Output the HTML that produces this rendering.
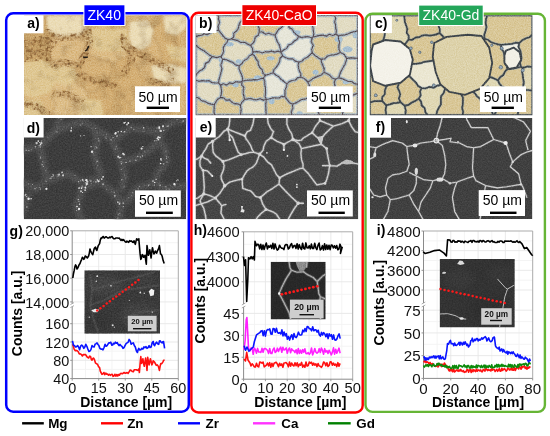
<!DOCTYPE html>
<html><head><meta charset="utf-8"><title>ZK40 microstructure</title>
<style>html,body{margin:0;padding:0;background:#fff;width:550px;height:436px;overflow:hidden}svg{display:block}</style>
</head><body>
<svg width="550" height="436" viewBox="0 0 550 436" font-family='"Liberation Sans", Arial, sans-serif'>
<rect width="550" height="436" fill="#fff"/>
<svg x="24" y="15.3" width="162.2" height="99.7" viewBox="0 0 162.2 99.7" preserveAspectRatio="none" overflow="hidden"><defs><filter color-interpolation-filters="sRGB" id="fba" x="0" y="0" width="1" height="1"><feGaussianBlur stdDeviation="0.5"/></filter><filter color-interpolation-filters="sRGB" id="nba" x="0" y="0" width="1" height="1"><feTurbulence type="fractalNoise" baseFrequency="0.8" numOctaves="2" seed="11"/><feColorMatrix values="1.6 0 0 0 -0.3  1.6 0 0 0 -0.3  1.6 0 0 0 -0.3  0 0 0 0 1"/></filter><filter color-interpolation-filters="sRGB" id="sba" x="-0.5" y="-0.5" width="2" height="2"><feGaussianBlur stdDeviation="2.2"/></filter></defs>
<filter color-interpolation-filters="sRGB" id="ab" x="-0.1" y="-0.1" width="1.2" height="1.2"><feGaussianBlur stdDeviation="1.3"/></filter>
<filter color-interpolation-filters="sRGB" id="ab3" x="-0.1" y="-0.1" width="1.2" height="1.2"><feGaussianBlur stdDeviation="2.2"/></filter>
<filter color-interpolation-filters="sRGB" id="ab2" x="0" y="0" width="1" height="1"><feTurbulence type="fractalNoise" baseFrequency="0.07" numOctaves="3" seed="4"/><feColorMatrix values="0 0 0 0 0.45  0 0 0 0 0.33  0 0 0 0 0.18  0 0 0 -2.2 1.1"/></filter>
<rect width="162.2" height="99.7" fill="#d8b67d"/>
<g filter="url(#ab)">
<path d="M63.0,37.6L61.3,34.3L62.2,30.7L61.5,27.3L59.5,24.8L57.4,22.4L54.9,20.5L53.2,17.8L49.5,16.9L47.3,14.7L47.3,10.4L42.7,10.4L42.0,6.7L39.1,5.1L38.9,0.9L35.3,0.0L29.2,0.0L30.8,3.2L28.4,6.1L28.7,9.1L28.3,12.2L29.4,15.3L28.2,18.2L25.9,21.1L27.9,24.3L25.4,27.2L25.3,30.3L28.6,33.5L25.4,36.4L25.2,39.4L27.7,42.6L27.7,45.7L24.7,48.5L24.6,51.6L26.2,54.7L26.3,57.8L25.1,60.8L27.5,62.1L31.0,62.1L34.3,60.3L37.9,61.5L41.6,62.7L44.9,60.5L47.2,58.2L48.9,55.4L51.6,53.4L52.9,50.3L53.8,46.9L57.2,45.4L59.5,43.1L61.5,40.5Z" fill="#dbba84"/>
<path d="M25.1,60.8L26.3,57.8L26.2,54.7L24.6,51.6L24.7,48.5L27.7,45.7L27.7,42.6L25.2,39.4L25.4,36.4L28.6,33.5L25.3,30.3L25.4,27.2L27.9,24.3L25.9,21.1L28.2,18.2L29.4,15.3L28.3,12.2L28.7,9.1L28.4,6.1L30.8,3.2L29.2,0.0L0.0,0.0L0.0,61.2L3.1,59.8L6.3,63.0L9.4,62.6L12.5,59.0L15.7,59.6L18.8,59.6L22.0,60.3Z" fill="#cfaa70"/>
<path d="M83.6,68.9L83.9,65.3L84.9,62.0L87.1,58.9L88.0,55.5L87.3,51.7L88.6,48.5L86.2,46.3L83.6,44.4L80.1,44.9L76.8,44.6L73.7,44.0L71.9,40.5L68.1,41.5L65.5,39.6L63.0,37.6L61.5,40.5L59.5,43.1L57.2,45.4L53.8,46.9L52.9,50.3L51.6,53.4L48.9,55.4L47.2,58.2L44.9,60.5L47.3,62.6L50.0,64.4L52.6,66.2L53.4,70.2L56.6,71.4L60.1,72.2L61.0,76.1L64.4,77.0L67.9,76.4L71.6,76.1L73.8,72.3L76.6,70.2L81.2,71.9Z" fill="#d6b279"/>
<path d="M107.6,29.0L104.2,28.6L103.2,24.8L100.4,23.5L96.7,23.4L96.3,18.8L93.5,17.6L90.9,16.0L87.7,15.2L85.6,12.9L83.3,15.1L79.9,15.4L77.7,17.9L75.9,21.0L71.5,19.7L69.1,21.9L67.3,25.0L63.4,24.4L61.5,27.3L62.2,30.7L61.3,34.3L63.0,37.6L65.5,39.6L68.1,41.5L71.9,40.5L73.7,44.0L76.8,44.6L80.1,44.9L83.6,44.4L86.2,46.3L88.6,48.5L92.1,47.9L94.0,44.2L97.1,42.9L100.8,42.7L103.7,40.9L105.9,38.3L104.6,34.6L106.2,31.8Z" fill="#dcbc86"/>
<path d="M145.0,63.9L148.3,62.4L151.9,61.7L155.6,61.8L158.7,59.6L162.2,58.8L162.2,0.0L138.4,0.0L135.9,2.5L135.9,6.9L133.5,9.5L129.1,10.7L128.1,14.4L127.9,17.7L128.2,20.8L131.4,22.9L131.4,26.2L134.0,28.5L135.3,31.3L135.0,34.6L137.3,37.1L138.5,39.9L135.8,44.0L140.3,45.7L138.7,49.5L140.5,52.1L140.2,55.4L142.9,57.7L143.1,60.9L144.4,63.7Z" fill="#d5b177"/>
<path d="M122.2,64.9L125.3,63.4L128.5,63.4L131.7,63.9L134.9,65.5L138.0,62.4L141.2,62.9L144.4,63.7L143.1,60.9L142.9,57.7L140.2,55.4L140.5,52.1L138.7,49.5L140.3,45.7L135.8,44.0L138.5,39.9L137.3,37.1L135.0,34.6L135.3,31.3L134.0,28.5L131.4,26.2L131.4,22.9L128.2,20.8L127.9,17.7L128.1,14.4L125.6,16.2L122.9,17.9L121.3,21.0L117.1,20.5L116.4,25.0L111.7,23.9L109.1,25.5L107.6,29.0L106.2,31.8L104.6,34.6L105.9,38.3L103.7,40.9L104.4,44.2L106.0,46.8L109.0,48.2L110.5,51.0L114.1,52.0L115.7,54.6L115.4,58.6L117.1,61.1L119.8,62.9Z" fill="#d9b67e"/>
<path d="M88.6,48.5L87.3,51.7L88.0,55.5L87.1,58.9L84.9,62.0L83.9,65.3L83.6,68.9L87.2,69.8L88.6,73.2L90.1,76.6L94.4,76.6L96.5,79.2L99.7,80.6L100.4,85.0L102.9,87.1L106.3,88.2L107.5,85.2L111.0,83.8L112.7,81.2L113.2,77.7L113.7,74.2L117.6,73.1L118.6,70.0L121.5,68.2L122.2,64.9L119.8,62.9L117.1,61.1L115.4,58.6L115.7,54.6L114.1,52.0L110.5,51.0L109.0,48.2L106.0,46.8L104.4,44.2L103.7,40.9L100.8,42.7L97.1,42.9L94.0,44.2L92.1,47.9Z" fill="#d4af75"/>
<path d="M27.5,62.1L25.1,60.8L22.0,60.3L18.8,59.6L15.7,59.6L12.5,59.0L9.4,62.6L6.3,63.0L3.1,59.8L0.0,61.2L0.0,99.7L30.7,99.7L28.6,96.7L30.4,93.4L31.5,90.2L31.4,87.0L28.1,84.1L29.1,80.9L30.5,77.6L29.8,74.5L26.9,71.6L27.3,68.4L27.3,65.2Z" fill="#dab880"/>
<path d="M44.9,60.5L41.6,62.7L37.9,61.5L34.3,60.3L31.0,62.1L27.5,62.1L27.3,65.2L27.3,68.4L26.9,71.6L29.8,74.5L30.5,77.6L29.1,80.9L28.1,84.1L31.4,87.0L31.5,90.2L30.4,93.4L28.6,96.7L30.7,99.7L64.4,99.7L62.5,96.5L65.0,93.2L63.9,90.0L65.3,86.7L64.2,83.5L63.6,80.2L64.4,77.0L61.0,76.1L60.1,72.2L56.6,71.4L53.4,70.2L52.6,66.2L50.0,64.4L47.3,62.6Z" fill="#ddbe89"/>
<path d="M106.3,88.2L102.9,87.1L100.4,85.0L99.7,80.6L96.5,79.2L94.4,76.6L90.1,76.6L88.6,73.2L87.2,69.8L83.6,68.9L81.2,71.9L76.6,70.2L73.8,72.3L71.6,76.1L67.9,76.4L64.4,77.0L63.6,80.2L64.2,83.5L65.3,86.7L63.9,90.0L65.0,93.2L62.5,96.5L64.4,99.7L106.6,99.7L107.9,95.8L106.3,92.0Z" fill="#d3ae74"/>
<path d="M145.0,63.9L144.4,63.7L141.2,62.9L138.0,62.4L134.9,65.5L131.7,63.9L128.5,63.4L125.3,63.4L122.2,64.9L121.5,68.2L118.6,70.0L117.6,73.1L113.7,74.2L113.2,77.7L112.7,81.2L111.0,83.8L107.5,85.2L106.3,88.2L106.3,92.0L107.9,95.8L106.6,99.7L145.0,99.7L146.7,96.4L143.5,93.2L144.9,89.9L143.4,86.7L146.9,83.4L145.7,80.2L143.3,76.9L144.6,73.7L145.9,70.4L146.6,67.1Z" fill="#d8b57c"/>
<path d="M145.0,63.9L146.6,67.1L145.9,70.4L144.6,73.7L143.3,76.9L145.7,80.2L146.9,83.4L143.4,86.7L144.9,89.9L143.5,93.2L146.7,96.4L145.0,99.7L162.2,99.7L162.2,58.8L158.7,59.6L155.6,61.8L151.9,61.7L148.3,62.4Z" fill="#dab87f"/>
<path d="M61.5,27.3L63.4,24.4L67.3,25.0L69.1,21.9L71.5,19.7L75.9,21.0L77.7,17.9L79.9,15.4L83.3,15.1L85.6,12.9L87.2,9.5L86.9,6.3L83.2,3.4L84.4,0.0L35.3,0.0L38.9,0.9L39.1,5.1L42.0,6.7L42.7,10.4L47.3,10.4L47.3,14.7L49.5,16.9L53.2,17.8L54.9,20.5L57.4,22.4L59.5,24.8Z" fill="#dbba83"/>
<path d="M128.1,14.4L129.1,10.7L133.5,9.5L135.9,6.9L135.9,2.5L138.4,0.0L84.4,0.0L83.2,3.4L86.9,6.3L87.2,9.5L85.6,12.9L87.7,15.2L90.9,16.0L93.5,17.6L96.3,18.8L96.7,23.4L100.4,23.5L103.2,24.8L104.2,28.6L107.6,29.0L109.1,25.5L111.7,23.9L116.4,25.0L117.1,20.5L121.3,21.0L122.9,17.9L125.6,16.2Z" fill="#d8b67d"/>
<path d="M63.0,37.6L61.3,34.3L62.2,30.7L61.5,27.3L59.5,24.8L57.4,22.4L54.9,20.5L53.2,17.8L49.5,16.9L47.3,14.7L47.3,10.4L42.7,10.4L42.0,6.7L39.1,5.1L38.9,0.9L35.3,0.0L29.2,0.0L30.8,3.2L28.4,6.1L28.7,9.1L28.3,12.2L29.4,15.3L28.2,18.2L25.9,21.1L27.9,24.3L25.4,27.2L25.3,30.3L28.6,33.5L25.4,36.4L25.2,39.4L27.7,42.6L27.7,45.7L24.7,48.5L24.6,51.6L26.2,54.7L26.3,57.8L25.1,60.8L27.5,62.1L31.0,62.1L34.3,60.3L37.9,61.5L41.6,62.7L44.9,60.5L47.2,58.2L48.9,55.4L51.6,53.4L52.9,50.3L53.8,46.9L57.2,45.4L59.5,43.1L61.5,40.5ZM25.1,60.8L26.3,57.8L26.2,54.7L24.6,51.6L24.7,48.5L27.7,45.7L27.7,42.6L25.2,39.4L25.4,36.4L28.6,33.5L25.3,30.3L25.4,27.2L27.9,24.3L25.9,21.1L28.2,18.2L29.4,15.3L28.3,12.2L28.7,9.1L28.4,6.1L30.8,3.2L29.2,0.0L0.0,0.0L0.0,61.2L3.1,59.8L6.3,63.0L9.4,62.6L12.5,59.0L15.7,59.6L18.8,59.6L22.0,60.3ZM83.6,68.9L83.9,65.3L84.9,62.0L87.1,58.9L88.0,55.5L87.3,51.7L88.6,48.5L86.2,46.3L83.6,44.4L80.1,44.9L76.8,44.6L73.7,44.0L71.9,40.5L68.1,41.5L65.5,39.6L63.0,37.6L61.5,40.5L59.5,43.1L57.2,45.4L53.8,46.9L52.9,50.3L51.6,53.4L48.9,55.4L47.2,58.2L44.9,60.5L47.3,62.6L50.0,64.4L52.6,66.2L53.4,70.2L56.6,71.4L60.1,72.2L61.0,76.1L64.4,77.0L67.9,76.4L71.6,76.1L73.8,72.3L76.6,70.2L81.2,71.9ZM107.6,29.0L104.2,28.6L103.2,24.8L100.4,23.5L96.7,23.4L96.3,18.8L93.5,17.6L90.9,16.0L87.7,15.2L85.6,12.9L83.3,15.1L79.9,15.4L77.7,17.9L75.9,21.0L71.5,19.7L69.1,21.9L67.3,25.0L63.4,24.4L61.5,27.3L62.2,30.7L61.3,34.3L63.0,37.6L65.5,39.6L68.1,41.5L71.9,40.5L73.7,44.0L76.8,44.6L80.1,44.9L83.6,44.4L86.2,46.3L88.6,48.5L92.1,47.9L94.0,44.2L97.1,42.9L100.8,42.7L103.7,40.9L105.9,38.3L104.6,34.6L106.2,31.8ZM145.0,63.9L148.3,62.4L151.9,61.7L155.6,61.8L158.7,59.6L162.2,58.8L162.2,0.0L138.4,0.0L135.9,2.5L135.9,6.9L133.5,9.5L129.1,10.7L128.1,14.4L127.9,17.7L128.2,20.8L131.4,22.9L131.4,26.2L134.0,28.5L135.3,31.3L135.0,34.6L137.3,37.1L138.5,39.9L135.8,44.0L140.3,45.7L138.7,49.5L140.5,52.1L140.2,55.4L142.9,57.7L143.1,60.9L144.4,63.7ZM122.2,64.9L125.3,63.4L128.5,63.4L131.7,63.9L134.9,65.5L138.0,62.4L141.2,62.9L144.4,63.7L143.1,60.9L142.9,57.7L140.2,55.4L140.5,52.1L138.7,49.5L140.3,45.7L135.8,44.0L138.5,39.9L137.3,37.1L135.0,34.6L135.3,31.3L134.0,28.5L131.4,26.2L131.4,22.9L128.2,20.8L127.9,17.7L128.1,14.4L125.6,16.2L122.9,17.9L121.3,21.0L117.1,20.5L116.4,25.0L111.7,23.9L109.1,25.5L107.6,29.0L106.2,31.8L104.6,34.6L105.9,38.3L103.7,40.9L104.4,44.2L106.0,46.8L109.0,48.2L110.5,51.0L114.1,52.0L115.7,54.6L115.4,58.6L117.1,61.1L119.8,62.9ZM88.6,48.5L87.3,51.7L88.0,55.5L87.1,58.9L84.9,62.0L83.9,65.3L83.6,68.9L87.2,69.8L88.6,73.2L90.1,76.6L94.4,76.6L96.5,79.2L99.7,80.6L100.4,85.0L102.9,87.1L106.3,88.2L107.5,85.2L111.0,83.8L112.7,81.2L113.2,77.7L113.7,74.2L117.6,73.1L118.6,70.0L121.5,68.2L122.2,64.9L119.8,62.9L117.1,61.1L115.4,58.6L115.7,54.6L114.1,52.0L110.5,51.0L109.0,48.2L106.0,46.8L104.4,44.2L103.7,40.9L100.8,42.7L97.1,42.9L94.0,44.2L92.1,47.9ZM27.5,62.1L25.1,60.8L22.0,60.3L18.8,59.6L15.7,59.6L12.5,59.0L9.4,62.6L6.3,63.0L3.1,59.8L0.0,61.2L0.0,99.7L30.7,99.7L28.6,96.7L30.4,93.4L31.5,90.2L31.4,87.0L28.1,84.1L29.1,80.9L30.5,77.6L29.8,74.5L26.9,71.6L27.3,68.4L27.3,65.2ZM44.9,60.5L41.6,62.7L37.9,61.5L34.3,60.3L31.0,62.1L27.5,62.1L27.3,65.2L27.3,68.4L26.9,71.6L29.8,74.5L30.5,77.6L29.1,80.9L28.1,84.1L31.4,87.0L31.5,90.2L30.4,93.4L28.6,96.7L30.7,99.7L64.4,99.7L62.5,96.5L65.0,93.2L63.9,90.0L65.3,86.7L64.2,83.5L63.6,80.2L64.4,77.0L61.0,76.1L60.1,72.2L56.6,71.4L53.4,70.2L52.6,66.2L50.0,64.4L47.3,62.6ZM106.3,88.2L102.9,87.1L100.4,85.0L99.7,80.6L96.5,79.2L94.4,76.6L90.1,76.6L88.6,73.2L87.2,69.8L83.6,68.9L81.2,71.9L76.6,70.2L73.8,72.3L71.6,76.1L67.9,76.4L64.4,77.0L63.6,80.2L64.2,83.5L65.3,86.7L63.9,90.0L65.0,93.2L62.5,96.5L64.4,99.7L106.6,99.7L107.9,95.8L106.3,92.0ZM145.0,63.9L144.4,63.7L141.2,62.9L138.0,62.4L134.9,65.5L131.7,63.9L128.5,63.4L125.3,63.4L122.2,64.9L121.5,68.2L118.6,70.0L117.6,73.1L113.7,74.2L113.2,77.7L112.7,81.2L111.0,83.8L107.5,85.2L106.3,88.2L106.3,92.0L107.9,95.8L106.6,99.7L145.0,99.7L146.7,96.4L143.5,93.2L144.9,89.9L143.4,86.7L146.9,83.4L145.7,80.2L143.3,76.9L144.6,73.7L145.9,70.4L146.6,67.1ZM145.0,63.9L146.6,67.1L145.9,70.4L144.6,73.7L143.3,76.9L145.7,80.2L146.9,83.4L143.4,86.7L144.9,89.9L143.5,93.2L146.7,96.4L145.0,99.7L162.2,99.7L162.2,58.8L158.7,59.6L155.6,61.8L151.9,61.7L148.3,62.4ZM61.5,27.3L63.4,24.4L67.3,25.0L69.1,21.9L71.5,19.7L75.9,21.0L77.7,17.9L79.9,15.4L83.3,15.1L85.6,12.9L87.2,9.5L86.9,6.3L83.2,3.4L84.4,0.0L35.3,0.0L38.9,0.9L39.1,5.1L42.0,6.7L42.7,10.4L47.3,10.4L47.3,14.7L49.5,16.9L53.2,17.8L54.9,20.5L57.4,22.4L59.5,24.8ZM128.1,14.4L129.1,10.7L133.5,9.5L135.9,6.9L135.9,2.5L138.4,0.0L84.4,0.0L83.2,3.4L86.9,6.3L87.2,9.5L85.6,12.9L87.7,15.2L90.9,16.0L93.5,17.6L96.3,18.8L96.7,23.4L100.4,23.5L103.2,24.8L104.2,28.6L107.6,29.0L109.1,25.5L111.7,23.9L116.4,25.0L117.1,20.5L121.3,21.0L122.9,17.9L125.6,16.2Z" fill="none" stroke="#a98556" stroke-width="1.4" opacity="0.45"/>
</g>
<g filter="url(#ab)">
<path d="M-1,47.1L17.7,44.2L29.5,50.1L32.4,64.8L26.5,76.6L11.8,82.5L-1,79.5Z" fill="#dfc792"/>
<path d="M29.5,50.1L50.1,51.5L54.5,61.9L44.2,70.7L32.4,67.7Z" fill="#dfc792"/>
<path d="M141.4,29.5L163,32.4L163,47.1L147.3,44.2Z" fill="#dfc792"/>
<path d="M-1,84L17,85L24,101L-1,101Z" fill="#dfc792"/>
<path d="M56,83L77,85L80,101L56,101Z" fill="#dfc792"/>
<path d="M63,14L103,14L106,34L97,36L74,36L62,27Z" fill="#dfc792"/>
<path d="M22,0L61.9,0L63.3,13.3L56,20.6L35.3,22.1L23.6,16.2Z" fill="#ebdcb6" stroke="#b8976a" stroke-width="1" stroke-opacity="0.5"/>
<path d="M106,5.9L123.7,4.4L129.6,14.7L126.7,29.5L117.8,35.3L107.5,32.4L104.6,20.6Z" fill="#ebdcb6" stroke="#b8976a" stroke-width="1" stroke-opacity="0.5"/>
<path d="M138.4,0L163,0L163,11.8L153.2,20.6L141.4,17.7Z" fill="#ebdcb6" stroke="#b8976a" stroke-width="1" stroke-opacity="0.5"/>
<path d="M126.7,50.1L147.3,48.6L163,53L163,67.7L144.3,69.2L129.6,63.3Z" fill="#ebdcb6" stroke="#b8976a" stroke-width="1" stroke-opacity="0.5"/>
</g>
<filter color-interpolation-filters="sRGB" id="mot" x="0" y="0" width="1" height="1"><feTurbulence type="fractalNoise" baseFrequency="0.32" numOctaves="2" seed="8" result="n"/><feColorMatrix in="n" type="matrix" values="0 0 0 0 0.56  0 0 0 0 0.40  0 0 0 0 0.22  3.2 0 0 0 -1.45" result="c"/><feComposite in="c" in2="SourceAlpha" operator="in"/></filter>
<g filter="url(#ab3)" opacity="0.45">
<path d="M0,27L12,26L22,24L30,28" fill="none" stroke="#a47b4b" stroke-width="4" stroke-linecap="round" stroke-linejoin="round"/>
<path d="M0,38L10,36L20,40" fill="none" stroke="#a47b4b" stroke-width="4" stroke-linecap="round" stroke-linejoin="round"/>
<path d="M23.6,17L35,22.5L56,21L64,14" fill="none" stroke="#a47b4b" stroke-width="4" stroke-linecap="round" stroke-linejoin="round"/>
<path d="M100,30L115,38L128,44L140,52L148,56" fill="none" stroke="#a47b4b" stroke-width="4" stroke-linecap="round" stroke-linejoin="round"/>
<path d="M55,58L68,65L82,68L90,70" fill="none" stroke="#a47b4b" stroke-width="4" stroke-linecap="round" stroke-linejoin="round"/>
<path d="M32,78L45,80L58,86" fill="none" stroke="#a47b4b" stroke-width="4" stroke-linecap="round" stroke-linejoin="round"/>
<path d="M0,88L15,92L25,100" fill="none" stroke="#a47b4b" stroke-width="4" stroke-linecap="round" stroke-linejoin="round"/>
<path d="M98,22L103,30L108,44L100,58" fill="none" stroke="#a47b4b" stroke-width="4" stroke-linecap="round" stroke-linejoin="round"/>
<path d="M64,14L66,28L60,40L54,52" fill="none" stroke="#a47b4b" stroke-width="4" stroke-linecap="round" stroke-linejoin="round"/>
<path d="M128,66L140,70L150,66" fill="none" stroke="#a47b4b" stroke-width="4" stroke-linecap="round" stroke-linejoin="round"/>
<path d="M30,50L40,47L52,50" fill="none" stroke="#a47b4b" stroke-width="4" stroke-linecap="round" stroke-linejoin="round"/>
</g>
<g filter="url(#mot)">
<path d="M0,27L12,26L22,24L30,28" fill="none" stroke="#000" stroke-width="7" stroke-linecap="round" stroke-linejoin="round"/>
<path d="M0,38L10,36L20,40" fill="none" stroke="#000" stroke-width="7" stroke-linecap="round" stroke-linejoin="round"/>
<path d="M23.6,17L35,22.5L56,21L64,14" fill="none" stroke="#000" stroke-width="7" stroke-linecap="round" stroke-linejoin="round"/>
<path d="M100,30L115,38L128,44L140,52L148,56" fill="none" stroke="#000" stroke-width="7" stroke-linecap="round" stroke-linejoin="round"/>
<path d="M55,58L68,65L82,68L90,70" fill="none" stroke="#000" stroke-width="7" stroke-linecap="round" stroke-linejoin="round"/>
<path d="M32,78L45,80L58,86" fill="none" stroke="#000" stroke-width="7" stroke-linecap="round" stroke-linejoin="round"/>
<path d="M0,88L15,92L25,100" fill="none" stroke="#000" stroke-width="7" stroke-linecap="round" stroke-linejoin="round"/>
<path d="M98,22L103,30L108,44L100,58" fill="none" stroke="#000" stroke-width="7" stroke-linecap="round" stroke-linejoin="round"/>
<path d="M64,14L66,28L60,40L54,52" fill="none" stroke="#000" stroke-width="7" stroke-linecap="round" stroke-linejoin="round"/>
<path d="M128,66L140,70L150,66" fill="none" stroke="#000" stroke-width="7" stroke-linecap="round" stroke-linejoin="round"/>
<path d="M30,50L40,47L52,50" fill="none" stroke="#000" stroke-width="7" stroke-linecap="round" stroke-linejoin="round"/>
<path d="M0,22L24,20L30,30L26,46L12,46L0,47Z" fill="#000"/>
</g>
<rect width="162.2" height="99.7" filter="url(#ab2)" opacity="0.35"/>
<circle cx="5.6" cy="25.4" r="0.48" fill="#8a6a44" opacity="0.75"/>
<circle cx="8.9" cy="25.8" r="0.37" fill="#9c7a50" opacity="0.55"/>
<circle cx="7.5" cy="27.3" r="0.77" fill="#6a4e34" opacity="0.55"/>
<circle cx="19.3" cy="22.7" r="0.83" fill="#6a4e34" opacity="0.60"/>
<circle cx="15.6" cy="25.0" r="0.41" fill="#8a6a44" opacity="0.61"/>
<circle cx="23.7" cy="23.4" r="0.63" fill="#8a6a44" opacity="0.89"/>
<circle cx="25.3" cy="27.0" r="0.72" fill="#7a5a3a" opacity="0.71"/>
<circle cx="5.0" cy="35.4" r="0.52" fill="#8a6a44" opacity="0.83"/>
<circle cx="8.1" cy="36.1" r="0.85" fill="#9c7a50" opacity="0.62"/>
<circle cx="11.1" cy="38.8" r="0.74" fill="#9c7a50" opacity="0.69"/>
<circle cx="12.3" cy="36.0" r="0.91" fill="#9c7a50" opacity="0.76"/>
<circle cx="19.6" cy="38.2" r="0.37" fill="#7a5a3a" opacity="0.63"/>
<circle cx="26.2" cy="17.7" r="0.78" fill="#9c7a50" opacity="0.74"/>
<circle cx="29.9" cy="19.0" r="0.51" fill="#9c7a50" opacity="0.79"/>
<circle cx="30.8" cy="19.6" r="0.70" fill="#7a5a3a" opacity="0.55"/>
<circle cx="56.0" cy="19.2" r="0.38" fill="#8a6a44" opacity="0.52"/>
<circle cx="39.2" cy="22.7" r="0.58" fill="#6a4e34" opacity="0.69"/>
<circle cx="57.0" cy="18.9" r="0.78" fill="#7a5a3a" opacity="0.80"/>
<circle cx="41.2" cy="20.5" r="0.35" fill="#7a5a3a" opacity="0.89"/>
<circle cx="51.0" cy="19.6" r="0.73" fill="#9c7a50" opacity="0.52"/>
<circle cx="51.2" cy="22.6" r="0.67" fill="#8a6a44" opacity="0.72"/>
<circle cx="58.2" cy="17.0" r="0.94" fill="#7a5a3a" opacity="0.56"/>
<circle cx="58.2" cy="17.5" r="0.79" fill="#8a6a44" opacity="0.89"/>
<circle cx="58.6" cy="18.0" r="0.92" fill="#9c7a50" opacity="0.57"/>
<circle cx="112.7" cy="35.7" r="0.67" fill="#9c7a50" opacity="0.77"/>
<circle cx="106.7" cy="32.6" r="0.89" fill="#6a4e34" opacity="0.50"/>
<circle cx="102.7" cy="32.2" r="0.49" fill="#9c7a50" opacity="0.45"/>
<circle cx="108.7" cy="33.8" r="0.37" fill="#7a5a3a" opacity="0.48"/>
<circle cx="118.8" cy="38.2" r="0.43" fill="#6a4e34" opacity="0.56"/>
<circle cx="120.7" cy="39.1" r="0.75" fill="#7a5a3a" opacity="0.64"/>
<circle cx="122.1" cy="41.6" r="0.94" fill="#8a6a44" opacity="0.48"/>
<circle cx="125.8" cy="40.7" r="0.46" fill="#6a4e34" opacity="0.51"/>
<circle cx="130.0" cy="47.1" r="0.40" fill="#8a6a44" opacity="0.47"/>
<circle cx="141.5" cy="54.1" r="0.91" fill="#9c7a50" opacity="0.52"/>
<circle cx="132.6" cy="47.4" r="0.39" fill="#6a4e34" opacity="0.45"/>
<circle cx="134.6" cy="48.4" r="0.52" fill="#6a4e34" opacity="0.52"/>
<circle cx="144.4" cy="53.5" r="0.68" fill="#7a5a3a" opacity="0.48"/>
<circle cx="144.7" cy="55.9" r="0.44" fill="#8a6a44" opacity="0.83"/>
<circle cx="54.0" cy="60.1" r="0.59" fill="#9c7a50" opacity="0.71"/>
<circle cx="53.7" cy="59.0" r="0.69" fill="#7a5a3a" opacity="0.87"/>
<circle cx="58.6" cy="58.3" r="0.59" fill="#7a5a3a" opacity="0.66"/>
<circle cx="69.0" cy="62.3" r="0.72" fill="#8a6a44" opacity="0.48"/>
<circle cx="70.0" cy="67.5" r="0.88" fill="#9c7a50" opacity="0.62"/>
<circle cx="71.7" cy="66.4" r="0.72" fill="#8a6a44" opacity="0.75"/>
<circle cx="77.7" cy="64.9" r="0.88" fill="#7a5a3a" opacity="0.50"/>
<circle cx="69.7" cy="64.3" r="0.71" fill="#7a5a3a" opacity="0.54"/>
<circle cx="86.0" cy="69.2" r="0.89" fill="#8a6a44" opacity="0.49"/>
<circle cx="84.4" cy="66.7" r="0.81" fill="#7a5a3a" opacity="0.52"/>
<circle cx="38.6" cy="79.2" r="0.42" fill="#9c7a50" opacity="0.70"/>
<circle cx="43.2" cy="78.1" r="0.43" fill="#7a5a3a" opacity="0.61"/>
<circle cx="46.2" cy="77.8" r="0.56" fill="#9c7a50" opacity="0.75"/>
<circle cx="49.9" cy="83.8" r="0.93" fill="#9c7a50" opacity="0.87"/>
<circle cx="46.6" cy="82.7" r="0.46" fill="#6a4e34" opacity="0.46"/>
<circle cx="53.8" cy="86.3" r="0.83" fill="#9c7a50" opacity="0.57"/>
<circle cx="53.5" cy="86.4" r="0.87" fill="#9c7a50" opacity="0.54"/>
<circle cx="13.1" cy="93.1" r="0.87" fill="#9c7a50" opacity="0.46"/>
<circle cx="2.1" cy="90.4" r="0.93" fill="#7a5a3a" opacity="0.61"/>
<circle cx="8.4" cy="91.5" r="0.55" fill="#8a6a44" opacity="0.50"/>
<circle cx="13.1" cy="93.9" r="0.51" fill="#8a6a44" opacity="0.72"/>
<circle cx="19.7" cy="94.5" r="0.94" fill="#8a6a44" opacity="0.62"/>
<circle cx="19.7" cy="97.5" r="0.35" fill="#9c7a50" opacity="0.61"/>
<circle cx="16.4" cy="91.8" r="0.54" fill="#8a6a44" opacity="0.77"/>
<circle cx="98.7" cy="24.0" r="0.59" fill="#7a5a3a" opacity="0.70"/>
<circle cx="99.7" cy="23.0" r="0.80" fill="#9c7a50" opacity="0.73"/>
<circle cx="104.7" cy="32.0" r="0.52" fill="#6a4e34" opacity="0.80"/>
<circle cx="105.3" cy="38.2" r="0.76" fill="#6a4e34" opacity="0.81"/>
<circle cx="108.8" cy="44.1" r="0.52" fill="#7a5a3a" opacity="0.49"/>
<circle cx="106.6" cy="42.5" r="0.83" fill="#9c7a50" opacity="0.46"/>
<circle cx="105.9" cy="49.0" r="0.39" fill="#6a4e34" opacity="0.85"/>
<circle cx="104.4" cy="51.5" r="0.59" fill="#9c7a50" opacity="0.75"/>
<circle cx="109.1" cy="45.3" r="0.41" fill="#6a4e34" opacity="0.55"/>
<circle cx="102.4" cy="55.1" r="0.68" fill="#8a6a44" opacity="0.66"/>
<circle cx="66.3" cy="27.4" r="0.71" fill="#6a4e34" opacity="0.73"/>
<circle cx="65.5" cy="25.5" r="0.68" fill="#9c7a50" opacity="0.78"/>
<circle cx="63.9" cy="19.5" r="0.73" fill="#6a4e34" opacity="0.73"/>
<circle cx="62.7" cy="16.9" r="0.51" fill="#7a5a3a" opacity="0.85"/>
<circle cx="64.0" cy="28.5" r="0.44" fill="#9c7a50" opacity="0.48"/>
<circle cx="63.7" cy="32.5" r="0.47" fill="#6a4e34" opacity="0.63"/>
<circle cx="63.3" cy="35.1" r="0.88" fill="#6a4e34" opacity="0.66"/>
<circle cx="53.5" cy="50.8" r="0.88" fill="#6a4e34" opacity="0.69"/>
<circle cx="56.9" cy="50.6" r="0.64" fill="#7a5a3a" opacity="0.65"/>
<circle cx="59.1" cy="41.1" r="0.59" fill="#9c7a50" opacity="0.83"/>
<circle cx="141.1" cy="69.8" r="0.89" fill="#8a6a44" opacity="0.49"/>
<circle cx="134.8" cy="66.3" r="0.51" fill="#7a5a3a" opacity="0.55"/>
<circle cx="133.1" cy="66.8" r="0.80" fill="#6a4e34" opacity="0.56"/>
<circle cx="138.7" cy="69.8" r="0.95" fill="#7a5a3a" opacity="0.55"/>
<circle cx="142.7" cy="67.7" r="0.37" fill="#9c7a50" opacity="0.54"/>
<circle cx="138.7" cy="68.3" r="0.75" fill="#9c7a50" opacity="0.66"/>
<circle cx="32.0" cy="49.7" r="0.93" fill="#8a6a44" opacity="0.80"/>
<circle cx="30.8" cy="49.9" r="0.91" fill="#6a4e34" opacity="0.63"/>
<circle cx="46.7" cy="50.0" r="0.73" fill="#8a6a44" opacity="0.76"/>
<circle cx="44.4" cy="49.2" r="0.83" fill="#8a6a44" opacity="0.61"/>
<circle cx="44.6" cy="48.3" r="0.55" fill="#6a4e34" opacity="0.82"/>
<path d="M64.2,30.2L65.4,31.4L63,35.2L61.6,36.3L60.6,35.6L62.4,34Z" fill="#1e1812"/>
<path d="M59,41.1L63.9,41.2L63.7,42.7L59.3,42.6Z" fill="#1e1812"/>
<rect width="162.2" height="99.7" filter="url(#nba)" opacity="0.2" style="mix-blend-mode:overlay"/></svg>
<svg x="195.6" y="15.3" width="162.4" height="99.9" viewBox="0 0 162.4 99.9" preserveAspectRatio="none" overflow="hidden"><defs><filter color-interpolation-filters="sRGB" id="fb" x="0" y="0" width="1" height="1"><feGaussianBlur stdDeviation="0.45"/></filter><filter color-interpolation-filters="sRGB" id="nb" x="0" y="0" width="1" height="1"><feTurbulence type="fractalNoise" baseFrequency="0.9" numOctaves="2" seed="3"/><feColorMatrix values="1.6 0 0 0 -0.3  1.6 0 0 0 -0.3  1.6 0 0 0 -0.3  0 0 0 0 1"/></filter></defs>
<g filter="url(#fb)">
<rect width="162.4" height="99.9" fill="#d8c9a0"/>
<path d="M23.1,14.9L25.0,17.6L27.1,20.2L29.3,22.7L32.3,24.4L35.8,23.7L38.2,21.6L38.1,18.0L40.6,15.9L42.6,13.6L43.2,10.4L44.2,7.5L46.3,5.2L47.3,2.2L49.5,0.0L23.1,0.0L22.9,3.7L24.0,7.4L22.3,11.2Z" fill="#e2dcc3"/>
<path d="M58.7,0.0L49.5,0.0L47.3,2.2L46.3,5.2L44.2,7.5L43.2,10.4L42.6,13.6L40.6,15.9L38.1,18.0L38.2,21.6L35.8,23.7L39.1,24.5L42.3,25.4L45.3,27.2L49.0,27.0L51.9,28.8L55.0,30.1L57.5,27.9L59.1,25.2L59.7,21.8L62.7,19.9L63.6,16.7L63.6,13.1L62.2,9.9L60.5,6.7L60.5,3.1Z" fill="#dac898"/>
<path d="M117.6,21.7L120.8,20.9L124.0,20.1L127.2,19.8L130.7,21.0L133.7,19.0L137.2,20.2L140.3,18.8L140.7,15.6L140.2,12.5L139.9,9.4L139.0,6.3L140.1,3.1L138.9,0.0L115.7,0.0L115.2,3.2L115.4,6.3L116.4,9.3L117.4,12.4L117.7,15.4L118.2,18.5Z" fill="#e2dcc3"/>
<path d="M142.7,20.5L146.0,19.8L149.5,19.6L152.7,18.5L155.9,17.1L159.2,16.4L162.4,15.3L162.4,0.0L138.9,0.0L140.1,3.1L139.0,6.3L139.9,9.4L140.2,12.5L140.7,15.6L140.3,18.8Z" fill="#e2dcc3"/>
<path d="M116.6,22.9L117.6,21.7L118.2,18.5L117.7,15.4L117.4,12.4L116.4,9.3L115.4,6.3L115.2,3.2L115.7,0.0L90.3,0.0L90.5,3.5L89.8,7.0L92.6,8.7L93.6,12.3L96.6,13.9L98.2,16.9L100.4,19.2L103.2,21.1L106.4,22.4L110.0,21.4L113.4,21.5Z" fill="#e2dcc3"/>
<path d="M103.2,21.1L100.4,19.2L98.2,16.9L96.6,13.9L93.6,12.3L92.6,8.7L89.8,7.0L87.9,9.7L85.8,12.3L82.9,14.2L81.2,17.1L79.5,19.9L80.5,23.3L81.9,26.7L83.8,29.8L84.7,33.2L85.4,36.8L88.2,34.8L91.2,33.0L92.8,29.8L96.2,28.5L98.4,25.9L101.4,24.1Z" fill="#e7e6d9"/>
<path d="M89.8,7.0L90.5,3.5L90.3,0.0L58.7,0.0L60.5,3.1L60.5,6.7L62.2,9.9L63.6,13.1L63.6,16.7L66.9,16.7L69.8,19.0L73.3,17.9L76.3,19.2L79.5,19.9L81.2,17.1L82.9,14.2L85.8,12.3L87.9,9.7Z" fill="#dac898"/>
<path d="M23.1,14.9L22.3,11.2L24.0,7.4L22.9,3.7L23.1,0.0L0.0,0.0L0.0,21.6L2.8,20.3L5.8,20.0L8.5,18.6L11.9,19.3L14.5,17.6L17.1,15.8L20.1,15.2Z" fill="#dac898"/>
<path d="M32.3,24.4L29.3,22.7L27.1,20.2L25.0,17.6L23.1,14.9L20.1,15.2L17.1,15.8L14.5,17.6L11.9,19.3L8.5,18.6L5.8,20.0L2.8,20.3L0.0,21.6L0.0,29.1L2.2,32.0L5.2,33.8L8.3,35.5L11.0,37.6L13.7,39.8L16.8,41.4L21.1,42.3L25.3,41.3L27.1,38.8L28.0,35.8L27.8,32.4L29.1,29.7L31.4,27.3Z" fill="#dac898"/>
<path d="M55.0,30.1L51.9,28.8L49.0,27.0L45.3,27.2L42.3,25.4L39.1,24.5L35.8,23.7L32.3,24.4L31.4,27.3L29.1,29.7L27.8,32.4L28.0,35.8L27.1,38.8L25.3,41.3L26.9,43.9L30.6,44.4L33.9,45.8L37.2,47.2L40.1,49.6L43.6,50.5L46.3,48.2L48.4,45.2L51.6,43.5L53.8,40.6L56.8,38.7L57.2,36.9L56.9,33.2Z" fill="#e2dcc3"/>
<path d="M85.4,36.8L84.7,33.2L83.8,29.8L81.9,26.7L80.5,23.3L79.5,19.9L76.3,19.2L73.3,17.9L69.8,19.0L66.9,16.7L63.6,16.7L62.7,19.9L59.7,21.8L59.1,25.2L57.5,27.9L55.0,30.1L56.9,33.2L57.2,36.9L60.3,36.3L63.4,36.5L66.6,37.7L69.7,36.5L72.9,36.5L76.0,35.8L79.1,36.8L82.3,35.8L85.4,36.9Z" fill="#e2dcc3"/>
<path d="M87.0,40.7L90.1,42.4L93.4,43.6L97.1,43.5L99.9,45.9L103.3,46.8L106.4,45.7L108.8,43.4L111.7,42.0L114.1,39.7L116.5,37.5L116.1,33.9L117.6,30.2L115.6,26.5L116.6,22.9L113.4,21.5L110.0,21.4L106.4,22.4L103.2,21.1L101.4,24.1L98.4,25.9L96.2,28.5L92.8,29.8L91.2,33.0L88.2,34.8L85.4,36.8L85.4,36.9Z" fill="#e7e6d9"/>
<path d="M144.8,37.1L143.4,33.9L143.2,30.6L144.1,27.1L143.0,23.9L142.7,20.5L140.3,18.8L137.2,20.2L133.7,19.0L130.7,21.0L127.2,19.8L124.0,20.1L120.8,20.9L117.6,21.7L116.6,22.9L115.6,26.5L117.6,30.2L116.1,33.9L116.5,37.5L119.3,40.1L122.3,42.2L125.6,44.1L129.1,43.5L131.8,41.0L135.0,39.9L138.4,39.5L141.8,38.8Z" fill="#dac898"/>
<path d="M142.7,20.5L143.0,23.9L144.1,27.1L143.2,30.6L143.4,33.9L144.8,37.1L148.7,39.3L151.2,43.0L154.9,42.6L158.7,42.8L162.4,43.0L162.4,15.3L159.2,16.4L155.9,17.1L152.7,18.5L149.5,19.6L146.0,19.8Z" fill="#e2dcc3"/>
<path d="M0.0,29.1L0.0,60.9L1.6,58.0L3.9,55.7L7.0,54.2L9.2,51.8L9.8,48.1L13.1,46.6L14.6,43.7L16.8,41.4L13.7,39.8L11.0,37.6L8.3,35.5L5.2,33.8L2.2,32.0Z" fill="#e2dcc3"/>
<path d="M23.0,67.7L23.3,64.7L24.1,61.8L25.0,58.9L25.7,55.9L26.3,53.0L25.2,49.7L26.4,46.9L26.9,43.9L25.3,41.3L21.1,42.3L16.8,41.4L14.6,43.7L13.1,46.6L9.8,48.1L9.2,51.8L7.0,54.2L3.9,55.7L1.6,58.0L0.0,60.9L0.0,64.7L3.2,66.0L6.6,65.4L9.9,65.7L13.3,65.3L16.4,67.4L19.7,67.7Z" fill="#e2dcc3"/>
<path d="M43.6,50.5L40.1,49.6L37.2,47.2L33.9,45.8L30.6,44.4L26.9,43.9L26.4,46.9L25.2,49.7L26.3,53.0L25.7,55.9L25.0,58.9L24.1,61.8L23.3,64.7L23.0,67.7L24.9,69.7L27.8,68.4L31.2,69.8L34.0,67.5L37.3,68.4L40.1,66.4L43.3,66.9L46.4,66.4L46.7,65.9L47.0,62.6L46.1,59.6L44.7,56.7L43.5,53.7Z" fill="#e2dcc3"/>
<path d="M69.7,60.1L67.3,57.9L66.7,54.6L64.4,52.4L62.9,49.6L62.5,46.2L60.5,43.8L59.2,40.9L56.8,38.7L53.8,40.6L51.6,43.5L48.4,45.2L46.3,48.2L43.6,50.5L43.5,53.7L44.7,56.7L46.1,59.6L47.0,62.6L46.7,65.9L49.7,65.2L52.7,64.9L55.7,64.9L58.7,64.4L61.8,64.5L64.7,63.4L67.7,62.8Z" fill="#dac898"/>
<path d="M77.4,57.5L78.4,54.4L80.7,52.0L82.5,49.3L84.0,46.5L84.5,43.0L87.0,40.7L85.4,36.9L82.3,35.8L79.1,36.8L76.0,35.8L72.9,36.5L69.7,36.5L66.6,37.7L63.4,36.5L60.3,36.3L57.2,36.9L56.8,38.7L59.2,40.9L60.5,43.8L62.5,46.2L62.9,49.6L64.4,52.4L66.7,54.6L67.3,57.9L69.7,60.1L73.6,58.9Z" fill="#dac898"/>
<path d="M91.3,68.6L93.6,66.3L96.5,65.2L99.7,64.7L102.1,62.5L105.1,61.7L105.3,58.7L103.8,55.8L103.0,52.9L102.5,49.9L103.3,46.8L99.9,45.9L97.1,43.5L93.4,43.6L90.1,42.4L87.0,40.7L84.5,43.0L84.0,46.5L82.5,49.3L80.7,52.0L78.4,54.4L77.4,57.5L80.2,59.7L83.3,61.5L85.7,64.3L88.6,66.4Z" fill="#e7e6d9"/>
<path d="M128.4,57.0L128.6,53.5L127.4,50.4L126.0,47.3L125.6,44.1L122.3,42.2L119.3,40.1L116.5,37.5L114.1,39.7L111.7,42.0L108.8,43.4L106.4,45.7L103.3,46.8L102.5,49.9L103.0,52.9L103.8,55.8L105.3,58.7L105.1,61.7L109.1,63.5L112.2,66.7L114.9,65.2L117.4,63.1L120.2,61.8L123.2,60.6L126.1,59.4Z" fill="#dac898"/>
<path d="M128.4,57.0L131.4,58.5L134.4,60.0L136.7,62.7L139.8,64.0L143.1,62.5L144.0,59.6L145.0,56.7L146.5,54.1L147.9,51.4L149.5,48.8L150.3,45.8L151.2,43.0L148.7,39.3L144.8,37.1L141.8,38.8L138.4,39.5L135.0,39.9L131.8,41.0L129.1,43.5L125.6,44.1L126.0,47.3L127.4,50.4L128.6,53.5Z" fill="#e2dcc3"/>
<path d="M162.4,69.0L162.4,43.0L158.7,42.8L154.9,42.6L151.2,43.0L150.3,45.8L149.5,48.8L147.9,51.4L146.5,54.1L145.0,56.7L144.0,59.6L143.1,62.5L146.4,63.3L149.5,64.7L152.6,66.2L156.2,66.2L159.0,68.4Z" fill="#e2dcc3"/>
<path d="M23.0,67.7L19.7,67.7L16.4,67.4L13.3,65.3L9.9,65.7L6.6,65.4L3.2,66.0L0.0,64.7L0.0,81.9L3.3,82.8L5.9,85.4L9.2,86.1L12.2,87.8L15.4,88.8L18.8,89.4L20.3,86.5L22.1,83.9L24.9,82.1L25.6,79.0L26.0,75.9L25.6,72.8L24.9,69.7Z" fill="#e2dcc3"/>
<path d="M46.4,66.4L43.3,66.9L40.1,66.4L37.3,68.4L34.0,67.5L31.2,69.8L27.8,68.4L24.9,69.7L25.6,72.8L26.0,75.9L25.6,79.0L24.9,82.1L28.0,82.6L30.4,84.8L33.8,84.5L36.2,86.8L38.8,88.4L42.1,88.5L44.8,90.0L46.4,86.8L48.9,84.2L48.5,81.3L47.6,78.4L47.7,75.3L48.3,72.2L46.1,69.5Z" fill="#dac898"/>
<path d="M46.7,65.9L46.4,66.4L46.1,69.5L48.3,72.2L47.7,75.3L47.6,78.4L48.5,81.3L48.9,84.2L52.0,83.5L55.1,83.2L58.2,84.3L61.3,84.5L64.5,83.4L67.6,84.8L70.7,84.2L70.7,84.2L69.4,81.3L69.9,78.1L69.9,75.0L69.8,71.9L69.2,68.8L69.1,65.7L67.7,62.8L64.7,63.4L61.8,64.5L58.7,64.4L55.7,64.9L52.7,64.9L49.7,65.2Z" fill="#dac898"/>
<path d="M70.7,84.2L73.9,83.7L76.9,82.6L80.0,82.5L83.2,82.7L86.2,81.1L89.4,81.6L89.5,78.3L89.4,74.9L90.8,71.8L91.3,68.6L88.6,66.4L85.7,64.3L83.3,61.5L80.2,59.7L77.4,57.5L73.6,58.9L69.7,60.1L67.7,62.8L69.1,65.7L69.2,68.8L69.8,71.9L69.9,75.0L69.9,78.1L69.4,81.3Z" fill="#e7e6d9"/>
<path d="M96.8,88.9L100.0,87.8L103.0,86.1L105.9,84.2L109.6,83.9L112.7,82.4L115.7,80.7L115.5,77.0L113.9,73.7L113.7,70.0L112.2,66.7L109.1,63.5L105.1,61.7L102.1,62.5L99.7,64.7L96.5,65.2L93.6,66.3L91.3,68.6L90.8,71.8L89.4,74.9L89.5,78.3L89.4,81.6L91.6,84.3L93.7,87.1Z" fill="#dac898"/>
<path d="M115.7,80.7L120.8,83.8L123.8,82.0L126.8,80.2L129.9,78.5L133.1,77.3L136.7,76.7L138.3,73.7L139.3,70.6L138.7,67.1L139.8,64.0L136.7,62.7L134.4,60.0L131.4,58.5L128.4,57.0L126.1,59.4L123.2,60.6L120.2,61.8L117.4,63.1L114.9,65.2L112.2,66.7L113.7,70.0L113.9,73.7L115.5,77.0Z" fill="#dac898"/>
<path d="M18.8,89.4L15.4,88.8L12.2,87.8L9.2,86.1L5.9,85.4L3.3,82.8L0.0,81.9L0.0,99.9L18.8,99.9L18.4,96.4L18.6,92.9Z" fill="#dac898"/>
<path d="M18.8,89.4L18.6,92.9L18.4,96.4L18.8,99.9L44.8,99.9L45.3,96.6L45.5,93.3L44.8,90.0L42.1,88.5L38.8,88.4L36.2,86.8L33.8,84.5L30.4,84.8L28.0,82.6L24.9,82.1L22.1,83.9L20.3,86.5Z" fill="#dac898"/>
<path d="M70.7,84.2L67.6,84.8L64.5,83.4L61.3,84.5L58.2,84.3L55.1,83.2L52.0,83.5L48.9,84.2L46.4,86.8L44.8,90.0L45.5,93.3L45.3,96.6L44.8,99.9L70.7,99.9L70.3,96.8L70.4,93.6L70.0,90.5L70.3,87.4Z" fill="#e2dcc3"/>
<path d="M96.8,88.9L93.7,87.1L91.6,84.3L89.4,81.6L86.2,81.1L83.2,82.7L80.0,82.5L76.9,82.6L73.9,83.7L70.7,84.2L70.7,84.2L70.3,87.4L70.0,90.5L70.4,93.6L70.3,96.8L70.7,99.9L96.1,99.9L95.8,96.2L97.3,92.6Z" fill="#dac898"/>
<path d="M96.8,88.9L97.3,92.6L95.8,96.2L96.1,99.9L124.0,99.9L122.6,96.8L122.5,93.5L121.5,90.3L120.5,87.2L120.8,83.8L115.7,80.7L112.7,82.4L109.6,83.9L105.9,84.2L103.0,86.1L100.0,87.8Z" fill="#e2dcc3"/>
<path d="M124.0,99.9L147.0,99.9L147.2,96.7L148.0,93.6L147.5,90.4L147.2,87.2L144.1,85.1L142.3,81.5L138.6,80.0L136.7,76.7L133.1,77.3L129.9,78.5L126.8,80.2L123.8,82.0L120.8,83.8L120.5,87.2L121.5,90.3L122.5,93.5L122.6,96.8Z" fill="#dac898"/>
<path d="M147.2,87.2L147.5,90.4L148.0,93.6L147.2,96.7L147.0,99.9L162.4,99.9L162.4,77.9L159.0,79.1L155.8,80.8L153.8,84.4L149.8,84.7Z" fill="#e2dcc3"/>
<path d="M143.1,62.5L139.8,64.0L138.7,67.1L139.3,70.6L138.3,73.7L136.7,76.7L138.6,80.0L142.3,81.5L144.1,85.1L147.2,87.2L149.8,84.7L153.8,84.4L155.8,80.8L159.0,79.1L162.4,77.9L162.4,69.0L159.0,68.4L156.2,66.2L152.6,66.2L149.5,64.7L146.4,63.3Z" fill="#dac898"/>
<path d="M23.1,14.9L25.0,17.6L27.1,20.2L29.3,22.7L32.3,24.4L35.8,23.7L38.2,21.6L38.1,18.0L40.6,15.9L42.6,13.6L43.2,10.4L44.2,7.5L46.3,5.2L47.3,2.2L49.5,0.0L23.1,0.0L22.9,3.7L24.0,7.4L22.3,11.2ZM58.7,0.0L49.5,0.0L47.3,2.2L46.3,5.2L44.2,7.5L43.2,10.4L42.6,13.6L40.6,15.9L38.1,18.0L38.2,21.6L35.8,23.7L39.1,24.5L42.3,25.4L45.3,27.2L49.0,27.0L51.9,28.8L55.0,30.1L57.5,27.9L59.1,25.2L59.7,21.8L62.7,19.9L63.6,16.7L63.6,13.1L62.2,9.9L60.5,6.7L60.5,3.1ZM117.6,21.7L120.8,20.9L124.0,20.1L127.2,19.8L130.7,21.0L133.7,19.0L137.2,20.2L140.3,18.8L140.7,15.6L140.2,12.5L139.9,9.4L139.0,6.3L140.1,3.1L138.9,0.0L115.7,0.0L115.2,3.2L115.4,6.3L116.4,9.3L117.4,12.4L117.7,15.4L118.2,18.5ZM142.7,20.5L146.0,19.8L149.5,19.6L152.7,18.5L155.9,17.1L159.2,16.4L162.4,15.3L162.4,0.0L138.9,0.0L140.1,3.1L139.0,6.3L139.9,9.4L140.2,12.5L140.7,15.6L140.3,18.8ZM116.6,22.9L117.6,21.7L118.2,18.5L117.7,15.4L117.4,12.4L116.4,9.3L115.4,6.3L115.2,3.2L115.7,0.0L90.3,0.0L90.5,3.5L89.8,7.0L92.6,8.7L93.6,12.3L96.6,13.9L98.2,16.9L100.4,19.2L103.2,21.1L106.4,22.4L110.0,21.4L113.4,21.5ZM103.2,21.1L100.4,19.2L98.2,16.9L96.6,13.9L93.6,12.3L92.6,8.7L89.8,7.0L87.9,9.7L85.8,12.3L82.9,14.2L81.2,17.1L79.5,19.9L80.5,23.3L81.9,26.7L83.8,29.8L84.7,33.2L85.4,36.8L88.2,34.8L91.2,33.0L92.8,29.8L96.2,28.5L98.4,25.9L101.4,24.1ZM89.8,7.0L90.5,3.5L90.3,0.0L58.7,0.0L60.5,3.1L60.5,6.7L62.2,9.9L63.6,13.1L63.6,16.7L66.9,16.7L69.8,19.0L73.3,17.9L76.3,19.2L79.5,19.9L81.2,17.1L82.9,14.2L85.8,12.3L87.9,9.7ZM23.1,14.9L22.3,11.2L24.0,7.4L22.9,3.7L23.1,0.0L0.0,0.0L0.0,21.6L2.8,20.3L5.8,20.0L8.5,18.6L11.9,19.3L14.5,17.6L17.1,15.8L20.1,15.2ZM32.3,24.4L29.3,22.7L27.1,20.2L25.0,17.6L23.1,14.9L20.1,15.2L17.1,15.8L14.5,17.6L11.9,19.3L8.5,18.6L5.8,20.0L2.8,20.3L0.0,21.6L0.0,29.1L2.2,32.0L5.2,33.8L8.3,35.5L11.0,37.6L13.7,39.8L16.8,41.4L21.1,42.3L25.3,41.3L27.1,38.8L28.0,35.8L27.8,32.4L29.1,29.7L31.4,27.3ZM55.0,30.1L51.9,28.8L49.0,27.0L45.3,27.2L42.3,25.4L39.1,24.5L35.8,23.7L32.3,24.4L31.4,27.3L29.1,29.7L27.8,32.4L28.0,35.8L27.1,38.8L25.3,41.3L26.9,43.9L30.6,44.4L33.9,45.8L37.2,47.2L40.1,49.6L43.6,50.5L46.3,48.2L48.4,45.2L51.6,43.5L53.8,40.6L56.8,38.7L57.2,36.9L56.9,33.2ZM85.4,36.8L84.7,33.2L83.8,29.8L81.9,26.7L80.5,23.3L79.5,19.9L76.3,19.2L73.3,17.9L69.8,19.0L66.9,16.7L63.6,16.7L62.7,19.9L59.7,21.8L59.1,25.2L57.5,27.9L55.0,30.1L56.9,33.2L57.2,36.9L60.3,36.3L63.4,36.5L66.6,37.7L69.7,36.5L72.9,36.5L76.0,35.8L79.1,36.8L82.3,35.8L85.4,36.9ZM87.0,40.7L90.1,42.4L93.4,43.6L97.1,43.5L99.9,45.9L103.3,46.8L106.4,45.7L108.8,43.4L111.7,42.0L114.1,39.7L116.5,37.5L116.1,33.9L117.6,30.2L115.6,26.5L116.6,22.9L113.4,21.5L110.0,21.4L106.4,22.4L103.2,21.1L101.4,24.1L98.4,25.9L96.2,28.5L92.8,29.8L91.2,33.0L88.2,34.8L85.4,36.8L85.4,36.9ZM144.8,37.1L143.4,33.9L143.2,30.6L144.1,27.1L143.0,23.9L142.7,20.5L140.3,18.8L137.2,20.2L133.7,19.0L130.7,21.0L127.2,19.8L124.0,20.1L120.8,20.9L117.6,21.7L116.6,22.9L115.6,26.5L117.6,30.2L116.1,33.9L116.5,37.5L119.3,40.1L122.3,42.2L125.6,44.1L129.1,43.5L131.8,41.0L135.0,39.9L138.4,39.5L141.8,38.8ZM142.7,20.5L143.0,23.9L144.1,27.1L143.2,30.6L143.4,33.9L144.8,37.1L148.7,39.3L151.2,43.0L154.9,42.6L158.7,42.8L162.4,43.0L162.4,15.3L159.2,16.4L155.9,17.1L152.7,18.5L149.5,19.6L146.0,19.8ZM0.0,29.1L0.0,60.9L1.6,58.0L3.9,55.7L7.0,54.2L9.2,51.8L9.8,48.1L13.1,46.6L14.6,43.7L16.8,41.4L13.7,39.8L11.0,37.6L8.3,35.5L5.2,33.8L2.2,32.0ZM23.0,67.7L23.3,64.7L24.1,61.8L25.0,58.9L25.7,55.9L26.3,53.0L25.2,49.7L26.4,46.9L26.9,43.9L25.3,41.3L21.1,42.3L16.8,41.4L14.6,43.7L13.1,46.6L9.8,48.1L9.2,51.8L7.0,54.2L3.9,55.7L1.6,58.0L0.0,60.9L0.0,64.7L3.2,66.0L6.6,65.4L9.9,65.7L13.3,65.3L16.4,67.4L19.7,67.7ZM43.6,50.5L40.1,49.6L37.2,47.2L33.9,45.8L30.6,44.4L26.9,43.9L26.4,46.9L25.2,49.7L26.3,53.0L25.7,55.9L25.0,58.9L24.1,61.8L23.3,64.7L23.0,67.7L24.9,69.7L27.8,68.4L31.2,69.8L34.0,67.5L37.3,68.4L40.1,66.4L43.3,66.9L46.4,66.4L46.7,65.9L47.0,62.6L46.1,59.6L44.7,56.7L43.5,53.7ZM69.7,60.1L67.3,57.9L66.7,54.6L64.4,52.4L62.9,49.6L62.5,46.2L60.5,43.8L59.2,40.9L56.8,38.7L53.8,40.6L51.6,43.5L48.4,45.2L46.3,48.2L43.6,50.5L43.5,53.7L44.7,56.7L46.1,59.6L47.0,62.6L46.7,65.9L49.7,65.2L52.7,64.9L55.7,64.9L58.7,64.4L61.8,64.5L64.7,63.4L67.7,62.8ZM77.4,57.5L78.4,54.4L80.7,52.0L82.5,49.3L84.0,46.5L84.5,43.0L87.0,40.7L85.4,36.9L82.3,35.8L79.1,36.8L76.0,35.8L72.9,36.5L69.7,36.5L66.6,37.7L63.4,36.5L60.3,36.3L57.2,36.9L56.8,38.7L59.2,40.9L60.5,43.8L62.5,46.2L62.9,49.6L64.4,52.4L66.7,54.6L67.3,57.9L69.7,60.1L73.6,58.9ZM91.3,68.6L93.6,66.3L96.5,65.2L99.7,64.7L102.1,62.5L105.1,61.7L105.3,58.7L103.8,55.8L103.0,52.9L102.5,49.9L103.3,46.8L99.9,45.9L97.1,43.5L93.4,43.6L90.1,42.4L87.0,40.7L84.5,43.0L84.0,46.5L82.5,49.3L80.7,52.0L78.4,54.4L77.4,57.5L80.2,59.7L83.3,61.5L85.7,64.3L88.6,66.4ZM128.4,57.0L128.6,53.5L127.4,50.4L126.0,47.3L125.6,44.1L122.3,42.2L119.3,40.1L116.5,37.5L114.1,39.7L111.7,42.0L108.8,43.4L106.4,45.7L103.3,46.8L102.5,49.9L103.0,52.9L103.8,55.8L105.3,58.7L105.1,61.7L109.1,63.5L112.2,66.7L114.9,65.2L117.4,63.1L120.2,61.8L123.2,60.6L126.1,59.4ZM128.4,57.0L131.4,58.5L134.4,60.0L136.7,62.7L139.8,64.0L143.1,62.5L144.0,59.6L145.0,56.7L146.5,54.1L147.9,51.4L149.5,48.8L150.3,45.8L151.2,43.0L148.7,39.3L144.8,37.1L141.8,38.8L138.4,39.5L135.0,39.9L131.8,41.0L129.1,43.5L125.6,44.1L126.0,47.3L127.4,50.4L128.6,53.5ZM162.4,69.0L162.4,43.0L158.7,42.8L154.9,42.6L151.2,43.0L150.3,45.8L149.5,48.8L147.9,51.4L146.5,54.1L145.0,56.7L144.0,59.6L143.1,62.5L146.4,63.3L149.5,64.7L152.6,66.2L156.2,66.2L159.0,68.4ZM23.0,67.7L19.7,67.7L16.4,67.4L13.3,65.3L9.9,65.7L6.6,65.4L3.2,66.0L0.0,64.7L0.0,81.9L3.3,82.8L5.9,85.4L9.2,86.1L12.2,87.8L15.4,88.8L18.8,89.4L20.3,86.5L22.1,83.9L24.9,82.1L25.6,79.0L26.0,75.9L25.6,72.8L24.9,69.7ZM46.4,66.4L43.3,66.9L40.1,66.4L37.3,68.4L34.0,67.5L31.2,69.8L27.8,68.4L24.9,69.7L25.6,72.8L26.0,75.9L25.6,79.0L24.9,82.1L28.0,82.6L30.4,84.8L33.8,84.5L36.2,86.8L38.8,88.4L42.1,88.5L44.8,90.0L46.4,86.8L48.9,84.2L48.5,81.3L47.6,78.4L47.7,75.3L48.3,72.2L46.1,69.5ZM46.7,65.9L46.4,66.4L46.1,69.5L48.3,72.2L47.7,75.3L47.6,78.4L48.5,81.3L48.9,84.2L52.0,83.5L55.1,83.2L58.2,84.3L61.3,84.5L64.5,83.4L67.6,84.8L70.7,84.2L70.7,84.2L69.4,81.3L69.9,78.1L69.9,75.0L69.8,71.9L69.2,68.8L69.1,65.7L67.7,62.8L64.7,63.4L61.8,64.5L58.7,64.4L55.7,64.9L52.7,64.9L49.7,65.2ZM70.7,84.2L73.9,83.7L76.9,82.6L80.0,82.5L83.2,82.7L86.2,81.1L89.4,81.6L89.5,78.3L89.4,74.9L90.8,71.8L91.3,68.6L88.6,66.4L85.7,64.3L83.3,61.5L80.2,59.7L77.4,57.5L73.6,58.9L69.7,60.1L67.7,62.8L69.1,65.7L69.2,68.8L69.8,71.9L69.9,75.0L69.9,78.1L69.4,81.3ZM96.8,88.9L100.0,87.8L103.0,86.1L105.9,84.2L109.6,83.9L112.7,82.4L115.7,80.7L115.5,77.0L113.9,73.7L113.7,70.0L112.2,66.7L109.1,63.5L105.1,61.7L102.1,62.5L99.7,64.7L96.5,65.2L93.6,66.3L91.3,68.6L90.8,71.8L89.4,74.9L89.5,78.3L89.4,81.6L91.6,84.3L93.7,87.1ZM115.7,80.7L120.8,83.8L123.8,82.0L126.8,80.2L129.9,78.5L133.1,77.3L136.7,76.7L138.3,73.7L139.3,70.6L138.7,67.1L139.8,64.0L136.7,62.7L134.4,60.0L131.4,58.5L128.4,57.0L126.1,59.4L123.2,60.6L120.2,61.8L117.4,63.1L114.9,65.2L112.2,66.7L113.7,70.0L113.9,73.7L115.5,77.0ZM18.8,89.4L15.4,88.8L12.2,87.8L9.2,86.1L5.9,85.4L3.3,82.8L0.0,81.9L0.0,99.9L18.8,99.9L18.4,96.4L18.6,92.9ZM18.8,89.4L18.6,92.9L18.4,96.4L18.8,99.9L44.8,99.9L45.3,96.6L45.5,93.3L44.8,90.0L42.1,88.5L38.8,88.4L36.2,86.8L33.8,84.5L30.4,84.8L28.0,82.6L24.9,82.1L22.1,83.9L20.3,86.5ZM70.7,84.2L67.6,84.8L64.5,83.4L61.3,84.5L58.2,84.3L55.1,83.2L52.0,83.5L48.9,84.2L46.4,86.8L44.8,90.0L45.5,93.3L45.3,96.6L44.8,99.9L70.7,99.9L70.3,96.8L70.4,93.6L70.0,90.5L70.3,87.4ZM96.8,88.9L93.7,87.1L91.6,84.3L89.4,81.6L86.2,81.1L83.2,82.7L80.0,82.5L76.9,82.6L73.9,83.7L70.7,84.2L70.7,84.2L70.3,87.4L70.0,90.5L70.4,93.6L70.3,96.8L70.7,99.9L96.1,99.9L95.8,96.2L97.3,92.6ZM96.8,88.9L97.3,92.6L95.8,96.2L96.1,99.9L124.0,99.9L122.6,96.8L122.5,93.5L121.5,90.3L120.5,87.2L120.8,83.8L115.7,80.7L112.7,82.4L109.6,83.9L105.9,84.2L103.0,86.1L100.0,87.8ZM124.0,99.9L147.0,99.9L147.2,96.7L148.0,93.6L147.5,90.4L147.2,87.2L144.1,85.1L142.3,81.5L138.6,80.0L136.7,76.7L133.1,77.3L129.9,78.5L126.8,80.2L123.8,82.0L120.8,83.8L120.5,87.2L121.5,90.3L122.5,93.5L122.6,96.8ZM147.2,87.2L147.5,90.4L148.0,93.6L147.2,96.7L147.0,99.9L162.4,99.9L162.4,77.9L159.0,79.1L155.8,80.8L153.8,84.4L149.8,84.7ZM143.1,62.5L139.8,64.0L138.7,67.1L139.3,70.6L138.3,73.7L136.7,76.7L138.6,80.0L142.3,81.5L144.1,85.1L147.2,87.2L149.8,84.7L153.8,84.4L155.8,80.8L159.0,79.1L162.4,77.9L162.4,69.0L159.0,68.4L156.2,66.2L152.6,66.2L149.5,64.7L146.4,63.3Z" fill="none" stroke="#9db3c6" stroke-width="3.8" stroke-linejoin="round" opacity="0.75"/>
<ellipse cx="34" cy="29" rx="4" ry="2.2" fill="#a8c0d2"/>
<ellipse cx="43" cy="46" rx="3" ry="2" fill="#a8c0d2"/>
<ellipse cx="75" cy="43" rx="4" ry="2" fill="#a8c0d2"/>
<ellipse cx="101" cy="17" rx="4" ry="2" fill="#a8c0d2"/>
<ellipse cx="143" cy="24" rx="4" ry="3" fill="#a8c0d2"/>
<ellipse cx="152" cy="34" rx="5" ry="3" fill="#a8c0d2"/>
<ellipse cx="160" cy="20" rx="3" ry="3" fill="#a8c0d2"/>
<ellipse cx="120" cy="57" rx="3" ry="2.5" fill="#a8c0d2"/>
<ellipse cx="62" cy="63" rx="4" ry="3" fill="#a8c0d2"/>
<ellipse cx="40" cy="70" rx="3" ry="2" fill="#a8c0d2"/>
<ellipse cx="76" cy="86" rx="3" ry="3" fill="#a8c0d2"/>
<ellipse cx="104" cy="98" rx="3" ry="2" fill="#a8c0d2"/>
<ellipse cx="12" cy="66" rx="2.5" ry="2" fill="#a8c0d2"/>
<ellipse cx="58" cy="38" rx="2" ry="2" fill="#a8c0d2"/>
<ellipse cx="88" cy="40" rx="2" ry="2" fill="#a8c0d2"/>
<ellipse cx="150" cy="67" rx="3" ry="2" fill="#a8c0d2"/>
<ellipse cx="25" cy="45" rx="2" ry="2" fill="#a8c0d2"/>
<path d="M23.1,14.9L25.0,17.6L27.1,20.2L29.3,22.7L32.3,24.4L35.8,23.7L38.2,21.6L38.1,18.0L40.6,15.9L42.6,13.6L43.2,10.4L44.2,7.5L46.3,5.2L47.3,2.2L49.5,0.0L23.1,0.0L22.9,3.7L24.0,7.4L22.3,11.2ZM58.7,0.0L49.5,0.0L47.3,2.2L46.3,5.2L44.2,7.5L43.2,10.4L42.6,13.6L40.6,15.9L38.1,18.0L38.2,21.6L35.8,23.7L39.1,24.5L42.3,25.4L45.3,27.2L49.0,27.0L51.9,28.8L55.0,30.1L57.5,27.9L59.1,25.2L59.7,21.8L62.7,19.9L63.6,16.7L63.6,13.1L62.2,9.9L60.5,6.7L60.5,3.1ZM117.6,21.7L120.8,20.9L124.0,20.1L127.2,19.8L130.7,21.0L133.7,19.0L137.2,20.2L140.3,18.8L140.7,15.6L140.2,12.5L139.9,9.4L139.0,6.3L140.1,3.1L138.9,0.0L115.7,0.0L115.2,3.2L115.4,6.3L116.4,9.3L117.4,12.4L117.7,15.4L118.2,18.5ZM142.7,20.5L146.0,19.8L149.5,19.6L152.7,18.5L155.9,17.1L159.2,16.4L162.4,15.3L162.4,0.0L138.9,0.0L140.1,3.1L139.0,6.3L139.9,9.4L140.2,12.5L140.7,15.6L140.3,18.8ZM116.6,22.9L117.6,21.7L118.2,18.5L117.7,15.4L117.4,12.4L116.4,9.3L115.4,6.3L115.2,3.2L115.7,0.0L90.3,0.0L90.5,3.5L89.8,7.0L92.6,8.7L93.6,12.3L96.6,13.9L98.2,16.9L100.4,19.2L103.2,21.1L106.4,22.4L110.0,21.4L113.4,21.5ZM103.2,21.1L100.4,19.2L98.2,16.9L96.6,13.9L93.6,12.3L92.6,8.7L89.8,7.0L87.9,9.7L85.8,12.3L82.9,14.2L81.2,17.1L79.5,19.9L80.5,23.3L81.9,26.7L83.8,29.8L84.7,33.2L85.4,36.8L88.2,34.8L91.2,33.0L92.8,29.8L96.2,28.5L98.4,25.9L101.4,24.1ZM89.8,7.0L90.5,3.5L90.3,0.0L58.7,0.0L60.5,3.1L60.5,6.7L62.2,9.9L63.6,13.1L63.6,16.7L66.9,16.7L69.8,19.0L73.3,17.9L76.3,19.2L79.5,19.9L81.2,17.1L82.9,14.2L85.8,12.3L87.9,9.7ZM23.1,14.9L22.3,11.2L24.0,7.4L22.9,3.7L23.1,0.0L0.0,0.0L0.0,21.6L2.8,20.3L5.8,20.0L8.5,18.6L11.9,19.3L14.5,17.6L17.1,15.8L20.1,15.2ZM32.3,24.4L29.3,22.7L27.1,20.2L25.0,17.6L23.1,14.9L20.1,15.2L17.1,15.8L14.5,17.6L11.9,19.3L8.5,18.6L5.8,20.0L2.8,20.3L0.0,21.6L0.0,29.1L2.2,32.0L5.2,33.8L8.3,35.5L11.0,37.6L13.7,39.8L16.8,41.4L21.1,42.3L25.3,41.3L27.1,38.8L28.0,35.8L27.8,32.4L29.1,29.7L31.4,27.3ZM55.0,30.1L51.9,28.8L49.0,27.0L45.3,27.2L42.3,25.4L39.1,24.5L35.8,23.7L32.3,24.4L31.4,27.3L29.1,29.7L27.8,32.4L28.0,35.8L27.1,38.8L25.3,41.3L26.9,43.9L30.6,44.4L33.9,45.8L37.2,47.2L40.1,49.6L43.6,50.5L46.3,48.2L48.4,45.2L51.6,43.5L53.8,40.6L56.8,38.7L57.2,36.9L56.9,33.2ZM85.4,36.8L84.7,33.2L83.8,29.8L81.9,26.7L80.5,23.3L79.5,19.9L76.3,19.2L73.3,17.9L69.8,19.0L66.9,16.7L63.6,16.7L62.7,19.9L59.7,21.8L59.1,25.2L57.5,27.9L55.0,30.1L56.9,33.2L57.2,36.9L60.3,36.3L63.4,36.5L66.6,37.7L69.7,36.5L72.9,36.5L76.0,35.8L79.1,36.8L82.3,35.8L85.4,36.9ZM87.0,40.7L90.1,42.4L93.4,43.6L97.1,43.5L99.9,45.9L103.3,46.8L106.4,45.7L108.8,43.4L111.7,42.0L114.1,39.7L116.5,37.5L116.1,33.9L117.6,30.2L115.6,26.5L116.6,22.9L113.4,21.5L110.0,21.4L106.4,22.4L103.2,21.1L101.4,24.1L98.4,25.9L96.2,28.5L92.8,29.8L91.2,33.0L88.2,34.8L85.4,36.8L85.4,36.9ZM144.8,37.1L143.4,33.9L143.2,30.6L144.1,27.1L143.0,23.9L142.7,20.5L140.3,18.8L137.2,20.2L133.7,19.0L130.7,21.0L127.2,19.8L124.0,20.1L120.8,20.9L117.6,21.7L116.6,22.9L115.6,26.5L117.6,30.2L116.1,33.9L116.5,37.5L119.3,40.1L122.3,42.2L125.6,44.1L129.1,43.5L131.8,41.0L135.0,39.9L138.4,39.5L141.8,38.8ZM142.7,20.5L143.0,23.9L144.1,27.1L143.2,30.6L143.4,33.9L144.8,37.1L148.7,39.3L151.2,43.0L154.9,42.6L158.7,42.8L162.4,43.0L162.4,15.3L159.2,16.4L155.9,17.1L152.7,18.5L149.5,19.6L146.0,19.8ZM0.0,29.1L0.0,60.9L1.6,58.0L3.9,55.7L7.0,54.2L9.2,51.8L9.8,48.1L13.1,46.6L14.6,43.7L16.8,41.4L13.7,39.8L11.0,37.6L8.3,35.5L5.2,33.8L2.2,32.0ZM23.0,67.7L23.3,64.7L24.1,61.8L25.0,58.9L25.7,55.9L26.3,53.0L25.2,49.7L26.4,46.9L26.9,43.9L25.3,41.3L21.1,42.3L16.8,41.4L14.6,43.7L13.1,46.6L9.8,48.1L9.2,51.8L7.0,54.2L3.9,55.7L1.6,58.0L0.0,60.9L0.0,64.7L3.2,66.0L6.6,65.4L9.9,65.7L13.3,65.3L16.4,67.4L19.7,67.7ZM43.6,50.5L40.1,49.6L37.2,47.2L33.9,45.8L30.6,44.4L26.9,43.9L26.4,46.9L25.2,49.7L26.3,53.0L25.7,55.9L25.0,58.9L24.1,61.8L23.3,64.7L23.0,67.7L24.9,69.7L27.8,68.4L31.2,69.8L34.0,67.5L37.3,68.4L40.1,66.4L43.3,66.9L46.4,66.4L46.7,65.9L47.0,62.6L46.1,59.6L44.7,56.7L43.5,53.7ZM69.7,60.1L67.3,57.9L66.7,54.6L64.4,52.4L62.9,49.6L62.5,46.2L60.5,43.8L59.2,40.9L56.8,38.7L53.8,40.6L51.6,43.5L48.4,45.2L46.3,48.2L43.6,50.5L43.5,53.7L44.7,56.7L46.1,59.6L47.0,62.6L46.7,65.9L49.7,65.2L52.7,64.9L55.7,64.9L58.7,64.4L61.8,64.5L64.7,63.4L67.7,62.8ZM77.4,57.5L78.4,54.4L80.7,52.0L82.5,49.3L84.0,46.5L84.5,43.0L87.0,40.7L85.4,36.9L82.3,35.8L79.1,36.8L76.0,35.8L72.9,36.5L69.7,36.5L66.6,37.7L63.4,36.5L60.3,36.3L57.2,36.9L56.8,38.7L59.2,40.9L60.5,43.8L62.5,46.2L62.9,49.6L64.4,52.4L66.7,54.6L67.3,57.9L69.7,60.1L73.6,58.9ZM91.3,68.6L93.6,66.3L96.5,65.2L99.7,64.7L102.1,62.5L105.1,61.7L105.3,58.7L103.8,55.8L103.0,52.9L102.5,49.9L103.3,46.8L99.9,45.9L97.1,43.5L93.4,43.6L90.1,42.4L87.0,40.7L84.5,43.0L84.0,46.5L82.5,49.3L80.7,52.0L78.4,54.4L77.4,57.5L80.2,59.7L83.3,61.5L85.7,64.3L88.6,66.4ZM128.4,57.0L128.6,53.5L127.4,50.4L126.0,47.3L125.6,44.1L122.3,42.2L119.3,40.1L116.5,37.5L114.1,39.7L111.7,42.0L108.8,43.4L106.4,45.7L103.3,46.8L102.5,49.9L103.0,52.9L103.8,55.8L105.3,58.7L105.1,61.7L109.1,63.5L112.2,66.7L114.9,65.2L117.4,63.1L120.2,61.8L123.2,60.6L126.1,59.4ZM128.4,57.0L131.4,58.5L134.4,60.0L136.7,62.7L139.8,64.0L143.1,62.5L144.0,59.6L145.0,56.7L146.5,54.1L147.9,51.4L149.5,48.8L150.3,45.8L151.2,43.0L148.7,39.3L144.8,37.1L141.8,38.8L138.4,39.5L135.0,39.9L131.8,41.0L129.1,43.5L125.6,44.1L126.0,47.3L127.4,50.4L128.6,53.5ZM162.4,69.0L162.4,43.0L158.7,42.8L154.9,42.6L151.2,43.0L150.3,45.8L149.5,48.8L147.9,51.4L146.5,54.1L145.0,56.7L144.0,59.6L143.1,62.5L146.4,63.3L149.5,64.7L152.6,66.2L156.2,66.2L159.0,68.4ZM23.0,67.7L19.7,67.7L16.4,67.4L13.3,65.3L9.9,65.7L6.6,65.4L3.2,66.0L0.0,64.7L0.0,81.9L3.3,82.8L5.9,85.4L9.2,86.1L12.2,87.8L15.4,88.8L18.8,89.4L20.3,86.5L22.1,83.9L24.9,82.1L25.6,79.0L26.0,75.9L25.6,72.8L24.9,69.7ZM46.4,66.4L43.3,66.9L40.1,66.4L37.3,68.4L34.0,67.5L31.2,69.8L27.8,68.4L24.9,69.7L25.6,72.8L26.0,75.9L25.6,79.0L24.9,82.1L28.0,82.6L30.4,84.8L33.8,84.5L36.2,86.8L38.8,88.4L42.1,88.5L44.8,90.0L46.4,86.8L48.9,84.2L48.5,81.3L47.6,78.4L47.7,75.3L48.3,72.2L46.1,69.5ZM46.7,65.9L46.4,66.4L46.1,69.5L48.3,72.2L47.7,75.3L47.6,78.4L48.5,81.3L48.9,84.2L52.0,83.5L55.1,83.2L58.2,84.3L61.3,84.5L64.5,83.4L67.6,84.8L70.7,84.2L70.7,84.2L69.4,81.3L69.9,78.1L69.9,75.0L69.8,71.9L69.2,68.8L69.1,65.7L67.7,62.8L64.7,63.4L61.8,64.5L58.7,64.4L55.7,64.9L52.7,64.9L49.7,65.2ZM70.7,84.2L73.9,83.7L76.9,82.6L80.0,82.5L83.2,82.7L86.2,81.1L89.4,81.6L89.5,78.3L89.4,74.9L90.8,71.8L91.3,68.6L88.6,66.4L85.7,64.3L83.3,61.5L80.2,59.7L77.4,57.5L73.6,58.9L69.7,60.1L67.7,62.8L69.1,65.7L69.2,68.8L69.8,71.9L69.9,75.0L69.9,78.1L69.4,81.3ZM96.8,88.9L100.0,87.8L103.0,86.1L105.9,84.2L109.6,83.9L112.7,82.4L115.7,80.7L115.5,77.0L113.9,73.7L113.7,70.0L112.2,66.7L109.1,63.5L105.1,61.7L102.1,62.5L99.7,64.7L96.5,65.2L93.6,66.3L91.3,68.6L90.8,71.8L89.4,74.9L89.5,78.3L89.4,81.6L91.6,84.3L93.7,87.1ZM115.7,80.7L120.8,83.8L123.8,82.0L126.8,80.2L129.9,78.5L133.1,77.3L136.7,76.7L138.3,73.7L139.3,70.6L138.7,67.1L139.8,64.0L136.7,62.7L134.4,60.0L131.4,58.5L128.4,57.0L126.1,59.4L123.2,60.6L120.2,61.8L117.4,63.1L114.9,65.2L112.2,66.7L113.7,70.0L113.9,73.7L115.5,77.0ZM18.8,89.4L15.4,88.8L12.2,87.8L9.2,86.1L5.9,85.4L3.3,82.8L0.0,81.9L0.0,99.9L18.8,99.9L18.4,96.4L18.6,92.9ZM18.8,89.4L18.6,92.9L18.4,96.4L18.8,99.9L44.8,99.9L45.3,96.6L45.5,93.3L44.8,90.0L42.1,88.5L38.8,88.4L36.2,86.8L33.8,84.5L30.4,84.8L28.0,82.6L24.9,82.1L22.1,83.9L20.3,86.5ZM70.7,84.2L67.6,84.8L64.5,83.4L61.3,84.5L58.2,84.3L55.1,83.2L52.0,83.5L48.9,84.2L46.4,86.8L44.8,90.0L45.5,93.3L45.3,96.6L44.8,99.9L70.7,99.9L70.3,96.8L70.4,93.6L70.0,90.5L70.3,87.4ZM96.8,88.9L93.7,87.1L91.6,84.3L89.4,81.6L86.2,81.1L83.2,82.7L80.0,82.5L76.9,82.6L73.9,83.7L70.7,84.2L70.7,84.2L70.3,87.4L70.0,90.5L70.4,93.6L70.3,96.8L70.7,99.9L96.1,99.9L95.8,96.2L97.3,92.6ZM96.8,88.9L97.3,92.6L95.8,96.2L96.1,99.9L124.0,99.9L122.6,96.8L122.5,93.5L121.5,90.3L120.5,87.2L120.8,83.8L115.7,80.7L112.7,82.4L109.6,83.9L105.9,84.2L103.0,86.1L100.0,87.8ZM124.0,99.9L147.0,99.9L147.2,96.7L148.0,93.6L147.5,90.4L147.2,87.2L144.1,85.1L142.3,81.5L138.6,80.0L136.7,76.7L133.1,77.3L129.9,78.5L126.8,80.2L123.8,82.0L120.8,83.8L120.5,87.2L121.5,90.3L122.5,93.5L122.6,96.8ZM147.2,87.2L147.5,90.4L148.0,93.6L147.2,96.7L147.0,99.9L162.4,99.9L162.4,77.9L159.0,79.1L155.8,80.8L153.8,84.4L149.8,84.7ZM143.1,62.5L139.8,64.0L138.7,67.1L139.3,70.6L138.3,73.7L136.7,76.7L138.6,80.0L142.3,81.5L144.1,85.1L147.2,87.2L149.8,84.7L153.8,84.4L155.8,80.8L159.0,79.1L162.4,77.9L162.4,69.0L159.0,68.4L156.2,66.2L152.6,66.2L149.5,64.7L146.4,63.3Z" fill="none" stroke="#5d5259" stroke-width="1.2" stroke-linejoin="round"/>
</g>
<rect width="162.4" height="99.9" filter="url(#nb)" opacity="0.25" style="mix-blend-mode:overlay"/></svg>
<svg x="369.8" y="15.3" width="162.6" height="99.9" viewBox="0 0 162.6 99.9" preserveAspectRatio="none" overflow="hidden"><defs><filter color-interpolation-filters="sRGB" id="fbc" x="0" y="0" width="1" height="1"><feGaussianBlur stdDeviation="0.4"/></filter><filter color-interpolation-filters="sRGB" id="nbc" x="0" y="0" width="1" height="1"><feTurbulence type="fractalNoise" baseFrequency="0.9" numOctaves="2" seed="3"/><feColorMatrix values="1.6 0 0 0 -0.3  1.6 0 0 0 -0.3  1.6 0 0 0 -0.3  0 0 0 0 1"/></filter><filter color-interpolation-filters="sRGB" id="sbc" x="-0.5" y="-0.5" width="2" height="2"><feGaussianBlur stdDeviation="2.2"/></filter></defs>
<g filter="url(#fbc)">
<rect width="162.6" height="99.9" fill="#dcd2ab"/>
<path d="M14.0,29.1L13.1,25.4L14.5,21.8L15.0,18.2L14.3,14.5L15.1,10.9L15.1,7.3L13.8,3.6L14.0,0.0L0.0,0.0L0.0,37.1L3.1,34.5L7.4,33.7L10.9,31.8Z" fill="#d9c797"/>
<path d="M14.0,29.1L17.9,28.6L21.7,29.5L25.3,31.0L29.0,32.0L32.9,31.9L35.9,28.1L38.8,24.2L39.0,20.6L36.9,17.4L37.5,13.7L36.4,10.3L35.1,7.0L34.8,3.5L34.2,0.0L14.0,0.0L13.8,3.6L15.1,7.3L15.1,10.9L14.3,14.5L15.0,18.2L14.5,21.8L13.1,25.4Z" fill="#e0d8b4"/>
<path d="M69.1,0.0L34.2,0.0L34.8,3.5L35.1,7.0L36.4,10.3L37.5,13.7L36.9,17.4L39.0,20.6L38.8,24.2L42.5,24.5L45.6,22.3L49.2,21.9L52.4,20.3L55.9,19.7L59.6,20.3L63.1,19.8L66.6,19.1L69.9,17.8L70.0,14.2L68.9,10.7L70.4,7.1L69.2,3.6Z" fill="#d9c797"/>
<path d="M72.0,42.3L74.2,39.2L75.0,35.6L76.1,32.0L76.8,28.4L75.1,24.4L73.0,20.8L69.9,17.8L66.6,19.1L63.1,19.8L59.6,20.3L55.9,19.7L52.4,20.3L49.2,21.9L45.6,22.3L42.5,24.5L38.8,24.2L35.9,28.1L32.9,31.9L33.4,35.7L36.2,38.6L36.9,42.3L39.5,45.2L40.1,49.0L43.7,48.6L47.3,48.4L51.0,47.9L54.4,46.5L58.0,46.1L61.6,45.5L65.2,44.9L68.5,43.3Z" fill="#d9c797"/>
<path d="M75.7,70.2L79.1,67.8L77.4,64.4L76.1,60.8L77.0,56.6L75.6,53.1L74.4,49.5L73.7,45.8L72.0,42.3L68.5,43.3L65.2,44.9L61.6,45.5L58.0,46.1L54.4,46.5L51.0,47.9L47.3,48.4L43.7,48.6L40.1,49.0L38.5,52.4L37.5,56.0L36.8,59.7L40.4,61.6L43.2,64.5L46.1,67.2L48.3,70.7L51.8,72.7L55.9,73.0L59.7,71.5L63.8,72.4L67.6,70.3L71.6,69.7Z" fill="#ebe7d2"/>
<path d="M109.9,27.6L114.5,23.4L114.5,19.4L115.7,15.6L116.7,11.8L115.9,7.7L116.3,3.8L117.4,0.0L69.1,0.0L69.2,3.6L70.4,7.1L68.9,10.7L70.0,14.2L69.9,17.8L73.0,20.8L75.1,24.4L76.8,28.4L80.5,28.6L84.1,27.1L87.9,29.0L91.5,28.2L95.2,27.2L98.9,27.2L102.6,28.8L106.3,28.6Z" fill="#e0d8b4"/>
<path d="M149.5,27.7L152.4,25.0L155.8,23.1L159.7,21.9L162.6,19.3L162.6,0.0L117.4,0.0L116.3,3.8L115.9,7.7L116.7,11.8L115.7,15.6L114.5,19.4L114.5,23.4L117.9,24.4L120.9,26.7L124.3,27.9L127.8,29.0L131.4,29.5L135.0,29.2L138.6,28.9L142.3,28.5L145.8,27.4Z" fill="#d9c797"/>
<path d="M149.5,27.7L148.7,31.7L150.6,35.6L151.3,39.5L151.6,43.5L150.1,47.5L151.1,51.5L153.0,52.6L157.7,51.2L162.6,51.6L162.6,19.3L159.7,21.9L155.8,23.1L152.4,25.0Z" fill="#d9c797"/>
<path d="M137.8,53.6L136.7,50.2L135.8,46.8L136.0,43.0L134.5,39.7L133.8,36.2L131.3,33.2L131.4,29.5L127.8,29.0L124.3,27.9L120.9,26.7L117.9,24.4L114.5,23.4L109.9,27.6L110.1,31.1L111.3,34.7L111.1,38.3L109.7,41.9L111.4,45.5L111.1,49.1L110.0,52.7L111.3,56.2L110.9,59.8L114.7,59.8L117.9,61.6L121.5,62.1L124.9,63.5L128.2,65.1L130.3,62.0L133.5,59.7L135.2,56.3Z" fill="#d9c797"/>
<path d="M150.2,75.8L153.0,74.5L153.4,70.9L154.0,67.2L153.4,63.6L153.0,59.9L152.2,56.3L153.0,52.6L151.1,51.5L146.7,52.7L142.3,53.4L137.8,53.6L135.2,56.3L133.5,59.7L130.3,62.0L128.2,65.1L129.7,68.5L132.2,71.3L135.6,72.8L139.4,73.3L143.0,74.3L146.4,75.9Z" fill="#d9c797"/>
<path d="M162.6,75.3L162.6,51.6L157.7,51.2L153.0,52.6L152.2,56.3L153.0,59.9L153.4,63.6L154.0,67.2L153.4,70.9L153.0,74.5L157.8,74.7Z" fill="#e0d8b4"/>
<path d="M12.5,85.8L12.3,82.0L15.0,78.9L15.1,75.2L16.3,71.7L17.7,68.3L17.8,64.6L14.1,63.3L10.6,61.5L7.6,58.5L3.9,57.0L0.0,56.0L0.0,87.3L4.1,85.9L8.3,85.7Z" fill="#d9c797"/>
<path d="M17.8,64.6L17.7,68.3L16.3,71.7L15.1,75.2L15.0,78.9L12.3,82.0L12.5,85.8L16.5,90.1L20.0,89.1L23.5,87.8L27.2,87.6L30.7,86.8L29.1,83.2L30.4,79.2L29.4,75.6L27.7,72.0L29.2,68.0L27.9,64.3L22.9,65.1Z" fill="#d9c797"/>
<path d="M36.8,59.7L32.4,62.2L27.9,64.3L29.2,68.0L27.7,72.0L29.4,75.6L30.4,79.2L29.1,83.2L30.7,86.8L34.8,90.4L38.8,89.5L42.1,87.2L45.7,85.6L48.9,83.3L50.9,80.1L50.2,76.1L51.8,72.7L48.3,70.7L46.1,67.2L43.2,64.5L40.4,61.6Z" fill="#d9c797"/>
<path d="M16.5,90.1L12.5,85.8L8.3,85.7L4.1,85.9L0.0,87.3L0.0,99.9L16.5,99.9L15.8,95.0Z" fill="#d9c797"/>
<path d="M16.5,90.1L15.8,95.0L16.5,99.9L35.3,99.9L36.0,95.1L34.8,90.4L30.7,86.8L27.2,87.6L23.5,87.8L20.0,89.1Z" fill="#e0d8b4"/>
<path d="M34.8,90.4L36.0,95.1L35.3,99.9L57.8,99.9L55.5,96.8L54.9,92.9L51.9,90.2L51.3,86.3L48.9,83.3L45.7,85.6L42.1,87.2L38.8,89.5Z" fill="#d9c797"/>
<path d="M75.7,70.2L71.6,69.7L67.6,70.3L63.8,72.4L59.7,71.5L55.9,73.0L51.8,72.7L50.2,76.1L50.9,80.1L48.9,83.3L51.3,86.3L51.9,90.2L54.9,92.9L55.5,96.8L57.8,99.9L66.7,99.9L67.2,96.0L69.0,92.5L71.1,89.1L71.1,85.0L71.2,81.0L73.9,77.7L75.1,74.0Z" fill="#e0d8b4"/>
<path d="M91.7,71.5L87.7,69.8L83.6,68.0L79.1,67.8L75.7,70.2L75.1,74.0L73.9,77.7L71.2,81.0L71.1,85.0L71.1,89.1L69.0,92.5L67.2,96.0L66.7,99.9L92.8,99.9L93.3,96.3L92.3,92.8L93.0,89.2L93.1,85.7L93.1,82.1L91.1,78.7L91.1,75.1Z" fill="#d9c797"/>
<path d="M98.2,69.7L91.7,71.5L91.1,75.1L91.1,78.7L93.1,82.1L93.1,85.7L93.0,89.2L92.3,92.8L93.3,96.3L92.8,99.9L123.7,99.9L122.1,96.5L119.2,94.3L115.9,92.4L114.3,89.0L111.5,86.6L110.1,83.2L107.1,81.0L105.1,78.0L102.2,75.7L100.5,72.5Z" fill="#d9c797"/>
<path d="M132.2,71.3L129.7,68.5L128.2,65.1L124.9,63.5L121.5,62.1L117.9,61.6L114.7,59.8L110.9,59.8L107.3,61.8L104.0,64.1L101.4,67.3L98.2,69.7L100.5,72.5L102.2,75.7L105.1,78.0L107.1,81.0L110.1,83.2L111.5,86.6L114.3,89.0L115.9,92.4L119.2,94.3L122.1,96.5L123.7,99.9L124.4,99.9L126.2,96.6L125.6,92.6L126.2,88.9L128.3,85.6L129.6,82.1L130.3,78.5L130.6,74.7Z" fill="#e0d8b4"/>
<path d="M150.2,75.8L146.4,75.9L143.0,74.3L139.4,73.3L135.6,72.8L132.2,71.3L130.6,74.7L130.3,78.5L129.6,82.1L128.3,85.6L126.2,88.9L125.6,92.6L126.2,96.6L124.4,99.9L147.6,99.9L148.7,96.0L149.3,92.0L148.5,87.8L148.5,83.7L150.5,79.9Z" fill="#d9c797"/>
<path d="M153.0,74.5L150.2,75.8L150.5,79.9L148.5,83.7L148.5,87.8L149.3,92.0L148.7,96.0L147.6,99.9L162.6,99.9L162.6,75.3L157.8,74.7Z" fill="#d9c797"/>
<path d="M91.7,71.5L98.2,69.7L101.4,67.3L104.0,64.1L107.3,61.8L110.9,59.8L111.3,56.2L110.0,52.7L111.1,49.1L111.4,45.5L109.7,41.9L111.1,38.3L111.3,34.7L110.1,31.1L109.9,27.6L106.3,28.6L102.6,28.8L98.9,27.2L95.2,27.2L91.5,28.2L87.9,29.0L84.1,27.1L80.5,28.6L76.8,28.4L76.1,32.0L75.0,35.6L74.2,39.2L72.0,42.3L73.7,45.8L74.4,49.5L75.6,53.1L77.0,56.6L76.1,60.8L77.4,64.4L79.1,67.8L83.6,68.0L87.7,69.8Z" fill="#d9c797"/>
<path d="M17.8,64.6L22.9,65.1L27.9,64.3L32.4,62.2L36.8,59.7L37.5,56.0L38.5,52.4L40.1,49.0L39.5,45.2L36.9,42.3L36.2,38.6L33.4,35.7L32.9,31.9L29.0,32.0L25.3,31.0L21.7,29.5L17.9,28.6L14.0,29.1L10.9,31.8L7.4,33.7L3.1,34.5L0.0,37.1L0.0,56.0L3.9,57.0L7.6,58.5L10.6,61.5L14.1,63.3Z" fill="#f3f1e6"/>
<path d="M151.1,51.5L150.1,47.5L151.6,43.5L151.3,39.5L150.6,35.6L148.7,31.7L149.5,27.7L145.8,27.4L142.3,28.5L138.6,28.9L135.0,29.2L131.4,29.5L131.3,33.2L133.8,36.2L134.5,39.7L136.0,43.0L135.8,46.8L136.7,50.2L137.8,53.6L142.3,53.4L146.7,52.7Z" fill="#f3f1e6"/>
<path d="M14.0,29.1L13.1,25.4L14.5,21.8L15.0,18.2L14.3,14.5L15.1,10.9L15.1,7.3L13.8,3.6L14.0,0.0L0.0,0.0L0.0,37.1L3.1,34.5L7.4,33.7L10.9,31.8ZM14.0,29.1L17.9,28.6L21.7,29.5L25.3,31.0L29.0,32.0L32.9,31.9L35.9,28.1L38.8,24.2L39.0,20.6L36.9,17.4L37.5,13.7L36.4,10.3L35.1,7.0L34.8,3.5L34.2,0.0L14.0,0.0L13.8,3.6L15.1,7.3L15.1,10.9L14.3,14.5L15.0,18.2L14.5,21.8L13.1,25.4ZM69.1,0.0L34.2,0.0L34.8,3.5L35.1,7.0L36.4,10.3L37.5,13.7L36.9,17.4L39.0,20.6L38.8,24.2L42.5,24.5L45.6,22.3L49.2,21.9L52.4,20.3L55.9,19.7L59.6,20.3L63.1,19.8L66.6,19.1L69.9,17.8L70.0,14.2L68.9,10.7L70.4,7.1L69.2,3.6ZM72.0,42.3L74.2,39.2L75.0,35.6L76.1,32.0L76.8,28.4L75.1,24.4L73.0,20.8L69.9,17.8L66.6,19.1L63.1,19.8L59.6,20.3L55.9,19.7L52.4,20.3L49.2,21.9L45.6,22.3L42.5,24.5L38.8,24.2L35.9,28.1L32.9,31.9L33.4,35.7L36.2,38.6L36.9,42.3L39.5,45.2L40.1,49.0L43.7,48.6L47.3,48.4L51.0,47.9L54.4,46.5L58.0,46.1L61.6,45.5L65.2,44.9L68.5,43.3ZM75.7,70.2L79.1,67.8L77.4,64.4L76.1,60.8L77.0,56.6L75.6,53.1L74.4,49.5L73.7,45.8L72.0,42.3L68.5,43.3L65.2,44.9L61.6,45.5L58.0,46.1L54.4,46.5L51.0,47.9L47.3,48.4L43.7,48.6L40.1,49.0L38.5,52.4L37.5,56.0L36.8,59.7L40.4,61.6L43.2,64.5L46.1,67.2L48.3,70.7L51.8,72.7L55.9,73.0L59.7,71.5L63.8,72.4L67.6,70.3L71.6,69.7ZM109.9,27.6L114.5,23.4L114.5,19.4L115.7,15.6L116.7,11.8L115.9,7.7L116.3,3.8L117.4,0.0L69.1,0.0L69.2,3.6L70.4,7.1L68.9,10.7L70.0,14.2L69.9,17.8L73.0,20.8L75.1,24.4L76.8,28.4L80.5,28.6L84.1,27.1L87.9,29.0L91.5,28.2L95.2,27.2L98.9,27.2L102.6,28.8L106.3,28.6ZM149.5,27.7L152.4,25.0L155.8,23.1L159.7,21.9L162.6,19.3L162.6,0.0L117.4,0.0L116.3,3.8L115.9,7.7L116.7,11.8L115.7,15.6L114.5,19.4L114.5,23.4L117.9,24.4L120.9,26.7L124.3,27.9L127.8,29.0L131.4,29.5L135.0,29.2L138.6,28.9L142.3,28.5L145.8,27.4ZM149.5,27.7L148.7,31.7L150.6,35.6L151.3,39.5L151.6,43.5L150.1,47.5L151.1,51.5L153.0,52.6L157.7,51.2L162.6,51.6L162.6,19.3L159.7,21.9L155.8,23.1L152.4,25.0ZM137.8,53.6L136.7,50.2L135.8,46.8L136.0,43.0L134.5,39.7L133.8,36.2L131.3,33.2L131.4,29.5L127.8,29.0L124.3,27.9L120.9,26.7L117.9,24.4L114.5,23.4L109.9,27.6L110.1,31.1L111.3,34.7L111.1,38.3L109.7,41.9L111.4,45.5L111.1,49.1L110.0,52.7L111.3,56.2L110.9,59.8L114.7,59.8L117.9,61.6L121.5,62.1L124.9,63.5L128.2,65.1L130.3,62.0L133.5,59.7L135.2,56.3ZM150.2,75.8L153.0,74.5L153.4,70.9L154.0,67.2L153.4,63.6L153.0,59.9L152.2,56.3L153.0,52.6L151.1,51.5L146.7,52.7L142.3,53.4L137.8,53.6L135.2,56.3L133.5,59.7L130.3,62.0L128.2,65.1L129.7,68.5L132.2,71.3L135.6,72.8L139.4,73.3L143.0,74.3L146.4,75.9ZM162.6,75.3L162.6,51.6L157.7,51.2L153.0,52.6L152.2,56.3L153.0,59.9L153.4,63.6L154.0,67.2L153.4,70.9L153.0,74.5L157.8,74.7ZM12.5,85.8L12.3,82.0L15.0,78.9L15.1,75.2L16.3,71.7L17.7,68.3L17.8,64.6L14.1,63.3L10.6,61.5L7.6,58.5L3.9,57.0L0.0,56.0L0.0,87.3L4.1,85.9L8.3,85.7ZM17.8,64.6L17.7,68.3L16.3,71.7L15.1,75.2L15.0,78.9L12.3,82.0L12.5,85.8L16.5,90.1L20.0,89.1L23.5,87.8L27.2,87.6L30.7,86.8L29.1,83.2L30.4,79.2L29.4,75.6L27.7,72.0L29.2,68.0L27.9,64.3L22.9,65.1ZM36.8,59.7L32.4,62.2L27.9,64.3L29.2,68.0L27.7,72.0L29.4,75.6L30.4,79.2L29.1,83.2L30.7,86.8L34.8,90.4L38.8,89.5L42.1,87.2L45.7,85.6L48.9,83.3L50.9,80.1L50.2,76.1L51.8,72.7L48.3,70.7L46.1,67.2L43.2,64.5L40.4,61.6ZM16.5,90.1L12.5,85.8L8.3,85.7L4.1,85.9L0.0,87.3L0.0,99.9L16.5,99.9L15.8,95.0ZM16.5,90.1L15.8,95.0L16.5,99.9L35.3,99.9L36.0,95.1L34.8,90.4L30.7,86.8L27.2,87.6L23.5,87.8L20.0,89.1ZM34.8,90.4L36.0,95.1L35.3,99.9L57.8,99.9L55.5,96.8L54.9,92.9L51.9,90.2L51.3,86.3L48.9,83.3L45.7,85.6L42.1,87.2L38.8,89.5ZM75.7,70.2L71.6,69.7L67.6,70.3L63.8,72.4L59.7,71.5L55.9,73.0L51.8,72.7L50.2,76.1L50.9,80.1L48.9,83.3L51.3,86.3L51.9,90.2L54.9,92.9L55.5,96.8L57.8,99.9L66.7,99.9L67.2,96.0L69.0,92.5L71.1,89.1L71.1,85.0L71.2,81.0L73.9,77.7L75.1,74.0ZM91.7,71.5L87.7,69.8L83.6,68.0L79.1,67.8L75.7,70.2L75.1,74.0L73.9,77.7L71.2,81.0L71.1,85.0L71.1,89.1L69.0,92.5L67.2,96.0L66.7,99.9L92.8,99.9L93.3,96.3L92.3,92.8L93.0,89.2L93.1,85.7L93.1,82.1L91.1,78.7L91.1,75.1ZM98.2,69.7L91.7,71.5L91.1,75.1L91.1,78.7L93.1,82.1L93.1,85.7L93.0,89.2L92.3,92.8L93.3,96.3L92.8,99.9L123.7,99.9L122.1,96.5L119.2,94.3L115.9,92.4L114.3,89.0L111.5,86.6L110.1,83.2L107.1,81.0L105.1,78.0L102.2,75.7L100.5,72.5ZM132.2,71.3L129.7,68.5L128.2,65.1L124.9,63.5L121.5,62.1L117.9,61.6L114.7,59.8L110.9,59.8L107.3,61.8L104.0,64.1L101.4,67.3L98.2,69.7L100.5,72.5L102.2,75.7L105.1,78.0L107.1,81.0L110.1,83.2L111.5,86.6L114.3,89.0L115.9,92.4L119.2,94.3L122.1,96.5L123.7,99.9L124.4,99.9L126.2,96.6L125.6,92.6L126.2,88.9L128.3,85.6L129.6,82.1L130.3,78.5L130.6,74.7ZM150.2,75.8L146.4,75.9L143.0,74.3L139.4,73.3L135.6,72.8L132.2,71.3L130.6,74.7L130.3,78.5L129.6,82.1L128.3,85.6L126.2,88.9L125.6,92.6L126.2,96.6L124.4,99.9L147.6,99.9L148.7,96.0L149.3,92.0L148.5,87.8L148.5,83.7L150.5,79.9ZM153.0,74.5L150.2,75.8L150.5,79.9L148.5,83.7L148.5,87.8L149.3,92.0L148.7,96.0L147.6,99.9L162.6,99.9L162.6,75.3L157.8,74.7ZM91.7,71.5L98.2,69.7L101.4,67.3L104.0,64.1L107.3,61.8L110.9,59.8L111.3,56.2L110.0,52.7L111.1,49.1L111.4,45.5L109.7,41.9L111.1,38.3L111.3,34.7L110.1,31.1L109.9,27.6L106.3,28.6L102.6,28.8L98.9,27.2L95.2,27.2L91.5,28.2L87.9,29.0L84.1,27.1L80.5,28.6L76.8,28.4L76.1,32.0L75.0,35.6L74.2,39.2L72.0,42.3L73.7,45.8L74.4,49.5L75.6,53.1L77.0,56.6L76.1,60.8L77.4,64.4L79.1,67.8L83.6,68.0L87.7,69.8ZM17.8,64.6L22.9,65.1L27.9,64.3L32.4,62.2L36.8,59.7L37.5,56.0L38.5,52.4L40.1,49.0L39.5,45.2L36.9,42.3L36.2,38.6L33.4,35.7L32.9,31.9L29.0,32.0L25.3,31.0L21.7,29.5L17.9,28.6L14.0,29.1L10.9,31.8L7.4,33.7L3.1,34.5L0.0,37.1L0.0,56.0L3.9,57.0L7.6,58.5L10.6,61.5L14.1,63.3ZM151.1,51.5L150.1,47.5L151.6,43.5L151.3,39.5L150.6,35.6L148.7,31.7L149.5,27.7L145.8,27.4L142.3,28.5L138.6,28.9L135.0,29.2L131.4,29.5L131.3,33.2L133.8,36.2L134.5,39.7L136.0,43.0L135.8,46.8L136.7,50.2L137.8,53.6L142.3,53.4L146.7,52.7Z" fill="none" stroke="#8fa2ae" stroke-width="2.8" opacity="0.55" stroke-linejoin="round"/>
<path d="M14.0,29.1L13.1,25.4L14.5,21.8L15.0,18.2L14.3,14.5L15.1,10.9L15.1,7.3L13.8,3.6L14.0,0.0L0.0,0.0L0.0,37.1L3.1,34.5L7.4,33.7L10.9,31.8ZM14.0,29.1L17.9,28.6L21.7,29.5L25.3,31.0L29.0,32.0L32.9,31.9L35.9,28.1L38.8,24.2L39.0,20.6L36.9,17.4L37.5,13.7L36.4,10.3L35.1,7.0L34.8,3.5L34.2,0.0L14.0,0.0L13.8,3.6L15.1,7.3L15.1,10.9L14.3,14.5L15.0,18.2L14.5,21.8L13.1,25.4ZM69.1,0.0L34.2,0.0L34.8,3.5L35.1,7.0L36.4,10.3L37.5,13.7L36.9,17.4L39.0,20.6L38.8,24.2L42.5,24.5L45.6,22.3L49.2,21.9L52.4,20.3L55.9,19.7L59.6,20.3L63.1,19.8L66.6,19.1L69.9,17.8L70.0,14.2L68.9,10.7L70.4,7.1L69.2,3.6ZM72.0,42.3L74.2,39.2L75.0,35.6L76.1,32.0L76.8,28.4L75.1,24.4L73.0,20.8L69.9,17.8L66.6,19.1L63.1,19.8L59.6,20.3L55.9,19.7L52.4,20.3L49.2,21.9L45.6,22.3L42.5,24.5L38.8,24.2L35.9,28.1L32.9,31.9L33.4,35.7L36.2,38.6L36.9,42.3L39.5,45.2L40.1,49.0L43.7,48.6L47.3,48.4L51.0,47.9L54.4,46.5L58.0,46.1L61.6,45.5L65.2,44.9L68.5,43.3ZM75.7,70.2L79.1,67.8L77.4,64.4L76.1,60.8L77.0,56.6L75.6,53.1L74.4,49.5L73.7,45.8L72.0,42.3L68.5,43.3L65.2,44.9L61.6,45.5L58.0,46.1L54.4,46.5L51.0,47.9L47.3,48.4L43.7,48.6L40.1,49.0L38.5,52.4L37.5,56.0L36.8,59.7L40.4,61.6L43.2,64.5L46.1,67.2L48.3,70.7L51.8,72.7L55.9,73.0L59.7,71.5L63.8,72.4L67.6,70.3L71.6,69.7ZM109.9,27.6L114.5,23.4L114.5,19.4L115.7,15.6L116.7,11.8L115.9,7.7L116.3,3.8L117.4,0.0L69.1,0.0L69.2,3.6L70.4,7.1L68.9,10.7L70.0,14.2L69.9,17.8L73.0,20.8L75.1,24.4L76.8,28.4L80.5,28.6L84.1,27.1L87.9,29.0L91.5,28.2L95.2,27.2L98.9,27.2L102.6,28.8L106.3,28.6ZM149.5,27.7L152.4,25.0L155.8,23.1L159.7,21.9L162.6,19.3L162.6,0.0L117.4,0.0L116.3,3.8L115.9,7.7L116.7,11.8L115.7,15.6L114.5,19.4L114.5,23.4L117.9,24.4L120.9,26.7L124.3,27.9L127.8,29.0L131.4,29.5L135.0,29.2L138.6,28.9L142.3,28.5L145.8,27.4ZM149.5,27.7L148.7,31.7L150.6,35.6L151.3,39.5L151.6,43.5L150.1,47.5L151.1,51.5L153.0,52.6L157.7,51.2L162.6,51.6L162.6,19.3L159.7,21.9L155.8,23.1L152.4,25.0ZM137.8,53.6L136.7,50.2L135.8,46.8L136.0,43.0L134.5,39.7L133.8,36.2L131.3,33.2L131.4,29.5L127.8,29.0L124.3,27.9L120.9,26.7L117.9,24.4L114.5,23.4L109.9,27.6L110.1,31.1L111.3,34.7L111.1,38.3L109.7,41.9L111.4,45.5L111.1,49.1L110.0,52.7L111.3,56.2L110.9,59.8L114.7,59.8L117.9,61.6L121.5,62.1L124.9,63.5L128.2,65.1L130.3,62.0L133.5,59.7L135.2,56.3ZM150.2,75.8L153.0,74.5L153.4,70.9L154.0,67.2L153.4,63.6L153.0,59.9L152.2,56.3L153.0,52.6L151.1,51.5L146.7,52.7L142.3,53.4L137.8,53.6L135.2,56.3L133.5,59.7L130.3,62.0L128.2,65.1L129.7,68.5L132.2,71.3L135.6,72.8L139.4,73.3L143.0,74.3L146.4,75.9ZM162.6,75.3L162.6,51.6L157.7,51.2L153.0,52.6L152.2,56.3L153.0,59.9L153.4,63.6L154.0,67.2L153.4,70.9L153.0,74.5L157.8,74.7ZM12.5,85.8L12.3,82.0L15.0,78.9L15.1,75.2L16.3,71.7L17.7,68.3L17.8,64.6L14.1,63.3L10.6,61.5L7.6,58.5L3.9,57.0L0.0,56.0L0.0,87.3L4.1,85.9L8.3,85.7ZM17.8,64.6L17.7,68.3L16.3,71.7L15.1,75.2L15.0,78.9L12.3,82.0L12.5,85.8L16.5,90.1L20.0,89.1L23.5,87.8L27.2,87.6L30.7,86.8L29.1,83.2L30.4,79.2L29.4,75.6L27.7,72.0L29.2,68.0L27.9,64.3L22.9,65.1ZM36.8,59.7L32.4,62.2L27.9,64.3L29.2,68.0L27.7,72.0L29.4,75.6L30.4,79.2L29.1,83.2L30.7,86.8L34.8,90.4L38.8,89.5L42.1,87.2L45.7,85.6L48.9,83.3L50.9,80.1L50.2,76.1L51.8,72.7L48.3,70.7L46.1,67.2L43.2,64.5L40.4,61.6ZM16.5,90.1L12.5,85.8L8.3,85.7L4.1,85.9L0.0,87.3L0.0,99.9L16.5,99.9L15.8,95.0ZM16.5,90.1L15.8,95.0L16.5,99.9L35.3,99.9L36.0,95.1L34.8,90.4L30.7,86.8L27.2,87.6L23.5,87.8L20.0,89.1ZM34.8,90.4L36.0,95.1L35.3,99.9L57.8,99.9L55.5,96.8L54.9,92.9L51.9,90.2L51.3,86.3L48.9,83.3L45.7,85.6L42.1,87.2L38.8,89.5ZM75.7,70.2L71.6,69.7L67.6,70.3L63.8,72.4L59.7,71.5L55.9,73.0L51.8,72.7L50.2,76.1L50.9,80.1L48.9,83.3L51.3,86.3L51.9,90.2L54.9,92.9L55.5,96.8L57.8,99.9L66.7,99.9L67.2,96.0L69.0,92.5L71.1,89.1L71.1,85.0L71.2,81.0L73.9,77.7L75.1,74.0ZM91.7,71.5L87.7,69.8L83.6,68.0L79.1,67.8L75.7,70.2L75.1,74.0L73.9,77.7L71.2,81.0L71.1,85.0L71.1,89.1L69.0,92.5L67.2,96.0L66.7,99.9L92.8,99.9L93.3,96.3L92.3,92.8L93.0,89.2L93.1,85.7L93.1,82.1L91.1,78.7L91.1,75.1ZM98.2,69.7L91.7,71.5L91.1,75.1L91.1,78.7L93.1,82.1L93.1,85.7L93.0,89.2L92.3,92.8L93.3,96.3L92.8,99.9L123.7,99.9L122.1,96.5L119.2,94.3L115.9,92.4L114.3,89.0L111.5,86.6L110.1,83.2L107.1,81.0L105.1,78.0L102.2,75.7L100.5,72.5ZM132.2,71.3L129.7,68.5L128.2,65.1L124.9,63.5L121.5,62.1L117.9,61.6L114.7,59.8L110.9,59.8L107.3,61.8L104.0,64.1L101.4,67.3L98.2,69.7L100.5,72.5L102.2,75.7L105.1,78.0L107.1,81.0L110.1,83.2L111.5,86.6L114.3,89.0L115.9,92.4L119.2,94.3L122.1,96.5L123.7,99.9L124.4,99.9L126.2,96.6L125.6,92.6L126.2,88.9L128.3,85.6L129.6,82.1L130.3,78.5L130.6,74.7ZM150.2,75.8L146.4,75.9L143.0,74.3L139.4,73.3L135.6,72.8L132.2,71.3L130.6,74.7L130.3,78.5L129.6,82.1L128.3,85.6L126.2,88.9L125.6,92.6L126.2,96.6L124.4,99.9L147.6,99.9L148.7,96.0L149.3,92.0L148.5,87.8L148.5,83.7L150.5,79.9ZM153.0,74.5L150.2,75.8L150.5,79.9L148.5,83.7L148.5,87.8L149.3,92.0L148.7,96.0L147.6,99.9L162.6,99.9L162.6,75.3L157.8,74.7ZM91.7,71.5L98.2,69.7L101.4,67.3L104.0,64.1L107.3,61.8L110.9,59.8L111.3,56.2L110.0,52.7L111.1,49.1L111.4,45.5L109.7,41.9L111.1,38.3L111.3,34.7L110.1,31.1L109.9,27.6L106.3,28.6L102.6,28.8L98.9,27.2L95.2,27.2L91.5,28.2L87.9,29.0L84.1,27.1L80.5,28.6L76.8,28.4L76.1,32.0L75.0,35.6L74.2,39.2L72.0,42.3L73.7,45.8L74.4,49.5L75.6,53.1L77.0,56.6L76.1,60.8L77.4,64.4L79.1,67.8L83.6,68.0L87.7,69.8ZM17.8,64.6L22.9,65.1L27.9,64.3L32.4,62.2L36.8,59.7L37.5,56.0L38.5,52.4L40.1,49.0L39.5,45.2L36.9,42.3L36.2,38.6L33.4,35.7L32.9,31.9L29.0,32.0L25.3,31.0L21.7,29.5L17.9,28.6L14.0,29.1L10.9,31.8L7.4,33.7L3.1,34.5L0.0,37.1L0.0,56.0L3.9,57.0L7.6,58.5L10.6,61.5L14.1,63.3ZM151.1,51.5L150.1,47.5L151.6,43.5L151.3,39.5L150.6,35.6L148.7,31.7L149.5,27.7L145.8,27.4L142.3,28.5L138.6,28.9L135.0,29.2L131.4,29.5L131.3,33.2L133.8,36.2L134.5,39.7L136.0,43.0L135.8,46.8L136.7,50.2L137.8,53.6L142.3,53.4L146.7,52.7Z" fill="none" stroke="#3f464c" stroke-width="1.7" stroke-linejoin="round"/>
<path d="M3.3,29.2L15.5,24.7L30.8,26.2L40,33.8L43,44.5L40,59.8L30.8,67.4L15.5,70.5L3.3,65.9L0.3,50.6L1.8,35.4Z" fill="#f4f2e9" stroke="#3f464c" stroke-width="1.9" stroke-linejoin="round"/>
<path d="M64.4,27.7L76.6,21.6L98,19.5L111.7,20.7L119.4,32.3L122.4,47.6L119.4,62.8L110.2,73.5L95,79.6L79.7,76.6L70.5,69L65.9,56.7L62.9,41.5Z" fill="#ddd2aa" stroke="#3f464c" stroke-width="1.9" stroke-linejoin="round"/>
<path d="M136.2,35.4L143.8,32.3L149.9,36.9L151.4,44.5L146.9,52.1L139.2,53.7L134.6,47.6L134.6,40Z" fill="#f2f0e6" stroke="#3f464c" stroke-width="1.9" stroke-linejoin="round"/>
<circle cx="41" cy="33" r="1.5" fill="#98aec0" stroke="#4a5864" stroke-width="0.6"/>
<circle cx="50" cy="37" r="1.2" fill="#98aec0" stroke="#4a5864" stroke-width="0.6"/>
<circle cx="132" cy="33" r="1.5" fill="#98aec0" stroke="#4a5864" stroke-width="0.6"/>
<circle cx="131" cy="52" r="1.8" fill="#98aec0" stroke="#4a5864" stroke-width="0.6"/>
<circle cx="118" cy="72" r="1.5" fill="#98aec0" stroke="#4a5864" stroke-width="0.6"/>
<circle cx="64" cy="70" r="1.5" fill="#98aec0" stroke="#4a5864" stroke-width="0.6"/>
<circle cx="6" cy="80" r="1.5" fill="#98aec0" stroke="#4a5864" stroke-width="0.6"/>
<circle cx="27" cy="5" r="1.0" fill="#98aec0" stroke="#4a5864" stroke-width="0.6"/>
<circle cx="153" cy="55" r="1.6" fill="#98aec0" stroke="#4a5864" stroke-width="0.6"/>
<circle cx="62" cy="27" r="1.3" fill="#98aec0" stroke="#4a5864" stroke-width="0.6"/>
<circle cx="122" cy="30" r="1.2" fill="#98aec0" stroke="#4a5864" stroke-width="0.6"/>
</g>
<rect width="162.6" height="99.9" filter="url(#nbc)" opacity="0.22" style="mix-blend-mode:overlay"/></svg>
<svg x="23.8" y="117.9" width="162.4" height="101.4" viewBox="0 0 162.4 101.4" preserveAspectRatio="none" overflow="hidden"><defs><filter color-interpolation-filters="sRGB" id="fbd" x="0" y="0" width="1" height="1"><feGaussianBlur stdDeviation="0.4"/></filter><filter color-interpolation-filters="sRGB" id="nbd" x="0" y="0" width="1" height="1"><feTurbulence type="fractalNoise" baseFrequency="0.7" numOctaves="2" seed="5"/><feColorMatrix values="1.6 0 0 0 -0.3  1.6 0 0 0 -0.3  1.6 0 0 0 -0.3  0 0 0 0 1"/></filter><filter color-interpolation-filters="sRGB" id="sbd" x="-0.5" y="-0.5" width="2" height="2"><feGaussianBlur stdDeviation="2.2"/></filter></defs>
<filter color-interpolation-filters="sRGB" id="db" x="0" y="0" width="1" height="1"><feGaussianBlur stdDeviation="1.6"/></filter>
<rect width="162.4" height="101.4" fill="#3d3d3d"/>
<g filter="url(#db)"><path d="M37.4,-1.9L31.4,13.2L22.3,22.2L16.3,28.3L4.2,31.3L-1.8,31.3M31.4,13.2L46.5,7.2L58.6,4.1L70.6,10.2L88.8,22.2L97.8,16.2L106.9,10.2L131.0,13.2L140.1,10.2L149.1,4.1L164.2,1.1M70.6,10.2L73.7,22.2L70.6,37.3L76.7,55.4L73.7,64.5L58.6,70.5M88.8,22.2L94.8,37.3L97.8,43.4L112.9,40.4L131.0,28.3L137.0,16.2L134.0,22.2M134.0,22.2L140.1,28.3L143.1,43.4L134.0,55.4L131.0,64.5L140.1,70.5L164.2,67.5M16.3,28.3L19.3,43.4L22.3,58.5L28.4,61.5L43.5,55.4L58.6,64.5L73.7,61.5M58.6,70.5L55.5,79.6L52.5,88.7L58.6,104.0M76.7,64.5L88.8,73.6L97.8,85.6L103.8,82.6L112.9,70.5L131.0,64.5M-1.8,64.5L13.3,70.5L25.4,61.5M4.2,76.6L1.2,88.7L-1.8,94.7M97.8,85.6L94.8,104.0M97.8,43.4L100.8,58.5L97.8,70.5" fill="none" stroke="#4a4a4a" stroke-width="9" stroke-linejoin="round" stroke-linecap="round"/><path d="M37.4,-1.9L31.4,13.2L22.3,22.2L16.3,28.3L4.2,31.3L-1.8,31.3M31.4,13.2L46.5,7.2L58.6,4.1L70.6,10.2L88.8,22.2L97.8,16.2L106.9,10.2L131.0,13.2L140.1,10.2L149.1,4.1L164.2,1.1M70.6,10.2L73.7,22.2L70.6,37.3L76.7,55.4L73.7,64.5L58.6,70.5M88.8,22.2L94.8,37.3L97.8,43.4L112.9,40.4L131.0,28.3L137.0,16.2L134.0,22.2M134.0,22.2L140.1,28.3L143.1,43.4L134.0,55.4L131.0,64.5L140.1,70.5L164.2,67.5M16.3,28.3L19.3,43.4L22.3,58.5L28.4,61.5L43.5,55.4L58.6,64.5L73.7,61.5M58.6,70.5L55.5,79.6L52.5,88.7L58.6,104.0M76.7,64.5L88.8,73.6L97.8,85.6L103.8,82.6L112.9,70.5L131.0,64.5M-1.8,64.5L13.3,70.5L25.4,61.5M4.2,76.6L1.2,88.7L-1.8,94.7M97.8,85.6L94.8,104.0M97.8,43.4L100.8,58.5L97.8,70.5" fill="none" stroke="#525252" stroke-width="3" stroke-linejoin="round"/></g>
<circle cx="37.3" cy="1.2" r="0.57" fill="#e8e8e8" opacity="0.41"/>
<circle cx="34.0" cy="10.1" r="0.58" fill="#e8e8e8" opacity="0.42"/>
<circle cx="36.9" cy="-1.5" r="0.38" fill="#e8e8e8" opacity="0.70"/>
<circle cx="34.9" cy="-0.4" r="0.80" fill="#e8e8e8" opacity="0.67"/>
<circle cx="24.0" cy="19.1" r="0.50" fill="#e8e8e8" opacity="0.55"/>
<circle cx="32.3" cy="13.7" r="0.42" fill="#e8e8e8" opacity="0.71"/>
<circle cx="32.2" cy="14.1" r="0.60" fill="#e8e8e8" opacity="0.47"/>
<circle cx="18.0" cy="23.1" r="0.74" fill="#e8e8e8" opacity="0.42"/>
<circle cx="16.4" cy="29.0" r="0.75" fill="#e8e8e8" opacity="0.68"/>
<circle cx="7.5" cy="31.6" r="0.41" fill="#e8e8e8" opacity="0.54"/>
<circle cx="5.0" cy="32.6" r="0.75" fill="#e8e8e8" opacity="0.50"/>
<circle cx="11.7" cy="28.9" r="0.80" fill="#e8e8e8" opacity="0.49"/>
<circle cx="2.3" cy="32.3" r="0.80" fill="#e8e8e8" opacity="0.55"/>
<circle cx="39.0" cy="11.3" r="0.45" fill="#e8e8e8" opacity="0.60"/>
<circle cx="40.3" cy="8.4" r="0.43" fill="#e8e8e8" opacity="0.47"/>
<circle cx="44.7" cy="8.0" r="0.49" fill="#e8e8e8" opacity="0.35"/>
<circle cx="33.8" cy="14.0" r="0.52" fill="#e8e8e8" opacity="0.64"/>
<circle cx="56.4" cy="7.1" r="0.53" fill="#e8e8e8" opacity="0.79"/>
<circle cx="58.5" cy="5.9" r="0.57" fill="#e8e8e8" opacity="0.49"/>
<circle cx="51.1" cy="4.9" r="0.38" fill="#e8e8e8" opacity="0.70"/>
<circle cx="67.8" cy="10.3" r="0.37" fill="#e8e8e8" opacity="0.43"/>
<circle cx="61.7" cy="4.4" r="0.38" fill="#e8e8e8" opacity="0.47"/>
<circle cx="71.6" cy="10.6" r="0.57" fill="#e8e8e8" opacity="0.43"/>
<circle cx="88.1" cy="22.8" r="0.36" fill="#e8e8e8" opacity="0.41"/>
<circle cx="87.1" cy="22.0" r="0.62" fill="#e8e8e8" opacity="0.51"/>
<circle cx="82.7" cy="16.3" r="0.59" fill="#e8e8e8" opacity="0.44"/>
<circle cx="82.4" cy="20.3" r="0.78" fill="#e8e8e8" opacity="0.31"/>
<circle cx="82.0" cy="18.9" r="0.61" fill="#e8e8e8" opacity="0.43"/>
<circle cx="80.0" cy="16.9" r="0.41" fill="#e8e8e8" opacity="0.35"/>
<circle cx="87.5" cy="21.4" r="0.41" fill="#e8e8e8" opacity="0.73"/>
<circle cx="93.0" cy="18.5" r="0.50" fill="#e8e8e8" opacity="0.55"/>
<circle cx="89.3" cy="19.5" r="0.52" fill="#e8e8e8" opacity="0.65"/>
<circle cx="100.8" cy="13.8" r="0.74" fill="#e8e8e8" opacity="0.69"/>
<circle cx="102.8" cy="11.3" r="0.38" fill="#e8e8e8" opacity="0.68"/>
<circle cx="100.3" cy="14.1" r="0.66" fill="#e8e8e8" opacity="0.46"/>
<circle cx="107.4" cy="9.5" r="0.76" fill="#e8e8e8" opacity="0.45"/>
<circle cx="119.2" cy="13.7" r="0.39" fill="#e8e8e8" opacity="0.60"/>
<circle cx="120.2" cy="13.8" r="0.49" fill="#e8e8e8" opacity="0.65"/>
<circle cx="119.8" cy="9.8" r="0.72" fill="#e8e8e8" opacity="0.79"/>
<circle cx="114.6" cy="13.4" r="0.40" fill="#e8e8e8" opacity="0.34"/>
<circle cx="110.0" cy="11.5" r="0.55" fill="#e8e8e8" opacity="0.61"/>
<circle cx="131.8" cy="12.9" r="0.58" fill="#e8e8e8" opacity="0.49"/>
<circle cx="133.4" cy="10.0" r="0.55" fill="#e8e8e8" opacity="0.42"/>
<circle cx="147.8" cy="6.9" r="0.56" fill="#e8e8e8" opacity="0.42"/>
<circle cx="143.5" cy="8.4" r="0.78" fill="#e8e8e8" opacity="0.34"/>
<circle cx="144.4" cy="8.2" r="0.75" fill="#e8e8e8" opacity="0.69"/>
<circle cx="159.7" cy="3.0" r="0.74" fill="#e8e8e8" opacity="0.65"/>
<circle cx="158.3" cy="3.9" r="0.52" fill="#e8e8e8" opacity="0.61"/>
<circle cx="163.6" cy="3.8" r="0.35" fill="#e8e8e8" opacity="0.46"/>
<circle cx="153.3" cy="1.6" r="0.60" fill="#e8e8e8" opacity="0.34"/>
<circle cx="73.5" cy="14.9" r="0.56" fill="#e8e8e8" opacity="0.35"/>
<circle cx="74.4" cy="20.4" r="0.50" fill="#e8e8e8" opacity="0.62"/>
<circle cx="71.6" cy="20.4" r="0.49" fill="#e8e8e8" opacity="0.43"/>
<circle cx="69.6" cy="35.8" r="0.44" fill="#e8e8e8" opacity="0.60"/>
<circle cx="72.3" cy="28.4" r="0.56" fill="#e8e8e8" opacity="0.52"/>
<circle cx="70.8" cy="30.1" r="0.52" fill="#e8e8e8" opacity="0.44"/>
<circle cx="75.1" cy="23.0" r="0.71" fill="#e8e8e8" opacity="0.77"/>
<circle cx="72.8" cy="50.1" r="0.37" fill="#e8e8e8" opacity="0.60"/>
<circle cx="73.7" cy="47.9" r="0.59" fill="#e8e8e8" opacity="0.35"/>
<circle cx="72.3" cy="44.7" r="0.52" fill="#e8e8e8" opacity="0.37"/>
<circle cx="76.8" cy="51.8" r="0.37" fill="#e8e8e8" opacity="0.39"/>
<circle cx="73.3" cy="43.4" r="0.71" fill="#e8e8e8" opacity="0.72"/>
<circle cx="75.6" cy="61.7" r="0.61" fill="#e8e8e8" opacity="0.34"/>
<circle cx="75.0" cy="64.7" r="0.43" fill="#e8e8e8" opacity="0.33"/>
<circle cx="61.8" cy="70.0" r="0.56" fill="#e8e8e8" opacity="0.70"/>
<circle cx="67.5" cy="65.9" r="0.48" fill="#e8e8e8" opacity="0.61"/>
<circle cx="58.3" cy="68.0" r="0.58" fill="#e8e8e8" opacity="0.64"/>
<circle cx="69.8" cy="63.7" r="0.37" fill="#e8e8e8" opacity="0.55"/>
<circle cx="93.5" cy="31.0" r="0.40" fill="#e8e8e8" opacity="0.77"/>
<circle cx="91.6" cy="31.2" r="0.68" fill="#e8e8e8" opacity="0.56"/>
<circle cx="90.7" cy="22.2" r="0.37" fill="#e8e8e8" opacity="0.48"/>
<circle cx="92.5" cy="28.9" r="0.67" fill="#e8e8e8" opacity="0.55"/>
<circle cx="96.8" cy="39.7" r="0.76" fill="#e8e8e8" opacity="0.64"/>
<circle cx="102.3" cy="44.5" r="0.59" fill="#e8e8e8" opacity="0.75"/>
<circle cx="112.0" cy="42.4" r="0.77" fill="#e8e8e8" opacity="0.70"/>
<circle cx="97.3" cy="43.8" r="0.62" fill="#e8e8e8" opacity="0.68"/>
<circle cx="106.1" cy="43.3" r="0.59" fill="#e8e8e8" opacity="0.74"/>
<circle cx="118.8" cy="38.1" r="0.70" fill="#e8e8e8" opacity="0.67"/>
<circle cx="128.3" cy="27.9" r="0.53" fill="#e8e8e8" opacity="0.39"/>
<circle cx="124.1" cy="33.2" r="0.41" fill="#e8e8e8" opacity="0.31"/>
<circle cx="120.9" cy="33.2" r="0.65" fill="#e8e8e8" opacity="0.41"/>
<circle cx="116.7" cy="39.2" r="0.75" fill="#e8e8e8" opacity="0.56"/>
<circle cx="114.0" cy="38.5" r="0.64" fill="#e8e8e8" opacity="0.69"/>
<circle cx="136.2" cy="18.1" r="0.54" fill="#e8e8e8" opacity="0.49"/>
<circle cx="132.9" cy="22.5" r="0.56" fill="#e8e8e8" opacity="0.32"/>
<circle cx="136.4" cy="19.7" r="0.68" fill="#e8e8e8" opacity="0.67"/>
<circle cx="133.5" cy="21.7" r="0.35" fill="#e8e8e8" opacity="0.63"/>
<circle cx="137.9" cy="27.9" r="0.44" fill="#e8e8e8" opacity="0.41"/>
<circle cx="139.8" cy="26.6" r="0.37" fill="#e8e8e8" opacity="0.49"/>
<circle cx="142.6" cy="40.6" r="0.53" fill="#e8e8e8" opacity="0.61"/>
<circle cx="142.7" cy="38.9" r="0.69" fill="#e8e8e8" opacity="0.49"/>
<circle cx="142.1" cy="33.4" r="0.77" fill="#e8e8e8" opacity="0.40"/>
<circle cx="144.3" cy="39.2" r="0.49" fill="#e8e8e8" opacity="0.62"/>
<circle cx="143.2" cy="44.1" r="0.66" fill="#e8e8e8" opacity="0.45"/>
<circle cx="139.8" cy="46.0" r="0.67" fill="#e8e8e8" opacity="0.41"/>
<circle cx="136.1" cy="52.3" r="0.52" fill="#e8e8e8" opacity="0.40"/>
<circle cx="139.9" cy="45.9" r="0.54" fill="#e8e8e8" opacity="0.36"/>
<circle cx="132.1" cy="61.3" r="0.68" fill="#e8e8e8" opacity="0.60"/>
<circle cx="132.7" cy="61.5" r="0.52" fill="#e8e8e8" opacity="0.62"/>
<circle cx="136.2" cy="67.7" r="0.69" fill="#e8e8e8" opacity="0.62"/>
<circle cx="135.2" cy="66.0" r="0.71" fill="#e8e8e8" opacity="0.31"/>
<circle cx="136.6" cy="67.2" r="0.61" fill="#e8e8e8" opacity="0.59"/>
<circle cx="142.1" cy="68.8" r="0.71" fill="#e8e8e8" opacity="0.46"/>
<circle cx="146.7" cy="67.6" r="0.43" fill="#e8e8e8" opacity="0.38"/>
<circle cx="156.7" cy="67.4" r="0.40" fill="#e8e8e8" opacity="0.57"/>
<circle cx="142.4" cy="71.3" r="0.44" fill="#e8e8e8" opacity="0.65"/>
<circle cx="151.2" cy="67.8" r="0.62" fill="#e8e8e8" opacity="0.35"/>
<circle cx="145.3" cy="71.3" r="0.58" fill="#e8e8e8" opacity="0.63"/>
<circle cx="15.5" cy="27.6" r="0.76" fill="#e8e8e8" opacity="0.48"/>
<circle cx="16.6" cy="40.1" r="0.75" fill="#e8e8e8" opacity="0.69"/>
<circle cx="16.7" cy="38.9" r="0.39" fill="#e8e8e8" opacity="0.78"/>
<circle cx="19.6" cy="40.1" r="0.42" fill="#e8e8e8" opacity="0.47"/>
<circle cx="22.0" cy="52.9" r="0.71" fill="#e8e8e8" opacity="0.33"/>
<circle cx="18.4" cy="46.9" r="0.71" fill="#e8e8e8" opacity="0.68"/>
<circle cx="18.9" cy="43.9" r="0.65" fill="#e8e8e8" opacity="0.52"/>
<circle cx="19.5" cy="48.5" r="0.54" fill="#e8e8e8" opacity="0.65"/>
<circle cx="26.0" cy="60.6" r="0.51" fill="#e8e8e8" opacity="0.40"/>
<circle cx="35.0" cy="57.8" r="0.43" fill="#e8e8e8" opacity="0.76"/>
<circle cx="33.5" cy="56.9" r="0.45" fill="#e8e8e8" opacity="0.73"/>
<circle cx="34.2" cy="58.3" r="0.64" fill="#e8e8e8" opacity="0.53"/>
<circle cx="39.6" cy="56.5" r="0.48" fill="#e8e8e8" opacity="0.60"/>
<circle cx="56.9" cy="62.9" r="0.50" fill="#e8e8e8" opacity="0.75"/>
<circle cx="54.7" cy="63.9" r="0.70" fill="#e8e8e8" opacity="0.64"/>
<circle cx="59.7" cy="63.1" r="0.80" fill="#e8e8e8" opacity="0.46"/>
<circle cx="51.3" cy="57.4" r="0.53" fill="#e8e8e8" opacity="0.61"/>
<circle cx="61.7" cy="65.0" r="0.63" fill="#e8e8e8" opacity="0.67"/>
<circle cx="72.1" cy="63.9" r="0.72" fill="#e8e8e8" opacity="0.79"/>
<circle cx="67.0" cy="63.1" r="0.79" fill="#e8e8e8" opacity="0.63"/>
<circle cx="65.8" cy="62.3" r="0.41" fill="#e8e8e8" opacity="0.49"/>
<circle cx="56.0" cy="70.0" r="0.55" fill="#e8e8e8" opacity="0.68"/>
<circle cx="59.0" cy="69.3" r="0.58" fill="#e8e8e8" opacity="0.45"/>
<circle cx="55.1" cy="83.3" r="0.53" fill="#e8e8e8" opacity="0.66"/>
<circle cx="54.5" cy="81.5" r="0.73" fill="#e8e8e8" opacity="0.79"/>
<circle cx="54.6" cy="91.8" r="0.67" fill="#e8e8e8" opacity="0.72"/>
<circle cx="52.7" cy="92.7" r="0.51" fill="#e8e8e8" opacity="0.62"/>
<circle cx="56.5" cy="102.5" r="0.35" fill="#e8e8e8" opacity="0.47"/>
<circle cx="52.9" cy="90.0" r="0.36" fill="#e8e8e8" opacity="0.70"/>
<circle cx="79.1" cy="66.3" r="0.73" fill="#e8e8e8" opacity="0.72"/>
<circle cx="82.7" cy="71.3" r="0.39" fill="#e8e8e8" opacity="0.76"/>
<circle cx="79.3" cy="66.1" r="0.53" fill="#e8e8e8" opacity="0.70"/>
<circle cx="88.1" cy="73.3" r="0.46" fill="#e8e8e8" opacity="0.46"/>
<circle cx="91.2" cy="78.9" r="0.80" fill="#e8e8e8" opacity="0.34"/>
<circle cx="99.3" cy="85.0" r="0.66" fill="#e8e8e8" opacity="0.69"/>
<circle cx="91.0" cy="77.9" r="0.75" fill="#e8e8e8" opacity="0.76"/>
<circle cx="90.5" cy="74.5" r="0.76" fill="#e8e8e8" opacity="0.38"/>
<circle cx="99.5" cy="85.3" r="0.68" fill="#e8e8e8" opacity="0.32"/>
<circle cx="105.1" cy="79.5" r="0.63" fill="#e8e8e8" opacity="0.33"/>
<circle cx="114.5" cy="70.9" r="0.61" fill="#e8e8e8" opacity="0.48"/>
<circle cx="108.9" cy="75.0" r="0.69" fill="#e8e8e8" opacity="0.39"/>
<circle cx="107.7" cy="77.8" r="0.38" fill="#e8e8e8" opacity="0.76"/>
<circle cx="115.4" cy="68.8" r="0.47" fill="#e8e8e8" opacity="0.48"/>
<circle cx="120.9" cy="67.4" r="0.37" fill="#e8e8e8" opacity="0.34"/>
<circle cx="115.4" cy="68.6" r="0.48" fill="#e8e8e8" opacity="0.72"/>
<circle cx="124.7" cy="67.8" r="0.66" fill="#e8e8e8" opacity="0.46"/>
<circle cx="125.1" cy="67.0" r="0.69" fill="#e8e8e8" opacity="0.62"/>
<circle cx="11.2" cy="70.9" r="0.79" fill="#e8e8e8" opacity="0.56"/>
<circle cx="10.1" cy="71.0" r="0.47" fill="#e8e8e8" opacity="0.68"/>
<circle cx="4.7" cy="66.0" r="0.47" fill="#e8e8e8" opacity="0.73"/>
<circle cx="8.5" cy="66.7" r="0.48" fill="#e8e8e8" opacity="0.78"/>
<circle cx="15.9" cy="69.6" r="0.58" fill="#e8e8e8" opacity="0.58"/>
<circle cx="26.2" cy="60.6" r="0.54" fill="#e8e8e8" opacity="0.51"/>
<circle cx="22.3" cy="63.3" r="0.66" fill="#e8e8e8" opacity="0.52"/>
<circle cx="12.6" cy="69.9" r="0.44" fill="#e8e8e8" opacity="0.64"/>
<circle cx="3.1" cy="89.1" r="0.74" fill="#e8e8e8" opacity="0.55"/>
<circle cx="4.2" cy="81.7" r="0.51" fill="#e8e8e8" opacity="0.49"/>
<circle cx="2.9" cy="78.7" r="0.66" fill="#e8e8e8" opacity="0.78"/>
<circle cx="-0.9" cy="89.3" r="0.71" fill="#e8e8e8" opacity="0.41"/>
<circle cx="94.0" cy="100.2" r="0.67" fill="#e8e8e8" opacity="0.64"/>
<circle cx="99.6" cy="88.7" r="0.57" fill="#e8e8e8" opacity="0.73"/>
<circle cx="94.5" cy="96.2" r="0.72" fill="#e8e8e8" opacity="0.53"/>
<circle cx="96.2" cy="85.0" r="0.61" fill="#e8e8e8" opacity="0.62"/>
<circle cx="96.0" cy="95.9" r="0.50" fill="#e8e8e8" opacity="0.64"/>
<circle cx="98.5" cy="45.1" r="0.40" fill="#e8e8e8" opacity="0.47"/>
<circle cx="97.6" cy="45.8" r="0.60" fill="#e8e8e8" opacity="0.70"/>
<circle cx="97.4" cy="51.6" r="0.53" fill="#e8e8e8" opacity="0.68"/>
<circle cx="100.9" cy="57.0" r="0.51" fill="#e8e8e8" opacity="0.55"/>
<circle cx="98.1" cy="61.9" r="0.65" fill="#e8e8e8" opacity="0.71"/>
<circle cx="100.2" cy="69.0" r="0.54" fill="#e8e8e8" opacity="0.62"/>
<circle cx="102.0" cy="60.0" r="0.47" fill="#e8e8e8" opacity="0.54"/>
<circle cx="16.0" cy="24.6" r="0.60" fill="#f4f4f4" opacity="0.96"/>
<circle cx="12.8" cy="25.3" r="1.13" fill="#f4f4f4" opacity="0.72"/>
<circle cx="16.7" cy="26.0" r="0.53" fill="#f4f4f4" opacity="0.81"/>
<circle cx="17.7" cy="25.0" r="1.01" fill="#f4f4f4" opacity="0.75"/>
<circle cx="14.5" cy="23.1" r="0.85" fill="#f4f4f4" opacity="0.98"/>
<circle cx="16.9" cy="26.8" r="0.77" fill="#f4f4f4" opacity="0.92"/>
<circle cx="92.0" cy="15.0" r="0.97" fill="#f4f4f4" opacity="0.92"/>
<circle cx="94.3" cy="13.9" r="0.69" fill="#f4f4f4" opacity="0.76"/>
<circle cx="93.3" cy="17.9" r="0.64" fill="#f4f4f4" opacity="0.97"/>
<circle cx="97.5" cy="13.7" r="0.77" fill="#f4f4f4" opacity="0.85"/>
<circle cx="91.5" cy="15.8" r="1.13" fill="#f4f4f4" opacity="0.73"/>
<circle cx="104.5" cy="5.1" r="0.91" fill="#f4f4f4" opacity="0.97"/>
<circle cx="101.7" cy="4.4" r="0.56" fill="#f4f4f4" opacity="0.86"/>
<circle cx="100.4" cy="4.9" r="0.85" fill="#f4f4f4" opacity="0.98"/>
<circle cx="103.2" cy="6.6" r="0.95" fill="#f4f4f4" opacity="0.73"/>
<circle cx="139.2" cy="8.4" r="0.93" fill="#f4f4f4" opacity="0.99"/>
<circle cx="135.5" cy="10.5" r="0.92" fill="#f4f4f4" opacity="0.74"/>
<circle cx="137.0" cy="13.0" r="1.20" fill="#f4f4f4" opacity="0.74"/>
<circle cx="140.0" cy="12.7" r="0.67" fill="#f4f4f4" opacity="0.88"/>
<circle cx="135.4" cy="9.4" r="0.97" fill="#f4f4f4" opacity="0.88"/>
<circle cx="135.9" cy="19.9" r="0.74" fill="#f4f4f4" opacity="0.96"/>
<circle cx="134.6" cy="21.9" r="0.78" fill="#f4f4f4" opacity="1.00"/>
<circle cx="134.5" cy="19.5" r="1.06" fill="#f4f4f4" opacity="0.80"/>
<circle cx="133.5" cy="20.6" r="0.81" fill="#f4f4f4" opacity="0.80"/>
<circle cx="131.1" cy="22.9" r="0.57" fill="#f4f4f4" opacity="0.94"/>
<circle cx="94.5" cy="38.9" r="1.07" fill="#f4f4f4" opacity="0.85"/>
<circle cx="99.3" cy="35.9" r="1.02" fill="#f4f4f4" opacity="0.83"/>
<circle cx="95.9" cy="39.9" r="0.78" fill="#f4f4f4" opacity="0.81"/>
<circle cx="100.3" cy="36.6" r="0.97" fill="#f4f4f4" opacity="0.75"/>
<circle cx="73.0" cy="29.9" r="0.54" fill="#f4f4f4" opacity="0.99"/>
<circle cx="68.3" cy="33.8" r="1.19" fill="#f4f4f4" opacity="0.88"/>
<circle cx="67.2" cy="28.8" r="0.65" fill="#f4f4f4" opacity="0.82"/>
<circle cx="62.4" cy="67.1" r="0.75" fill="#f4f4f4" opacity="0.74"/>
<circle cx="62.0" cy="62.5" r="0.56" fill="#f4f4f4" opacity="0.87"/>
<circle cx="63.0" cy="62.1" r="0.82" fill="#f4f4f4" opacity="0.91"/>
<circle cx="63.4" cy="63.8" r="1.12" fill="#f4f4f4" opacity="0.75"/>
<circle cx="63.1" cy="66.0" r="1.12" fill="#f4f4f4" opacity="0.85"/>
<circle cx="58.8" cy="62.0" r="0.87" fill="#f4f4f4" opacity="0.75"/>
<circle cx="62.5" cy="62.2" r="1.05" fill="#f4f4f4" opacity="0.77"/>
<circle cx="55.2" cy="70.2" r="0.82" fill="#f4f4f4" opacity="0.87"/>
<circle cx="57.8" cy="70.2" r="0.84" fill="#f4f4f4" opacity="0.98"/>
<circle cx="58.8" cy="74.5" r="0.52" fill="#f4f4f4" opacity="1.00"/>
<circle cx="61.3" cy="72.2" r="0.87" fill="#f4f4f4" opacity="0.86"/>
<circle cx="61.5" cy="69.6" r="0.95" fill="#f4f4f4" opacity="0.86"/>
<circle cx="57.2" cy="73.3" r="1.00" fill="#f4f4f4" opacity="0.73"/>
<circle cx="78.1" cy="61.2" r="0.84" fill="#f4f4f4" opacity="0.89"/>
<circle cx="73.6" cy="62.1" r="0.76" fill="#f4f4f4" opacity="0.96"/>
<circle cx="74.8" cy="63.3" r="1.01" fill="#f4f4f4" opacity="0.89"/>
<circle cx="79.3" cy="58.9" r="0.92" fill="#f4f4f4" opacity="0.88"/>
<circle cx="29.6" cy="58.0" r="0.55" fill="#f4f4f4" opacity="0.76"/>
<circle cx="29.2" cy="56.7" r="0.55" fill="#f4f4f4" opacity="0.81"/>
<circle cx="28.2" cy="58.7" r="0.52" fill="#f4f4f4" opacity="0.93"/>
<circle cx="27.2" cy="60.1" r="0.51" fill="#f4f4f4" opacity="0.99"/>
<circle cx="4.8" cy="80.8" r="1.19" fill="#f4f4f4" opacity="0.95"/>
<circle cx="1.4" cy="77.3" r="0.66" fill="#f4f4f4" opacity="0.93"/>
<circle cx="2.0" cy="76.5" r="0.58" fill="#f4f4f4" opacity="0.74"/>
<circle cx="7.3" cy="80.8" r="0.76" fill="#f4f4f4" opacity="0.92"/>
<circle cx="130.8" cy="64.6" r="0.76" fill="#f4f4f4" opacity="0.89"/>
<circle cx="129.2" cy="63.1" r="0.86" fill="#f4f4f4" opacity="0.76"/>
<circle cx="130.6" cy="67.0" r="0.52" fill="#f4f4f4" opacity="0.73"/>
<circle cx="154.1" cy="62.0" r="0.68" fill="#f4f4f4" opacity="0.96"/>
<circle cx="152.7" cy="62.9" r="0.54" fill="#f4f4f4" opacity="0.78"/>
<circle cx="150.6" cy="66.2" r="1.18" fill="#f4f4f4" opacity="0.94"/>
<circle cx="55.3" cy="91.0" r="1.11" fill="#f4f4f4" opacity="0.98"/>
<circle cx="55.8" cy="86.3" r="0.72" fill="#f4f4f4" opacity="0.77"/>
<circle cx="53.2" cy="88.6" r="0.74" fill="#f4f4f4" opacity="0.95"/>
<circle cx="94.1" cy="84.0" r="0.69" fill="#f4f4f4" opacity="0.84"/>
<circle cx="95.6" cy="86.0" r="0.81" fill="#f4f4f4" opacity="0.76"/>
<circle cx="94.1" cy="84.6" r="0.62" fill="#f4f4f4" opacity="0.86"/>
<circle cx="35.2" cy="56.6" r="0.96" fill="#f4f4f4" opacity="0.74"/>
<circle cx="38.3" cy="54.5" r="0.81" fill="#f4f4f4" opacity="0.88"/>
<circle cx="39.2" cy="57.5" r="1.01" fill="#f4f4f4" opacity="0.76"/>
<circle cx="137.3" cy="42.5" r="0.51" fill="#f4f4f4" opacity="0.87"/>
<circle cx="136.8" cy="45.5" r="0.73" fill="#f4f4f4" opacity="0.95"/>
<circle cx="137.1" cy="41.2" r="1.00" fill="#f4f4f4" opacity="0.79"/>
<circle cx="60.2" cy="17.6" r="0.51" fill="#f4f4f4" opacity="0.98"/>
<circle cx="56.8" cy="18.0" r="0.61" fill="#f4f4f4" opacity="0.73"/>
<circle cx="47.3" cy="12.8" r="0.95" fill="#f4f4f4" opacity="0.82"/>
<circle cx="47.7" cy="10.0" r="0.59" fill="#f4f4f4" opacity="0.91"/>
<circle cx="119.0" cy="28.7" r="0.72" fill="#f4f4f4" opacity="0.82"/>
<circle cx="117.8" cy="30.6" r="1.11" fill="#f4f4f4" opacity="0.87"/>
<circle cx="16.6" cy="71.0" r="0.51" fill="#f4f4f4" opacity="0.84"/>
<circle cx="22.6" cy="71.0" r="1.14" fill="#f4f4f4" opacity="0.93"/>
<circle cx="143.4" cy="78.0" r="0.82" fill="#f4f4f4" opacity="0.90"/>
<circle cx="143.1" cy="79.1" r="1.02" fill="#f4f4f4" opacity="0.80"/>
<rect width="162.4" height="101.4" filter="url(#nbd)" opacity="0.2" style="mix-blend-mode:overlay"/></svg>
<svg x="195.5" y="117.9" width="162.8" height="101.4" viewBox="0 0 162.8 101.4" preserveAspectRatio="none" overflow="hidden"><defs><filter color-interpolation-filters="sRGB" id="fbe" x="0" y="0" width="1" height="1"><feGaussianBlur stdDeviation="0.35"/></filter><filter color-interpolation-filters="sRGB" id="nbe" x="0" y="0" width="1" height="1"><feTurbulence type="fractalNoise" baseFrequency="0.8" numOctaves="2" seed="7"/><feColorMatrix values="1.6 0 0 0 -0.3  1.6 0 0 0 -0.3  1.6 0 0 0 -0.3  0 0 0 0 1"/></filter><filter color-interpolation-filters="sRGB" id="sbe" x="-0.5" y="-0.5" width="2" height="2"><feGaussianBlur stdDeviation="2.2"/></filter></defs>
<g filter="url(#fbe)">
<rect width="162.8" height="101.4" fill="#454545"/>
<path d="M34.2,-0.9L34.2,2.7L33.6,7.6L32.3,11.3M32.3,11.3L38.4,13.7L44.5,16.1L49.4,18.0M49.4,18.0L51.8,13.7L54.9,12.5L57.4,6.4L58.6,-0.9M49.4,18.0L50.6,21.0L52.5,23.4L54.9,27.1L56.8,32.0L58.6,34.4L64.1,36.2M32.3,11.3L28.7,13.1L23.8,18.6L17.7,22.8L17.1,23.4M32.3,11.3L33.6,16.1L34.2,22.2M17.1,23.4L17.1,28.3L17.7,34.4L20.2,38.0L27.5,43.5M17.1,23.4L12.9,25.9L10.4,30.7L8.0,34.4L6.2,38.0M33.6,16.1L37.2,19.8L39.7,27.1L42.7,34.4L45.7,36.8M45.7,36.8L50.6,35.6L54.5,34.4L58.6,34.4M45.7,36.8L39.7,39.2L33.6,41.7L27.5,43.5M27.5,43.5L28.7,47.8L28.0,51.8L25.5,58.0L26.1,61.7L29.2,67.9M6.2,38.0L1.9,41.1L-1.0,41.7M6.2,38.0L4.4,42.9L4.5,48.1L6.9,51.8L7.6,52.4M7.6,52.4L11.9,53.0L15.6,56.8L16.8,58.0M6.2,38.0L9.2,40.5L12.3,41.7L15.3,45.3M72.0,-1.0L72.6,5.2L75.6,11.3L78.0,13.7L75.6,19.8M75.6,19.8L70.7,23.4L68.3,28.3L67.7,32.0L65.9,34.4L64.1,36.2M75.6,19.8L81.7,23.4L87.8,25.9L88.4,26.5M88.4,26.5L88.4,32.0M88.4,26.5L92.6,24.1L97.5,21.6M97.5,21.6L96.3,16.1L93.3,11.3L91.4,6.4L91.4,-1.0M97.5,21.6L102.4,22.8L106.0,22.2L107.5,20.4L112.4,17.3L116.6,14.9M97.5,21.6L103.6,25.9L106.0,30.7L105.4,35.6L106.0,41.7L107.5,46.0L107.5,50.2M64.1,36.2L62.2,41.7L60.4,46.0L57.0,49.5L54.5,50.6L51.5,53.0L49.1,56.8L46.6,61.1M64.1,36.2L68.3,39.2L72.0,44.0L76.0,47.0L78.5,51.8L81.0,56.8L84.1,59.9M84.1,59.9L89.7,56.8L97.1,53.7L104.5,50.6L107.5,50.2L113.0,55.9L121.3,66.9L129.5,65.5M123.9,-1.0L124.5,2.7L119.7,8.8L116.6,14.9L122.1,19.8M124.5,2.7L131.8,5.8L137.9,8.2L146.4,5.8L153.1,2.7L154.3,-1.0M153.1,2.7L156.1,8.8L159.7,13.7L164.0,14.9M137.9,8.2L133.0,12.5L129.4,16.1L127.5,18.5M125.7,26.4L119.7,27.6L113.6,28.9L106.0,30.7M125.7,26.4L131.2,30.7L131.8,35.6L133.0,41.6L134.2,47.7M126.9,47.7L134.2,47.7L141.5,48.3L146.4,45.3L151.2,42.8L156.1,44.7L164.0,46.5M134.2,47.7L132.9,55.9L130.9,62.7L129.5,65.5M29.2,67.9L34.2,64.2L40.4,62.4L46.6,61.1M46.6,61.1L47.2,70.4L52.5,72.3L55.0,72.9L57.5,75.4L59.9,78.5L64.9,79.7M29.2,67.9L24.3,75.4L19.9,80.1M7.6,52.4L8.2,60.5L8.8,69.2L8.2,76.0M8.2,76.0L4.5,78.5L2.0,80.3L-1.0,80.9M8.2,76.0L13.1,77.2L19.9,80.1M8.2,76.0L4.5,82.8L5.7,85.9L12.0,84.0L19.9,80.1M5.7,85.9L8.2,90.2L10.0,97.7L10.7,102.5M5.7,85.9L2.0,87.0L-1.0,88.0M19.9,80.1L24.3,85.3L26.1,87.8L30.5,86.5M26.1,87.8L25.5,95.2L28.0,100.1L29.2,102.5M64.9,79.7L67.4,86.5L70.5,91.5M70.5,91.5L77.3,93.9L81.0,96.4L83.5,100.1L84.7,102.5M70.5,91.5L66.1,95.2L62.4,98.9L59.9,102.5M64.9,79.7L66.1,78.5L71.1,74.1L77.3,70.4L83.5,66.1L84.1,59.9M83.5,66.1L89.7,72.9L95.9,79.1L102.7,85.3L108.0,85.3M102.7,85.3L98.3,91.5L94.6,97.7L92.2,102.5" fill="none" stroke="#9a9a9a" stroke-width="3.0" stroke-linejoin="round" opacity="0.35"/>
<path d="M34.2,-0.9L34.2,2.7L33.6,7.6L32.3,11.3M32.3,11.3L38.4,13.7L44.5,16.1L49.4,18.0M49.4,18.0L51.8,13.7L54.9,12.5L57.4,6.4L58.6,-0.9M49.4,18.0L50.6,21.0L52.5,23.4L54.9,27.1L56.8,32.0L58.6,34.4L64.1,36.2M32.3,11.3L28.7,13.1L23.8,18.6L17.7,22.8L17.1,23.4M32.3,11.3L33.6,16.1L34.2,22.2M17.1,23.4L17.1,28.3L17.7,34.4L20.2,38.0L27.5,43.5M17.1,23.4L12.9,25.9L10.4,30.7L8.0,34.4L6.2,38.0M33.6,16.1L37.2,19.8L39.7,27.1L42.7,34.4L45.7,36.8M45.7,36.8L50.6,35.6L54.5,34.4L58.6,34.4M45.7,36.8L39.7,39.2L33.6,41.7L27.5,43.5M27.5,43.5L28.7,47.8L28.0,51.8L25.5,58.0L26.1,61.7L29.2,67.9M6.2,38.0L1.9,41.1L-1.0,41.7M6.2,38.0L4.4,42.9L4.5,48.1L6.9,51.8L7.6,52.4M7.6,52.4L11.9,53.0L15.6,56.8L16.8,58.0M6.2,38.0L9.2,40.5L12.3,41.7L15.3,45.3M72.0,-1.0L72.6,5.2L75.6,11.3L78.0,13.7L75.6,19.8M75.6,19.8L70.7,23.4L68.3,28.3L67.7,32.0L65.9,34.4L64.1,36.2M75.6,19.8L81.7,23.4L87.8,25.9L88.4,26.5M88.4,26.5L88.4,32.0M88.4,26.5L92.6,24.1L97.5,21.6M97.5,21.6L96.3,16.1L93.3,11.3L91.4,6.4L91.4,-1.0M97.5,21.6L102.4,22.8L106.0,22.2L107.5,20.4L112.4,17.3L116.6,14.9M97.5,21.6L103.6,25.9L106.0,30.7L105.4,35.6L106.0,41.7L107.5,46.0L107.5,50.2M64.1,36.2L62.2,41.7L60.4,46.0L57.0,49.5L54.5,50.6L51.5,53.0L49.1,56.8L46.6,61.1M64.1,36.2L68.3,39.2L72.0,44.0L76.0,47.0L78.5,51.8L81.0,56.8L84.1,59.9M84.1,59.9L89.7,56.8L97.1,53.7L104.5,50.6L107.5,50.2L113.0,55.9L121.3,66.9L129.5,65.5M123.9,-1.0L124.5,2.7L119.7,8.8L116.6,14.9L122.1,19.8M124.5,2.7L131.8,5.8L137.9,8.2L146.4,5.8L153.1,2.7L154.3,-1.0M153.1,2.7L156.1,8.8L159.7,13.7L164.0,14.9M137.9,8.2L133.0,12.5L129.4,16.1L127.5,18.5M125.7,26.4L119.7,27.6L113.6,28.9L106.0,30.7M125.7,26.4L131.2,30.7L131.8,35.6L133.0,41.6L134.2,47.7M126.9,47.7L134.2,47.7L141.5,48.3L146.4,45.3L151.2,42.8L156.1,44.7L164.0,46.5M134.2,47.7L132.9,55.9L130.9,62.7L129.5,65.5M29.2,67.9L34.2,64.2L40.4,62.4L46.6,61.1M46.6,61.1L47.2,70.4L52.5,72.3L55.0,72.9L57.5,75.4L59.9,78.5L64.9,79.7M29.2,67.9L24.3,75.4L19.9,80.1M7.6,52.4L8.2,60.5L8.8,69.2L8.2,76.0M8.2,76.0L4.5,78.5L2.0,80.3L-1.0,80.9M8.2,76.0L13.1,77.2L19.9,80.1M8.2,76.0L4.5,82.8L5.7,85.9L12.0,84.0L19.9,80.1M5.7,85.9L8.2,90.2L10.0,97.7L10.7,102.5M5.7,85.9L2.0,87.0L-1.0,88.0M19.9,80.1L24.3,85.3L26.1,87.8L30.5,86.5M26.1,87.8L25.5,95.2L28.0,100.1L29.2,102.5M64.9,79.7L67.4,86.5L70.5,91.5M70.5,91.5L77.3,93.9L81.0,96.4L83.5,100.1L84.7,102.5M70.5,91.5L66.1,95.2L62.4,98.9L59.9,102.5M64.9,79.7L66.1,78.5L71.1,74.1L77.3,70.4L83.5,66.1L84.1,59.9M83.5,66.1L89.7,72.9L95.9,79.1L102.7,85.3L108.0,85.3M102.7,85.3L98.3,91.5L94.6,97.7L92.2,102.5" fill="none" stroke="#d0d0d0" stroke-width="1.35" stroke-linejoin="round" stroke-linecap="round"/>
<path d="M122.1,19.8L127.5,18.5L125.7,26.4Z" fill="#c8c8c8" stroke="#d0d0d0" stroke-width="1.2"/>
<path d="M145,45L151,41.5L157,43L159,46L150,46.5Z" fill="#bdbdbd"/>
<circle cx="32.3" cy="11.3" r="1.8" fill="#d6d6d6"/>
<circle cx="49.4" cy="18" r="1.4" fill="#d6d6d6"/>
<circle cx="17.1" cy="23.4" r="1.6" fill="#d6d6d6"/>
<circle cx="6.2" cy="38" r="1.5" fill="#d6d6d6"/>
<circle cx="27.5" cy="43.5" r="1.6" fill="#d6d6d6"/>
<circle cx="45.7" cy="36.8" r="1.4" fill="#d6d6d6"/>
<circle cx="64.1" cy="36.2" r="1.7" fill="#d6d6d6"/>
<circle cx="75.6" cy="19.8" r="1.5" fill="#d6d6d6"/>
<circle cx="88.4" cy="26.5" r="1.5" fill="#d6d6d6"/>
<circle cx="97.5" cy="21.6" r="1.8" fill="#d6d6d6"/>
<circle cx="116.6" cy="14.9" r="1.4" fill="#d6d6d6"/>
<circle cx="124.5" cy="2.7" r="1.3" fill="#d6d6d6"/>
<circle cx="153.1" cy="2.7" r="1.5" fill="#d6d6d6"/>
<circle cx="131.2" cy="30.7" r="1.4" fill="#d6d6d6"/>
<circle cx="134.2" cy="47.7" r="1.3" fill="#d6d6d6"/>
<circle cx="129.5" cy="65.5" r="1.4" fill="#d6d6d6"/>
<circle cx="29.2" cy="67.9" r="1.8" fill="#d6d6d6"/>
<circle cx="46.6" cy="61.1" r="1.3" fill="#d6d6d6"/>
<circle cx="8.2" cy="76" r="1.6" fill="#d6d6d6"/>
<circle cx="19.9" cy="80.1" r="1.6" fill="#d6d6d6"/>
<circle cx="64.9" cy="79.7" r="1.5" fill="#d6d6d6"/>
<circle cx="70.5" cy="91.5" r="1.5" fill="#d6d6d6"/>
<circle cx="84.1" cy="59.9" r="1.4" fill="#d6d6d6"/>
<circle cx="102.7" cy="85.3" r="1.7" fill="#d6d6d6"/>
<circle cx="7.6" cy="52.4" r="1.4" fill="#d6d6d6"/>
<circle cx="34.2" cy="22.2" r="1.2" fill="#eeeeee"/>
<circle cx="88.4" cy="32" r="1.1" fill="#eeeeee"/>
<circle cx="101.4" cy="66.7" r="0.9" fill="#eeeeee"/>
<circle cx="101.4" cy="69.2" r="0.9" fill="#eeeeee"/>
<circle cx="92" cy="38" r="0.9" fill="#eeeeee"/>
<circle cx="71.4" cy="35" r="0.8" fill="#eeeeee"/>
<circle cx="16.8" cy="58" r="1.0" fill="#eeeeee"/>
<path d="M45.5,88L47.5,88L47,91L49,92L48.5,94.5L45,94L46,91Z" fill="#e6e6e6"/>
</g>
<rect width="162.8" height="101.4" filter="url(#nbe)" opacity="0.18" style="mix-blend-mode:overlay"/></svg>
<svg x="370.0" y="117.9" width="162.4" height="101.2" viewBox="0 0 162.4 101.2" preserveAspectRatio="none" overflow="hidden"><defs><filter color-interpolation-filters="sRGB" id="fbf" x="0" y="0" width="1" height="1"><feGaussianBlur stdDeviation="0.35"/></filter><filter color-interpolation-filters="sRGB" id="nbf" x="0" y="0" width="1" height="1"><feTurbulence type="fractalNoise" baseFrequency="0.8" numOctaves="2" seed="7"/><feColorMatrix values="1.6 0 0 0 -0.3  1.6 0 0 0 -0.3  1.6 0 0 0 -0.3  0 0 0 0 1"/></filter><filter color-interpolation-filters="sRGB" id="sbf" x="-0.5" y="-0.5" width="2" height="2"><feGaussianBlur stdDeviation="2.2"/></filter></defs>
<g filter="url(#fbf)">
<rect width="162.4" height="101.2" fill="#404040"/>
<path d="M-1.0,28.6L6.1,29.8L13.2,26.3L22.6,22.7L32.1,25.1L36.8,28.6L43.9,27.5L51.0,25.1L60.4,23.9L66.3,22.7M66.3,22.7L67.5,15.6L69.9,8.6L72.3,-1.0M66.3,22.7L74.6,21.5L81.0,20.4L80.0,23.9L89.5,25.1L96.6,28.7L103.6,29.8L110.7,28.7L123.7,21.6M66.3,22.7L72.3,27.5L74.6,36.9L75.8,46.4L74.6,55.8L72.3,60.5M36.8,28.6L38.0,39.3L39.2,46.4L36.8,53.4L29.7,55.8L22.6,57.0L17.9,60.5L15.5,70.0L16.7,77.1L20.3,81.8L27.4,80.6L39.2,77.1L43.9,72.4L46.3,65.3L46.3,58.2L39.2,54.6M46.3,58.2L53.3,61.7L62.8,62.9L72.3,60.5L80.0,65.3L87.1,64.1L96.6,60.6L103.6,58.2L106.0,62.9L115.5,67.7L127.3,70.0L136.8,68.9L150.9,66.5M6.1,29.8L3.7,39.3L-1.0,41.6M39.2,77.1L43.9,86.5L48.6,93.6L53.3,102.0M20.3,81.8L17.9,93.6L13.2,102.0M62.8,62.9L60.4,70.0L55.7,77.1L51.0,84.2L48.6,93.6M-1.0,70.0L3.7,77.1L10.0,79.0L16.7,77.1M101.3,9.7L117.8,9.7L123.7,21.6M101.3,9.7L97.0,2.0L96.0,-1.0M123.7,21.6L135.6,25.1L136.8,27.5L139.1,34.6L142.7,44.0L150.9,36.9L155.7,34.6L163.0,32.2M142.7,44.0L140.3,48.8L148.6,55.9L150.9,65.3L153.3,70.0L157.0,80.0M142.7,-1.0L153.3,3.8L160.4,13.3L155.7,22.7L158.0,32.2M103.6,58.2L102.5,50.0L103.6,29.8M87.1,64.1L84.7,70.0L82.4,79.5L84.7,93.7L89.5,102.0M110.0,102.0L112.0,90.0L115.5,67.7" fill="none" stroke="#777" stroke-width="2.4" stroke-linejoin="round" opacity="0.45"/>
<path d="M-1.0,28.6L6.1,29.8L13.2,26.3L22.6,22.7L32.1,25.1L36.8,28.6L43.9,27.5L51.0,25.1L60.4,23.9L66.3,22.7M66.3,22.7L67.5,15.6L69.9,8.6L72.3,-1.0M66.3,22.7L74.6,21.5L81.0,20.4L80.0,23.9L89.5,25.1L96.6,28.7L103.6,29.8L110.7,28.7L123.7,21.6M66.3,22.7L72.3,27.5L74.6,36.9L75.8,46.4L74.6,55.8L72.3,60.5M36.8,28.6L38.0,39.3L39.2,46.4L36.8,53.4L29.7,55.8L22.6,57.0L17.9,60.5L15.5,70.0L16.7,77.1L20.3,81.8L27.4,80.6L39.2,77.1L43.9,72.4L46.3,65.3L46.3,58.2L39.2,54.6M46.3,58.2L53.3,61.7L62.8,62.9L72.3,60.5L80.0,65.3L87.1,64.1L96.6,60.6L103.6,58.2L106.0,62.9L115.5,67.7L127.3,70.0L136.8,68.9L150.9,66.5M6.1,29.8L3.7,39.3L-1.0,41.6M39.2,77.1L43.9,86.5L48.6,93.6L53.3,102.0M20.3,81.8L17.9,93.6L13.2,102.0M62.8,62.9L60.4,70.0L55.7,77.1L51.0,84.2L48.6,93.6M-1.0,70.0L3.7,77.1L10.0,79.0L16.7,77.1M101.3,9.7L117.8,9.7L123.7,21.6M101.3,9.7L97.0,2.0L96.0,-1.0M123.7,21.6L135.6,25.1L136.8,27.5L139.1,34.6L142.7,44.0L150.9,36.9L155.7,34.6L163.0,32.2M142.7,44.0L140.3,48.8L148.6,55.9L150.9,65.3L153.3,70.0L157.0,80.0M142.7,-1.0L153.3,3.8L160.4,13.3L155.7,22.7L158.0,32.2M103.6,58.2L102.5,50.0L103.6,29.8M87.1,64.1L84.7,70.0L82.4,79.5L84.7,93.7L89.5,102.0M110.0,102.0L112.0,90.0L115.5,67.7" fill="none" stroke="#cfcfcf" stroke-width="1.15" stroke-linejoin="round"/>
<ellipse cx="45" cy="27.5" rx="2.4" ry="2.0" fill="#e6e6e6"/>
<ellipse cx="46.3" cy="53.4" rx="1.6" ry="3.6" fill="#dcdcdc"/>
<ellipse cx="69.9" cy="61.7" rx="3.5" ry="2.2" fill="#e0e0e0"/>
<ellipse cx="4.9" cy="36.9" rx="1.4" ry="2.4" fill="#e0e0e0"/>
<ellipse cx="2.5" cy="79.4" rx="1.2" ry="1.0" fill="#e0e0e0"/>
<ellipse cx="36.8" cy="3.8" rx="1.0" ry="1.6" fill="#e8e8e8"/>
<ellipse cx="135.6" cy="25.1" rx="2.2" ry="2.0" fill="#ececec"/>
<ellipse cx="142.7" cy="44" rx="1.2" ry="1.2" fill="#d8d8d8"/>
<ellipse cx="150.9" cy="66.5" rx="1.2" ry="1.2" fill="#d8d8d8"/>
<ellipse cx="80" cy="65.3" rx="1.2" ry="1.2" fill="#d0d0d0"/>
<ellipse cx="88" cy="24" rx="1.0" ry="1.0" fill="#d0d0d0"/>
<circle cx="66.3" cy="22.7" r="2.3" fill="none" stroke="#e8e8e8" stroke-width="1.2"/>
</g>
<rect width="162.4" height="101.2" filter="url(#nbf)" opacity="0.18" style="mix-blend-mode:overlay"/></svg>
<rect x="24" y="15.3" width="19.5" height="18.0" fill="#fff"/>
<text x="27.20" y="27.60" font-size="14" text-anchor="start" font-weight="bold" fill="#000" >a)</text>
<rect x="195.6" y="15.3" width="20.9" height="17.7" fill="#fff"/>
<text x="199.10" y="27.60" font-size="14" text-anchor="start" font-weight="bold" fill="#000" >b)</text>
<rect x="370.8" y="15.3" width="21.1" height="17.8" fill="#fff"/>
<text x="374.90" y="27.60" font-size="14" text-anchor="start" font-weight="bold" fill="#000" >c)</text>
<rect x="23.8" y="117.9" width="19.8" height="19.6" fill="#fff"/>
<text x="26.70" y="132.50" font-size="14" text-anchor="start" font-weight="bold" fill="#000" >d)</text>
<rect x="195.5" y="117.9" width="20.2" height="19.6" fill="#fff"/>
<text x="199.80" y="132.40" font-size="14" text-anchor="start" font-weight="bold" fill="#000" >e)</text>
<rect x="370.0" y="117.9" width="21.0" height="19.8" fill="#fff"/>
<text x="375.80" y="132.40" font-size="14" text-anchor="start" font-weight="bold" fill="#000" >f)</text>
<rect x="135" y="86.3" width="45" height="25.7" fill="#fff"/>
<text x="158.00" y="101.50" font-size="14" text-anchor="middle" font-weight="normal" fill="#000" >50 µm</text>
<line x1="146.7" y1="107.8" x2="169" y2="107.8" stroke="#000" stroke-width="2.4"/>
<rect x="307" y="86.3" width="45.8" height="25.7" fill="#fff"/>
<text x="330.50" y="101.50" font-size="14" text-anchor="middle" font-weight="normal" fill="#000" >50 µm</text>
<line x1="318.8" y1="107.8" x2="341" y2="107.8" stroke="#000" stroke-width="2.4"/>
<rect x="479.9" y="86.3" width="46.1" height="25.7" fill="#fff"/>
<text x="503.40" y="101.50" font-size="14" text-anchor="middle" font-weight="normal" fill="#000" >50 µm</text>
<line x1="491.6" y1="107.8" x2="513.9" y2="107.8" stroke="#000" stroke-width="2.4"/>
<rect x="135" y="190.4" width="45.8" height="26.4" fill="#fff"/>
<text x="158.50" y="205.30" font-size="14" text-anchor="middle" font-weight="normal" fill="#000" >50 µm</text>
<line x1="146.0" y1="212.8" x2="172.8" y2="212.8" stroke="#000" stroke-width="2.4"/>
<rect x="307" y="190.4" width="45.8" height="26.1" fill="#fff"/>
<text x="330.50" y="205.30" font-size="14" text-anchor="middle" font-weight="normal" fill="#000" >50 µm</text>
<line x1="318.5" y1="212.8" x2="344.8" y2="212.8" stroke="#000" stroke-width="2.4"/>
<rect x="478.7" y="190.1" width="46.3" height="25.9" fill="#fff"/>
<text x="502.40" y="205.30" font-size="14" text-anchor="middle" font-weight="normal" fill="#000" >50 µm</text>
<line x1="490.0" y1="212.8" x2="516.5" y2="212.8" stroke="#000" stroke-width="2.4"/>
<rect x="6.2" y="13.3" width="182.6" height="398.4" rx="7" fill="none" stroke="#0000ff" stroke-width="2.5"/>
<rect x="191.4" y="12.8" width="171.3" height="399.7" rx="7" fill="none" stroke="#ff0000" stroke-width="2.4"/>
<rect x="365.5" y="13.7" width="179.4" height="398.2" rx="7" fill="none" stroke="#66b535" stroke-width="2.4"/>
<rect x="83.4" y="4.3" width="42.0" height="21.7" fill="#fff"/>
<rect x="84.4" y="5.3" width="40.0" height="19.7" fill="#0000ff"/>
<text x="104.20" y="20.30" font-size="14" text-anchor="middle" font-weight="normal" fill="#fff" >ZK40</text>
<rect x="241.4" y="4.2" width="75.6" height="21.8" fill="#fff"/>
<rect x="242.4" y="5.2" width="73.6" height="19.8" fill="#ee0000"/>
<text x="279.20" y="20.30" font-size="14" text-anchor="middle" font-weight="normal" fill="#fff" >ZK40-CaO</text>
<rect x="418.2" y="4.6" width="65.5" height="21.4" fill="#fff"/>
<rect x="419.2" y="5.6" width="63.5" height="19.4" fill="#24a65a"/>
<text x="450.95" y="20.30" font-size="14" text-anchor="middle" font-weight="normal" fill="#fff" >ZK40-Gd</text>
<path d="M85.46,230.80V378.60M111.99,230.80V378.60M138.51,230.80V378.60M165.04,230.80V378.60M72.20,242.65H178.30M72.20,266.35H178.30M72.20,290.05H178.30M72.20,369.45H178.30M72.20,351.15H178.30M72.20,332.85H178.30" stroke="#f3f3f3" stroke-width="0.9" fill="none"/>
<path d="M98.73,230.80V378.60M125.25,230.80V378.60M151.78,230.80V378.60M72.20,254.50H178.30M72.20,278.20H178.30M72.20,301.90H178.30M72.20,360.30H178.30M72.20,342.00H178.30M72.20,323.70H178.30" stroke="#e7e7e7" stroke-width="0.9" fill="none"/>
<path d="M72.20,230.80H178.30V378.60" stroke="#ababab" stroke-width="1" fill="none"/>
<path d="M72.20,230.80V303.60M72.20,306.60V378.60H178.30" stroke="#8a8a8a" stroke-width="1" fill="none"/>
<path d="M70.40,304.60L74.00,302.60M70.40,307.60L74.00,305.60" stroke="#9a9a9a" stroke-width="0.8" fill="none"/>
<path d="M70.20,230.80H72.20M70.20,254.50H72.20M70.20,278.20H72.20M70.20,301.90H72.20M70.20,323.70H72.20M70.20,342.00H72.20M70.20,360.30H72.20M70.20,378.60H72.20M72.20,378.60V380.60M98.73,378.60V380.60M125.25,378.60V380.60M151.78,378.60V380.60M178.30,378.60V380.60" stroke="#8a8a8a" stroke-width="0.9" fill="none"/>
<text transform="translate(69.40,236.40) scale(1.03,1)" font-size="14" text-anchor="end" fill="#111">20,000</text>
<text transform="translate(69.40,260.10) scale(1.03,1)" font-size="14" text-anchor="end" fill="#111">18,000</text>
<text transform="translate(69.40,283.80) scale(1.03,1)" font-size="14" text-anchor="end" fill="#111">16,000</text>
<text transform="translate(69.40,307.50) scale(1.03,1)" font-size="14" text-anchor="end" fill="#111">14,000</text>
<text transform="translate(69.40,329.30) scale(1.03,1)" font-size="14" text-anchor="end" fill="#111">160</text>
<text transform="translate(69.40,347.60) scale(1.03,1)" font-size="14" text-anchor="end" fill="#111">120</text>
<text transform="translate(69.40,365.90) scale(1.03,1)" font-size="14" text-anchor="end" fill="#111">80</text>
<text transform="translate(69.40,384.20) scale(1.03,1)" font-size="14" text-anchor="end" fill="#111">40</text>
<text transform="translate(72.20,392.80) scale(1.03,1)" font-size="14" text-anchor="middle" fill="#111">0</text>
<text transform="translate(98.73,392.80) scale(1.03,1)" font-size="14" text-anchor="middle" fill="#111">15</text>
<text transform="translate(125.25,392.80) scale(1.03,1)" font-size="14" text-anchor="middle" fill="#111">30</text>
<text transform="translate(151.78,392.80) scale(1.03,1)" font-size="14" text-anchor="middle" fill="#111">45</text>
<text transform="translate(178.30,392.80) scale(1.03,1)" font-size="14" text-anchor="middle" fill="#111">60</text>
<text x="126.20" y="406.80" font-size="14" text-anchor="middle" font-weight="bold" fill="#000" >Distance [µm]</text>
<text transform="translate(21.60,313.40) rotate(-90)" font-size="14" font-weight="bold" text-anchor="middle">Counts [a.u.]</text>
<text x="9.60" y="235.60" font-size="14" text-anchor="start" font-weight="bold" fill="#000" >g)</text>
<path d="M254.51,231.80V379.20M276.33,231.80V379.20M298.15,231.80V379.20M319.97,231.80V379.20M341.79,231.80V379.20M243.60,244.30H352.70M243.60,269.30H352.70M243.60,294.30H352.70M243.60,368.23H352.70M243.60,346.29H352.70M243.60,324.35H352.70" stroke="#f3f3f3" stroke-width="0.9" fill="none"/>
<path d="M265.42,231.80V379.20M287.24,231.80V379.20M309.06,231.80V379.20M330.88,231.80V379.20M243.60,256.80H352.70M243.60,281.80H352.70M243.60,357.26H352.70M243.60,335.32H352.70M243.60,313.38H352.70" stroke="#e7e7e7" stroke-width="0.9" fill="none"/>
<path d="M243.60,231.80H352.70V379.20" stroke="#ababab" stroke-width="1" fill="none"/>
<path d="M243.60,231.80V304.00M243.60,307.00V379.20H352.70" stroke="#8a8a8a" stroke-width="1" fill="none"/>
<path d="M241.80,305.00L245.40,303.00M241.80,308.00L245.40,306.00" stroke="#9a9a9a" stroke-width="0.8" fill="none"/>
<path d="M241.60,231.80H243.60M241.60,256.80H243.60M241.60,281.80H243.60M241.60,313.38H243.60M241.60,335.32H243.60M241.60,357.26H243.60M241.60,379.20H243.60M243.60,379.20V381.20M265.42,379.20V381.20M287.24,379.20V381.20M309.06,379.20V381.20M330.88,379.20V381.20M352.70,379.20V381.20" stroke="#8a8a8a" stroke-width="0.9" fill="none"/>
<text transform="translate(239.60,237.40) scale(1.05,1)" font-size="14" text-anchor="end" fill="#111">4600</text>
<text transform="translate(239.60,262.40) scale(1.05,1)" font-size="14" text-anchor="end" fill="#111">4300</text>
<text transform="translate(239.60,287.40) scale(1.05,1)" font-size="14" text-anchor="end" fill="#111">4000</text>
<text transform="translate(239.60,318.98) scale(1.05,1)" font-size="14" text-anchor="end" fill="#111">45</text>
<text transform="translate(239.60,340.92) scale(1.05,1)" font-size="14" text-anchor="end" fill="#111">30</text>
<text transform="translate(239.60,362.86) scale(1.05,1)" font-size="14" text-anchor="end" fill="#111">15</text>
<text transform="translate(239.60,384.80) scale(1.05,1)" font-size="14" text-anchor="end" fill="#111">0</text>
<text transform="translate(243.60,393.40) scale(1.05,1)" font-size="14" text-anchor="middle" fill="#111">0</text>
<text transform="translate(265.42,393.40) scale(1.05,1)" font-size="14" text-anchor="middle" fill="#111">10</text>
<text transform="translate(287.24,393.40) scale(1.05,1)" font-size="14" text-anchor="middle" fill="#111">20</text>
<text transform="translate(309.06,393.40) scale(1.05,1)" font-size="14" text-anchor="middle" fill="#111">30</text>
<text transform="translate(330.88,393.40) scale(1.05,1)" font-size="14" text-anchor="middle" fill="#111">40</text>
<text transform="translate(352.70,393.40) scale(1.05,1)" font-size="14" text-anchor="middle" fill="#111">50</text>
<text x="300.40" y="406.80" font-size="14" text-anchor="middle" font-weight="bold" fill="#000" >Distance [µm]</text>
<text transform="translate(204.50,300.70) rotate(-90)" font-size="14" font-weight="bold" text-anchor="middle">Counts [a.u.]</text>
<text x="193.80" y="235.40" font-size="14" text-anchor="start" font-weight="bold" fill="#000" >h)</text>
<path d="M437.15,231.00V378.40M464.45,231.00V378.40M491.75,231.00V378.40M519.05,231.00V378.40M423.50,240.83H532.70M423.50,260.50H532.70M423.50,280.17H532.70M423.50,367.03H532.70M423.50,344.30H532.70M423.50,321.57H532.70" stroke="#f3f3f3" stroke-width="0.9" fill="none"/>
<path d="M450.80,231.00V378.40M478.10,231.00V378.40M505.40,231.00V378.40M423.50,250.67H532.70M423.50,270.34H532.70M423.50,290.00H532.70M423.50,355.67H532.70M423.50,332.93H532.70M423.50,310.20H532.70" stroke="#e7e7e7" stroke-width="0.9" fill="none"/>
<path d="M423.50,231.00H532.70V378.40" stroke="#ababab" stroke-width="1" fill="none"/>
<path d="M423.50,231.00V303.00M423.50,306.00V378.40H532.70" stroke="#8a8a8a" stroke-width="1" fill="none"/>
<path d="M421.70,304.00L425.30,302.00M421.70,307.00L425.30,305.00" stroke="#9a9a9a" stroke-width="0.8" fill="none"/>
<path d="M421.50,231.00H423.50M421.50,250.67H423.50M421.50,270.34H423.50M421.50,290.00H423.50M421.50,310.20H423.50M421.50,332.93H423.50M421.50,355.67H423.50M421.50,378.40H423.50M423.50,378.40V380.40M450.80,378.40V380.40M478.10,378.40V380.40M505.40,378.40V380.40M532.70,378.40V380.40" stroke="#8a8a8a" stroke-width="0.9" fill="none"/>
<text transform="translate(420.60,236.60) scale(1.08,1)" font-size="14" text-anchor="end" fill="#111">4800</text>
<text transform="translate(420.60,256.27) scale(1.08,1)" font-size="14" text-anchor="end" fill="#111">4200</text>
<text transform="translate(420.60,275.94) scale(1.08,1)" font-size="14" text-anchor="end" fill="#111">3600</text>
<text transform="translate(420.60,295.60) scale(1.08,1)" font-size="14" text-anchor="end" fill="#111">3000</text>
<text transform="translate(420.60,315.80) scale(1.08,1)" font-size="14" text-anchor="end" fill="#111">75</text>
<text transform="translate(420.60,338.53) scale(1.08,1)" font-size="14" text-anchor="end" fill="#111">50</text>
<text transform="translate(420.60,361.27) scale(1.08,1)" font-size="14" text-anchor="end" fill="#111">25</text>
<text transform="translate(420.60,384.00) scale(1.08,1)" font-size="14" text-anchor="end" fill="#111">0</text>
<text transform="translate(423.50,393.60) scale(1.08,1)" font-size="14" text-anchor="middle" fill="#111">0</text>
<text transform="translate(450.80,393.60) scale(1.08,1)" font-size="14" text-anchor="middle" fill="#111">20</text>
<text transform="translate(478.10,393.60) scale(1.08,1)" font-size="14" text-anchor="middle" fill="#111">40</text>
<text transform="translate(505.40,393.60) scale(1.08,1)" font-size="14" text-anchor="middle" fill="#111">60</text>
<text transform="translate(532.70,393.60) scale(1.08,1)" font-size="14" text-anchor="middle" fill="#111">80</text>
<text x="478.00" y="407.00" font-size="14" text-anchor="middle" font-weight="bold" fill="#000" >Distance [µm]</text>
<text transform="translate(383.60,302.70) rotate(-90)" font-size="14" font-weight="bold" text-anchor="middle">Counts [a.u.]</text>
<text x="376.80" y="235.40" font-size="14" text-anchor="start" font-weight="bold" fill="#000" >i)</text>
<polyline points="72.50,344.30 73.30,345.87 74.10,349.10 75.15,350.64 76.20,350.40 77.25,350.77 78.30,351.80 79.30,353.98 80.30,353.90 81.35,354.45 82.40,356.00 83.40,354.55 84.40,354.60 85.45,354.54 86.50,356.00 87.55,357.42 88.60,358.00 89.60,356.14 90.60,356.60 91.30,359.38 92.00,360.10 92.70,358.72 93.40,358.00 94.40,359.53 95.40,362.80 96.45,363.79 97.50,364.20 98.55,366.65 99.60,367.60 100.30,371.22 101.00,372.50 102.00,374.37 103.00,373.80 103.93,372.47 104.87,374.57 105.80,373.10 106.70,374.16 107.60,374.01 108.50,375.20 109.43,374.25 110.37,375.31 111.30,374.50 112.20,374.31 113.10,376.30 114.00,375.90 114.93,374.23 115.87,376.19 116.80,374.50 117.70,376.02 118.60,374.54 119.50,375.20 120.43,373.47 121.37,373.41 122.30,373.80 123.20,373.09 124.10,372.48 125.00,373.10 126.05,373.13 127.10,372.50 128.10,373.44 129.10,371.80 130.15,370.01 131.20,370.40 132.25,371.52 133.30,371.80 134.30,369.69 135.30,369.70 136.35,369.74 137.40,370.40 138.10,370.01 138.80,369.00 139.40,372.50 140.10,363.50 140.80,356.60 141.50,363.50 142.20,361.70 142.90,358.70 143.60,363.78 144.30,366.30 145.60,358.00 146.30,362.90 147.00,370.40 147.70,357.30 148.40,361.44 149.10,364.90 150.40,358.70 151.10,361.51 151.80,364.90 152.50,363.53 153.20,360.80 154.25,361.73 155.30,363.50 156.30,365.36 157.30,364.90 158.35,366.39 159.40,370.40 160.10,366.30 160.80,363.50 161.80,363.60 162.80,362.10 163.70,360.22 164.60,360.10" fill="none" stroke="#ff1010" stroke-width="1.6" stroke-linejoin="round" />
<polyline points="72.50,340.80 73.40,345.00 74.45,345.58 75.50,347.00 76.55,346.79 77.60,345.60 78.60,346.92 79.60,349.80 80.65,346.14 81.70,345.00 82.75,346.13 83.80,348.40 84.80,346.98 85.80,344.30 86.85,346.27 87.90,349.10 88.90,351.51 89.90,351.10 90.95,349.62 92.00,345.60 93.05,346.83 94.10,347.00 95.10,344.25 96.10,343.60 97.03,342.94 97.97,344.53 98.90,345.60 99.95,348.46 101.00,349.10 102.00,348.94 103.00,349.80 104.05,347.46 105.10,344.30 106.10,346.29 107.10,345.60 108.03,344.04 108.97,342.81 109.90,342.90 110.80,342.28 111.70,345.10 112.60,345.00 113.53,343.25 114.47,343.80 115.40,342.20 116.30,343.25 117.20,342.55 118.10,344.30 119.03,345.67 119.97,344.46 120.90,345.60 121.95,346.47 123.00,348.40 124.00,347.54 125.00,345.60 126.05,343.62 127.10,342.90 128.10,342.35 129.10,339.40 130.15,340.88 131.20,344.30 132.25,343.18 133.30,342.90 134.30,345.52 135.30,347.00 136.35,350.79 137.40,352.50 138.10,349.75 138.80,348.40 139.80,349.95 140.80,349.80 141.85,348.31 142.90,349.10 143.95,346.95 145.00,347.70 146.00,346.60 147.00,348.40 148.05,347.65 149.10,345.60 150.10,347.53 151.10,347.00 152.15,342.82 153.20,341.50 153.90,344.83 154.60,345.60 155.60,343.37 156.60,342.20 157.65,343.71 158.70,344.30 159.40,341.10 160.10,340.80 161.10,342.16 162.10,342.90 162.80,341.70 163.50,341.50 164.60,348.40" fill="none" stroke="#0a14ff" stroke-width="1.6" stroke-linejoin="round" />
<polyline points="72.80,278.00 73.50,273.49 74.20,270.40 74.90,266.79 75.60,264.90 76.30,266.11 77.00,269.00 78.00,267.52 79.00,265.00 80.00,263.55 81.00,260.80 81.70,259.31 82.40,257.30 83.10,257.99 83.80,259.40 84.50,258.29 85.20,256.00 86.25,256.66 87.30,258.00 88.60,256.00 89.30,253.34 90.00,249.00 90.70,251.04 91.40,252.50 92.10,253.83 92.80,254.60 94.10,249.00 94.80,247.73 95.50,247.00 96.20,249.51 96.90,250.40 97.60,247.66 98.30,245.60 99.60,243.60 100.30,239.99 101.00,238.00 101.70,238.42 102.40,237.10 103.30,236.53 104.20,238.16 105.10,237.40 106.03,236.72 106.97,237.40 107.90,238.00 108.75,237.97 109.60,237.12 110.45,237.64 111.30,236.70 112.17,236.56 113.05,238.15 113.92,238.80 114.80,238.80 115.70,238.01 116.60,238.05 117.50,238.00 118.43,238.27 119.37,238.15 120.30,239.40 121.12,240.43 121.94,239.36 122.76,240.45 123.58,239.65 124.40,240.80 125.25,241.77 126.10,242.16 126.95,241.11 127.80,241.80 128.70,242.34 129.60,240.68 130.50,241.20 131.55,240.90 132.60,242.20 133.30,242.36 134.00,240.80 135.30,244.30 136.00,241.12 136.70,238.80 138.00,240.10 138.80,238.80 140.10,253.90 140.80,259.40 141.50,257.84 142.20,254.60 142.90,255.10 143.60,257.30 144.30,256.70 145.00,255.30 146.30,264.20 147.00,245.60 147.70,250.14 148.40,255.30 149.10,252.84 149.80,249.80 151.10,258.00 151.80,251.95 152.50,247.70 153.20,251.01 153.90,253.90 154.60,253.06 155.30,251.10 156.60,253.20 157.30,251.15 158.00,249.80 158.70,248.47 159.40,245.60 160.50,253.90 161.30,254.47 162.10,256.00 163.15,260.59 164.20,263.50" fill="none" stroke="#000" stroke-width="1.6" stroke-linejoin="round" />
<polyline points="244.00,359.00 245.50,361.00 246.70,352.40 248.00,360.00 250.00,363.00 251.00,365.98 252.10,363.79 253.20,365.06 254.30,366.93 255.40,367.07 256.50,363.22 257.60,366.22 258.70,366.94 259.80,362.01 260.90,362.33 262.00,363.21 263.10,362.09 264.20,366.85 265.30,365.99 266.40,365.19 267.50,363.06 268.60,365.87 269.70,362.69 270.80,367.27 271.90,363.38 273.00,366.38 274.10,363.25 275.20,362.65 276.30,362.37 277.40,364.13 278.50,366.78 279.60,363.22 280.70,365.49 281.80,363.95 282.90,367.18 284.00,362.97 285.10,362.83 286.20,362.66 287.30,364.00 288.40,366.83 289.50,361.97 290.60,366.14 291.70,363.00 292.80,365.16 293.90,366.02 295.00,362.76 296.10,365.70 297.20,362.85 298.30,366.73 299.40,364.15 300.50,365.12 301.60,362.38 302.70,367.16 303.80,365.14 304.90,367.27 306.00,362.02 307.10,366.16 308.20,365.60 309.30,361.95 310.40,363.07 311.50,362.24 312.60,365.29 313.70,363.10 314.80,365.14 315.90,363.88 317.00,366.61 318.10,363.56 319.20,366.02 320.30,366.28 321.40,367.29 322.50,365.59 323.60,362.06 324.70,362.69 325.80,365.67 326.90,362.84 328.00,366.53 329.10,365.47 330.20,361.85 331.30,362.09 332.40,365.16 333.50,363.17 334.60,365.26 335.70,364.01 336.80,366.63 337.90,362.68 339.00,366.16 340.10,363.36" fill="none" stroke="#ff1010" stroke-width="1.6" stroke-linejoin="round" />
<polyline points="244.00,350.00 245.20,340.00 246.20,320.00 246.90,317.50 247.60,330.00 248.50,348.00 250.00,351.00 251.00,348.01 252.10,347.77 253.20,354.26 254.30,347.98 255.40,349.69 256.50,353.19 257.60,348.41 258.70,351.93 259.80,352.04 260.90,352.37 262.00,348.35 263.10,352.29 264.20,348.55 265.30,348.65 266.40,349.25 267.50,350.50 268.60,353.45 269.70,348.53 270.80,353.44 271.90,353.55 273.00,349.59 274.10,348.00 275.20,352.44 276.30,351.44 277.40,348.15 278.50,351.38 279.60,348.68 280.70,347.18 281.80,352.29 282.90,347.26 284.00,350.04 285.10,349.49 286.20,347.93 287.30,353.29 288.40,349.43 289.50,348.00 290.60,352.81 291.70,348.87 292.80,350.36 293.90,350.69 295.00,352.54 296.10,349.77 297.20,353.74 298.30,348.52 299.40,353.40 300.50,350.15 301.60,353.18 302.70,349.49 303.80,352.33 304.90,348.83 306.00,353.46 307.10,353.71 308.20,352.55 309.30,354.32 310.40,352.81 311.50,347.94 312.60,354.89 313.70,352.25 314.80,348.54 315.90,352.14 317.00,353.13 318.10,352.23 319.20,348.66 320.30,352.45 321.40,347.97 322.50,350.41 323.60,354.16 324.70,348.66 325.80,352.06 326.90,350.65 328.00,353.42 329.10,350.31 330.20,352.46 331.30,354.87 332.40,352.13 333.50,347.85 334.60,354.18 335.70,349.33 336.80,353.16 337.90,350.72 339.00,348.18 340.10,353.23" fill="none" stroke="#ff20ff" stroke-width="1.6" stroke-linejoin="round" />
<polyline points="244.10,345.80 245.60,350.20 247.00,347.00 248.90,351.30 251.10,349.00 253.30,347.00 254.40,341.50 256.50,334.90 259.80,332.70 261.00,331.04 262.10,330.64 263.20,335.69 264.30,330.76 265.40,336.16 266.50,330.74 267.60,329.52 268.70,329.79 269.80,328.96 270.90,334.01 272.00,334.26 273.10,328.52 274.20,328.86 275.30,332.16 276.40,328.24 277.50,332.34 278.60,333.27 279.70,332.67 280.80,333.93 281.90,329.84 283.00,335.85 284.10,331.95 285.20,335.91 286.30,333.70 287.40,339.25 288.50,336.49 289.60,340.06 290.70,336.68 291.80,334.76 292.90,339.34 294.00,333.55 295.10,336.91 296.20,337.63 297.30,335.59 298.40,332.14 299.50,334.72 300.60,335.08 301.70,334.76 302.80,330.17 303.90,331.84 305.00,328.54 306.10,331.49 307.20,326.44 308.30,327.02 309.40,328.82 310.50,328.84 311.60,330.83 312.70,326.72 313.80,330.75 314.90,329.90 316.00,329.87 317.10,332.10 318.20,330.28 319.30,334.73 320.40,336.04 321.50,332.42 322.60,334.90 323.70,332.66 324.80,333.94 325.90,336.72 327.00,333.77 328.10,338.57 329.20,333.77 330.30,336.05 331.40,334.69 332.50,339.21 333.60,334.91 334.70,339.83 335.80,340.13 336.90,338.91 338.00,335.82 339.10,333.84 340.20,338.66" fill="none" stroke="#0a14ff" stroke-width="1.6" stroke-linejoin="round" />
<polyline points="243.50,256.60 244.50,265.40 245.60,259.90 246.70,301.40 247.80,279.50 248.50,257.70 250.00,258.80 251.10,256.60 252.20,258.80 253.30,256.60 254.40,259.90 255.00,241.40 256.50,245.70 257.50,244.25 258.60,244.54 259.70,248.84 260.80,244.39 261.90,249.47 263.00,245.03 264.10,249.52 265.20,245.83 266.30,243.01 267.40,248.92 268.50,245.91 269.60,247.22 270.70,245.22 271.80,248.46 272.90,243.38 274.00,249.00 275.10,243.93 276.20,247.89 277.30,250.09 278.40,249.21 279.50,245.26 280.60,247.25 281.70,248.27 282.80,248.22 283.90,249.63 285.00,245.32 286.10,244.52 287.20,244.74 288.30,248.97 289.40,247.87 290.50,244.94 291.60,243.64 292.70,247.79 293.80,245.78 294.90,245.42 296.00,248.41 297.10,243.72 298.20,249.01 299.30,244.67 300.40,247.87 301.50,249.50 302.60,243.25 303.70,248.25 304.80,249.00 305.90,242.93 307.00,247.83 308.10,248.05 309.20,245.74 310.30,248.82 311.40,244.12 312.50,248.43 313.60,248.52 314.70,243.31 315.80,247.51 316.90,249.54 318.00,245.38 319.10,243.08 320.20,249.95 321.30,248.89 322.40,245.64 323.50,249.99 324.60,243.80 325.70,249.56 326.80,245.06 327.90,249.24 329.00,245.26 330.10,249.65 331.20,245.10 332.30,245.34 333.40,247.86 334.50,245.78 335.60,248.17 336.70,245.56 337.80,249.77 338.90,249.05 340.00,244.17 341.10,247.15 340.50,253.40 342.30,246.80" fill="none" stroke="#000" stroke-width="1.6" stroke-linejoin="round" />
<polyline points="423.50,361.10 424.33,362.00 425.17,360.14 426.00,362.70 426.83,361.76 427.67,362.28 428.50,362.53 429.33,365.27 430.17,362.44 431.00,364.40 431.88,364.10 432.76,363.48 433.64,365.33 434.52,365.97 435.40,366.34 436.28,366.17 437.16,364.00 438.04,366.92 438.92,363.99 439.80,365.50 440.72,364.09 441.63,366.60 442.55,364.36 443.47,365.83 444.38,362.99 445.30,364.40 446.10,366.79 446.90,365.86 447.70,367.69 448.50,369.80 449.37,371.01 450.25,368.80 451.12,370.95 451.99,369.03 452.87,371.86 453.74,369.31 454.61,371.92 455.49,371.42 456.36,369.99 457.23,369.96 458.11,371.42 458.98,369.85 459.85,371.14 460.73,369.40 461.60,370.90 462.47,371.51 463.35,370.49 464.22,372.37 465.09,371.87 465.97,371.92 466.84,369.77 467.71,369.55 468.59,372.23 469.46,370.08 470.33,369.45 471.21,372.52 472.08,369.88 472.95,371.70 473.83,369.62 474.70,370.90 475.55,371.54 476.40,369.12 477.25,371.22 478.10,369.97 478.95,370.01 479.80,371.01 480.65,369.85 481.50,371.75 482.35,371.82 483.20,369.44 484.05,369.84 484.90,371.17 485.75,368.75 486.60,369.07 487.45,370.64 488.30,369.49 489.15,370.42 490.00,369.80 490.85,371.02 491.70,368.78 492.55,370.20 493.40,369.42 494.25,369.45 495.10,371.48 495.95,370.46 496.80,369.27 497.65,371.31 498.50,370.15 499.35,368.59 500.20,371.23 501.05,370.89 501.90,368.31 502.75,370.40 503.60,369.24 504.45,368.77 505.30,369.80 506.14,371.17 506.98,370.23 507.82,368.02 508.65,368.60 509.49,369.98 510.33,368.88 511.17,369.87 512.01,367.46 512.85,370.14 513.68,370.11 514.52,367.49 515.36,370.41 516.20,368.70 517.01,367.13 517.83,367.95 518.64,368.87 519.45,366.53 520.26,367.11 521.08,369.22 521.89,366.08 522.70,367.60 523.56,366.27 524.41,366.17 525.27,368.38 526.12,366.94 526.98,369.20 527.83,367.23 528.69,368.08 529.54,366.81 530.40,367.60" fill="none" stroke="#ff1010" stroke-width="1.6" stroke-linejoin="round" />
<polyline points="423.50,365.50 424.33,367.13 425.17,365.95 426.00,364.58 426.83,366.02 427.67,364.56 428.50,366.46 429.33,365.04 430.17,364.59 431.00,365.50 431.88,366.73 432.76,364.86 433.64,364.03 434.52,366.24 435.40,365.78 436.28,365.68 437.16,363.49 438.04,365.08 438.92,363.19 439.80,364.40 440.67,365.67 441.54,364.45 442.41,366.14 443.28,366.29 444.15,365.53 445.02,367.03 445.89,365.18 446.76,367.80 447.63,366.53 448.50,367.60 449.37,366.44 450.25,367.94 451.12,368.68 451.99,367.97 452.87,365.64 453.74,368.79 454.61,365.42 455.49,367.92 456.36,365.50 457.23,368.53 458.11,368.42 458.98,365.04 459.85,365.84 460.73,365.72 461.60,366.50 462.47,366.94 463.35,365.89 464.22,364.87 465.09,366.98 465.97,365.93 466.84,367.95 467.71,365.59 468.59,365.56 469.46,368.05 470.33,368.06 471.21,365.60 472.08,367.97 472.95,365.84 473.83,367.40 474.70,366.50 475.55,367.60 476.40,365.04 477.25,367.70 478.10,365.40 478.95,365.82 479.80,366.05 480.65,367.58 481.50,365.40 482.35,367.45 483.20,366.85 484.05,365.09 484.90,368.02 485.75,365.23 486.60,367.45 487.45,366.05 488.30,367.49 489.15,365.43 490.00,366.50 490.85,367.50 491.70,364.83 492.55,367.87 493.40,367.29 494.25,367.48 495.10,365.43 495.95,366.93 496.80,364.41 497.65,366.87 498.50,364.49 499.35,366.98 500.20,365.12 501.05,366.41 501.90,364.22 502.75,366.16 503.60,365.11 504.45,366.50 505.30,365.50 506.14,366.27 506.98,366.33 507.82,366.93 508.65,364.37 509.49,366.72 510.33,364.48 511.17,367.38 512.01,364.85 512.85,366.64 513.68,367.50 514.52,364.68 515.36,365.83 516.20,366.50 517.01,367.41 517.83,364.64 518.64,367.02 519.45,364.06 520.26,364.03 521.08,365.71 521.89,364.20 522.70,364.40 523.56,363.78 524.41,365.17 525.27,363.33 526.12,363.47 526.98,365.63 527.83,366.00 528.69,362.85 529.54,362.72 530.40,364.40" fill="none" stroke="#0a8a0a" stroke-width="1.6" stroke-linejoin="round" />
<polyline points="423.50,357.80 424.30,356.85 425.10,360.07 425.90,357.78 426.70,360.00 427.58,358.12 428.46,359.46 429.34,357.03 430.22,357.87 431.10,356.70 431.93,357.75 432.75,356.78 433.57,355.94 434.40,357.80 435.20,356.14 436.00,358.18 436.80,356.39 437.60,356.70 438.48,355.93 439.36,358.85 440.24,355.48 441.12,358.86 442.00,357.80 442.82,356.90 443.65,358.81 444.48,359.40 445.30,358.90 446.03,354.53 446.77,350.53 447.50,343.60 448.55,344.17 449.60,341.50 450.43,340.46 451.25,343.71 452.07,343.80 452.90,343.60 453.78,345.64 454.66,343.06 455.54,345.28 456.42,345.50 457.30,344.70 458.16,343.93 459.02,342.27 459.88,345.23 460.74,342.22 461.60,343.60 462.48,344.97 463.36,342.20 464.24,344.27 465.12,341.72 466.00,343.60 466.82,345.51 467.65,344.13 468.48,346.95 469.30,345.80 470.03,345.00 470.77,340.72 471.50,340.40 472.30,338.19 473.10,341.83 473.90,340.92 474.70,339.30 475.58,340.49 476.46,338.50 477.34,338.64 478.22,340.99 479.10,339.30 479.98,340.25 480.86,339.34 481.74,337.78 482.62,339.09 483.50,338.20 484.36,337.48 485.22,336.67 486.08,337.69 486.94,341.01 487.80,339.30 488.68,337.95 489.56,340.48 490.44,341.63 491.32,341.54 492.20,340.40 492.93,337.97 493.67,337.31 494.40,337.10 495.50,345.80 496.55,347.74 497.60,348.00 498.43,348.97 499.25,347.17 500.07,351.00 500.90,350.20 501.78,348.88 502.66,351.89 503.54,349.59 504.42,351.35 505.30,352.40 506.16,352.95 507.02,351.29 507.88,354.19 508.74,351.80 509.60,352.40 510.48,353.54 511.36,352.09 512.24,353.75 513.12,351.74 514.00,353.50 514.88,354.39 515.76,356.14 516.64,356.43 517.52,354.04 518.40,355.60 519.26,357.66 520.12,354.94 520.98,358.43 521.84,356.89 522.70,357.80 523.58,358.92 524.46,359.11 525.34,357.18 526.22,358.12 527.10,358.90 527.92,360.66 528.75,361.95 529.58,359.03 530.40,361.10" fill="none" stroke="#0a14ff" stroke-width="1.6" stroke-linejoin="round" />
<polyline points="423.20,251.76 425.00,253.54 429.80,252.23 434.50,250.59 439.30,249.93 444.00,253.13 446.40,256.00 447.60,239.81 450.00,240.13 451.00,242.09 452.00,242.31 453.00,240.48 454.00,240.59 455.00,242.24 456.00,241.80 457.00,242.15 458.00,240.81 459.00,241.32 460.00,240.92 461.00,242.24 462.00,241.19 463.00,241.87 464.00,242.67 465.00,241.08 466.00,241.62 467.00,242.09 468.00,242.51 469.00,241.33 470.00,241.19 471.00,240.53 472.00,242.40 473.00,240.49 474.00,240.50 475.00,241.65 476.00,241.46 477.00,241.94 478.00,241.02 479.00,242.16 480.00,240.48 481.00,240.81 482.00,241.89 483.00,240.50 484.00,241.03 485.00,242.04 486.00,241.97 487.00,240.98 488.00,240.64 489.00,241.16 490.00,242.04 491.00,241.18 492.00,240.58 493.00,242.00 494.00,241.67 495.00,242.50 496.00,242.56 497.00,242.49 498.00,241.35 499.00,242.23 500.00,241.03 501.00,241.06 502.00,241.26 503.00,242.54 504.00,242.45 505.00,240.90 506.00,241.17 507.00,241.18 508.00,241.17 509.00,241.25 510.00,241.23 511.00,240.77 512.00,241.65 513.00,242.21 514.00,241.60 515.00,242.31 516.00,241.65 517.00,240.72 518.00,242.12 519.00,242.41 519.70,241.50 522.00,243.90 524.40,248.60 526.70,247.50 529.10,251.00 531.50,254.50 532.70,255.70" fill="none" stroke="#000" stroke-width="1.6" stroke-linejoin="round" />
<svg x="84.3" y="270.2" width="75.7" height="63.6" viewBox="0 0 75.7 63.6" overflow="hidden"><defs><filter color-interpolation-filters="sRGB" id="ibg" x="0" y="0" width="1" height="1"><feGaussianBlur stdDeviation="0.5"/></filter><filter color-interpolation-filters="sRGB" id="ing" x="0" y="0" width="1" height="1"><feTurbulence type="fractalNoise" baseFrequency="0.7" numOctaves="2" seed="103"/><feColorMatrix values="1.6 0 0 0 -0.3  1.6 0 0 0 -0.3  1.6 0 0 0 -0.3  0 0 0 0 1"/></filter><filter color-interpolation-filters="sRGB" id="isg" x="-0.5" y="-0.5" width="2" height="2"><feGaussianBlur stdDeviation="3"/></filter></defs>
<rect width="75.7" height="63.6" fill="#3a3a3a"/>
<g filter="url(#isg)" opacity="0.9">
<ellipse cx="20" cy="15" rx="18" ry="10" fill="#454545"/>
<ellipse cx="55" cy="45" rx="18" ry="12" fill="#444"/>
<ellipse cx="15" cy="50" rx="12" ry="10" fill="#363636"/>
<ellipse cx="60" cy="10" rx="12" ry="8" fill="#3f3f3f"/>
</g>
<g filter="url(#ibg)">
<path d="M6.0,4.0L8.0,20.0L6.0,35.0L9.0,48.0L14.0,63.0" fill="none" stroke="#555555" stroke-width="2.2" opacity="0.55"/>
<path d="M8.0,20.0L25.0,14.0L40.0,10.0L58.0,5.0L70.0,2.0" fill="none" stroke="#555555" stroke-width="2.2" opacity="0.55"/>
<path d="M6.0,35.0L20.0,30.0L38.0,20.0L55.0,18.0L75.0,15.0" fill="none" stroke="#555555" stroke-width="2.2" opacity="0.55"/>
<path d="M40.0,48.0L55.0,42.0L75.0,40.0" fill="none" stroke="#555555" stroke-width="2.2" opacity="0.55"/>
<path d="M7,40L11,38.5L15,39.5L13,42L9,42Z" fill="#e8e8e8"/>
<path d="M64.5,21L67,18.5L70,20L69.5,25L66,26Z" fill="#f2f2f2"/>
<circle cx="12.9" cy="6" r="0.9" fill="#e0e0e0"/>
<circle cx="26.7" cy="15.5" r="0.8" fill="#e0e0e0"/>
<circle cx="12" cy="11" r="0.7" fill="#e0e0e0"/>
<circle cx="56" cy="22.3" r="0.9" fill="#e0e0e0"/>
<circle cx="60" cy="23" r="0.7" fill="#e0e0e0"/>
<circle cx="28.4" cy="55" r="1.0" fill="#e0e0e0"/>
<circle cx="30" cy="57" r="0.6" fill="#e0e0e0"/>
<circle cx="68" cy="42" r="0.6" fill="#e0e0e0"/>
<circle cx="45" cy="30" r="0.5" fill="#e0e0e0"/>
<circle cx="5" cy="47" r="0.6" fill="#e0e0e0"/>
</g>
<rect width="75.7" height="63.6" filter="url(#ing)" opacity="0.2" style="mix-blend-mode:overlay"/></svg>
<svg x="270.6" y="261.7" width="55.1" height="57.8" viewBox="0 0 55.1 57.8" overflow="hidden"><defs><filter color-interpolation-filters="sRGB" id="ibh" x="0" y="0" width="1" height="1"><feGaussianBlur stdDeviation="0.5"/></filter><filter color-interpolation-filters="sRGB" id="inh" x="0" y="0" width="1" height="1"><feTurbulence type="fractalNoise" baseFrequency="0.7" numOctaves="2" seed="104"/><feColorMatrix values="1.6 0 0 0 -0.3  1.6 0 0 0 -0.3  1.6 0 0 0 -0.3  0 0 0 0 1"/></filter><filter color-interpolation-filters="sRGB" id="ish" x="-0.5" y="-0.5" width="2" height="2"><feGaussianBlur stdDeviation="3"/></filter></defs>
<rect width="55.1" height="57.8" fill="#282828"/>
<g filter="url(#ibh)">
<path d="M25,0L36.5,0L36,5L33,9.5L29,9.5L26.5,5Z" fill="#8c8c8c"/>
<path d="M18.5,0.0L19.3,6.1L20.9,8.5" fill="none" stroke="#7a7a7a" stroke-width="2.8" stroke-linejoin="round" opacity="0.55"/>
<path d="M18.5,0.0L19.3,6.1L20.9,8.5" fill="none" stroke="#b4b4b4" stroke-width="1.1" stroke-linejoin="round"/>
<path d="M20.9,8.5L26.5,10.5L33.0,10.0L36.1,12.6L42.6,15.8L46.6,19.8" fill="none" stroke="#7a7a7a" stroke-width="2.8" stroke-linejoin="round" opacity="0.55"/>
<path d="M20.9,8.5L26.5,10.5L33.0,10.0L36.1,12.6L42.6,15.8L46.6,19.8" fill="none" stroke="#b4b4b4" stroke-width="1.1" stroke-linejoin="round"/>
<path d="M46.6,19.8L52.2,14.2L55.0,12.6" fill="none" stroke="#7a7a7a" stroke-width="2.8" stroke-linejoin="round" opacity="0.55"/>
<path d="M46.6,19.8L52.2,14.2L55.0,12.6" fill="none" stroke="#b4b4b4" stroke-width="1.1" stroke-linejoin="round"/>
<path d="M46.6,19.8L47.4,25.4L48.2,31.8L49.8,35.0L55.0,37.4" fill="none" stroke="#7a7a7a" stroke-width="2.8" stroke-linejoin="round" opacity="0.55"/>
<path d="M46.6,19.8L47.4,25.4L48.2,31.8L49.8,35.0L55.0,37.4" fill="none" stroke="#b4b4b4" stroke-width="1.1" stroke-linejoin="round"/>
<path d="M20.9,8.5L15.3,17.4L11.3,25.4L8.5,31.8" fill="none" stroke="#7a7a7a" stroke-width="2.8" stroke-linejoin="round" opacity="0.55"/>
<path d="M20.9,8.5L15.3,17.4L11.3,25.4L8.5,31.8" fill="none" stroke="#b4b4b4" stroke-width="1.1" stroke-linejoin="round"/>
<path d="M8.5,31.8L12.1,38.2L15.3,44.7L18.5,51.1L20.1,57.8" fill="none" stroke="#7a7a7a" stroke-width="2.8" stroke-linejoin="round" opacity="0.55"/>
<path d="M8.5,31.8L12.1,38.2L15.3,44.7L18.5,51.1L20.1,57.8" fill="none" stroke="#b4b4b4" stroke-width="1.1" stroke-linejoin="round"/>
<path d="M36.5,0.0L36.0,6.0" fill="none" stroke="#7a7a7a" stroke-width="2.8" stroke-linejoin="round" opacity="0.55"/>
<path d="M36.5,0.0L36.0,6.0" fill="none" stroke="#b4b4b4" stroke-width="1.1" stroke-linejoin="round"/>
<path d="M49.8,35.0L48.0,45.0L50.0,57.8" fill="none" stroke="#7a7a7a" stroke-width="2.8" stroke-linejoin="round" opacity="0.55"/>
<path d="M49.8,35.0L48.0,45.0L50.0,57.8" fill="none" stroke="#b4b4b4" stroke-width="1.1" stroke-linejoin="round"/>
<circle cx="8.6" cy="31.8" r="1.2" fill="#eee"/>
</g>
<rect width="55.1" height="57.8" filter="url(#inh)" opacity="0.15" style="mix-blend-mode:overlay"/></svg>
<svg x="439.6" y="259.0" width="75.2" height="68.5" viewBox="0 0 75.2 68.5" overflow="hidden"><defs><filter color-interpolation-filters="sRGB" id="ibi" x="0" y="0" width="1" height="1"><feGaussianBlur stdDeviation="0.5"/></filter><filter color-interpolation-filters="sRGB" id="ini" x="0" y="0" width="1" height="1"><feTurbulence type="fractalNoise" baseFrequency="0.7" numOctaves="2" seed="105"/><feColorMatrix values="1.6 0 0 0 -0.3  1.6 0 0 0 -0.3  1.6 0 0 0 -0.3  0 0 0 0 1"/></filter><filter color-interpolation-filters="sRGB" id="isi" x="-0.5" y="-0.5" width="2" height="2"><feGaussianBlur stdDeviation="3"/></filter></defs>
<rect width="75.2" height="68.5" fill="#333333"/>
<g filter="url(#isi)" opacity="0.8">
<ellipse cx="20" cy="20" rx="15" ry="10" fill="#3b3b3b"/>
<ellipse cx="50" cy="50" rx="18" ry="12" fill="#2e2e2e"/>
<ellipse cx="60" cy="15" rx="12" ry="8" fill="#393939"/>
</g>
<g filter="url(#ibi)">
<path d="M57.8,19.9L66.0,29.0L67.9,30.0" fill="none" stroke="#bdbdbd" stroke-width="1.0" stroke-linejoin="round"/>
<path d="M67.9,30.0L74.3,26.3L75.2,26.0" fill="none" stroke="#bdbdbd" stroke-width="1.0" stroke-linejoin="round"/>
<path d="M67.9,30.0L65.1,38.2L63.3,49.2L61.5,56.6L60.0,68.5" fill="none" stroke="#bdbdbd" stroke-width="1.0" stroke-linejoin="round"/>
<path d="M8.2,54.7L15.6,56.6L21.1,59.3L26.6,60.2" fill="none" stroke="#bdbdbd" stroke-width="1.0" stroke-linejoin="round"/>
<path d="M2.7,14.3L6.4,13.4" fill="none" stroke="#bdbdbd" stroke-width="1.0" stroke-linejoin="round"/>
<path d="M0.0,55.0L8.2,54.7" fill="none" stroke="#bdbdbd" stroke-width="1.0" stroke-linejoin="round"/>
<path d="M17.5,5L20,1.5L23,2L25,5L21,6Z" fill="#dcdcdc"/>
<ellipse cx="22" cy="59.5" rx="2" ry="1.2" fill="#e6e6e6"/>
<ellipse cx="4.5" cy="13.8" rx="1.8" ry="1" fill="#d0d0d0"/>
</g>
<rect width="75.2" height="68.5" filter="url(#ini)" opacity="0.15" style="mix-blend-mode:overlay"/></svg>
<circle cx="97.20" cy="310.60" r="1.25" fill="#ff1a1a"/><circle cx="100.38" cy="308.25" r="1.25" fill="#ff1a1a"/><circle cx="103.55" cy="305.91" r="1.25" fill="#ff1a1a"/><circle cx="106.73" cy="303.56" r="1.25" fill="#ff1a1a"/><circle cx="109.91" cy="301.22" r="1.25" fill="#ff1a1a"/><circle cx="113.08" cy="298.87" r="1.25" fill="#ff1a1a"/><circle cx="116.26" cy="296.52" r="1.25" fill="#ff1a1a"/><circle cx="119.44" cy="294.18" r="1.25" fill="#ff1a1a"/><circle cx="122.62" cy="291.83" r="1.25" fill="#ff1a1a"/><circle cx="125.79" cy="289.48" r="1.25" fill="#ff1a1a"/><circle cx="128.97" cy="287.14" r="1.25" fill="#ff1a1a"/><circle cx="132.15" cy="284.79" r="1.25" fill="#ff1a1a"/><circle cx="135.32" cy="282.45" r="1.25" fill="#ff1a1a"/><circle cx="138.50" cy="280.10" r="1.25" fill="#ff1a1a"/>
<circle cx="281.90" cy="294.30" r="1.4" fill="#ff1a1a"/><circle cx="285.82" cy="293.41" r="1.4" fill="#ff1a1a"/><circle cx="289.74" cy="292.52" r="1.4" fill="#ff1a1a"/><circle cx="293.67" cy="291.63" r="1.4" fill="#ff1a1a"/><circle cx="297.59" cy="290.74" r="1.4" fill="#ff1a1a"/><circle cx="301.51" cy="289.86" r="1.4" fill="#ff1a1a"/><circle cx="305.43" cy="288.97" r="1.4" fill="#ff1a1a"/><circle cx="309.36" cy="288.08" r="1.4" fill="#ff1a1a"/><circle cx="313.28" cy="287.19" r="1.4" fill="#ff1a1a"/><circle cx="317.20" cy="286.30" r="1.4" fill="#ff1a1a"/>
<circle cx="440.50" cy="289.00" r="1.25" fill="#ff1a1a"/><circle cx="444.51" cy="289.88" r="1.25" fill="#ff1a1a"/><circle cx="448.52" cy="290.75" r="1.25" fill="#ff1a1a"/><circle cx="452.54" cy="291.62" r="1.25" fill="#ff1a1a"/><circle cx="456.55" cy="292.50" r="1.25" fill="#ff1a1a"/><circle cx="460.56" cy="293.38" r="1.25" fill="#ff1a1a"/><circle cx="464.57" cy="294.25" r="1.25" fill="#ff1a1a"/><circle cx="468.59" cy="295.12" r="1.25" fill="#ff1a1a"/><circle cx="472.60" cy="296.00" r="1.25" fill="#ff1a1a"/><circle cx="476.61" cy="296.88" r="1.25" fill="#ff1a1a"/><circle cx="480.62" cy="297.75" r="1.25" fill="#ff1a1a"/><circle cx="484.64" cy="298.62" r="1.25" fill="#ff1a1a"/><circle cx="488.65" cy="299.50" r="1.25" fill="#ff1a1a"/><circle cx="492.66" cy="300.38" r="1.25" fill="#ff1a1a"/><circle cx="496.68" cy="301.25" r="1.25" fill="#ff1a1a"/><circle cx="500.69" cy="302.12" r="1.25" fill="#ff1a1a"/><circle cx="504.70" cy="303.00" r="1.25" fill="#ff1a1a"/>
<rect x="127.8" y="315.8" width="28.8" height="15.5" fill="#cecece"/>
<text x="142.20" y="324.40" font-size="7.6" text-anchor="middle" font-weight="bold" fill="#111" >20 µm</text>
<line x1="133" y1="328.7" x2="151.4" y2="328.7" stroke="#111" stroke-width="1.4"/>
<rect x="289.9" y="299.6" width="33.7" height="18.8" fill="#cecece"/>
<text x="306.80" y="309.60" font-size="8.9" text-anchor="middle" font-weight="bold" fill="#111" >20 µm</text>
<line x1="299.5" y1="314.7" x2="314" y2="314.7" stroke="#111" stroke-width="1.4"/>
<rect x="481.2" y="308.2" width="30.5" height="16.5" fill="#cecece"/>
<text x="496.30" y="317.00" font-size="8.2" text-anchor="middle" font-weight="bold" fill="#111" >20 µm</text>
<line x1="490" y1="320.5" x2="502" y2="320.5" stroke="#111" stroke-width="1.4"/>
<line x1="22.1" y1="423.3" x2="43.8" y2="423.3" stroke="#000" stroke-width="2.4"/>
<text x="48.20" y="428.30" font-size="13.4" text-anchor="start" font-weight="bold" fill="#000" >Mg</text>
<line x1="101" y1="423.3" x2="123" y2="423.3" stroke="#ff0000" stroke-width="2.4"/>
<text x="127.20" y="428.30" font-size="13.4" text-anchor="start" font-weight="bold" fill="#000" >Zn</text>
<line x1="178" y1="423.3" x2="200" y2="423.3" stroke="#0000ff" stroke-width="2.4"/>
<text x="205.50" y="428.30" font-size="13.4" text-anchor="start" font-weight="bold" fill="#000" >Zr</text>
<line x1="253" y1="423.3" x2="275.2" y2="423.3" stroke="#ff33ff" stroke-width="2.4"/>
<text x="281.30" y="428.30" font-size="13.4" text-anchor="start" font-weight="bold" fill="#000" >Ca</text>
<line x1="328" y1="423.3" x2="350.7" y2="423.3" stroke="#008000" stroke-width="2.4"/>
<text x="356.30" y="428.30" font-size="13.4" text-anchor="start" font-weight="bold" fill="#000" >Gd</text>
</svg>
</body></html>
